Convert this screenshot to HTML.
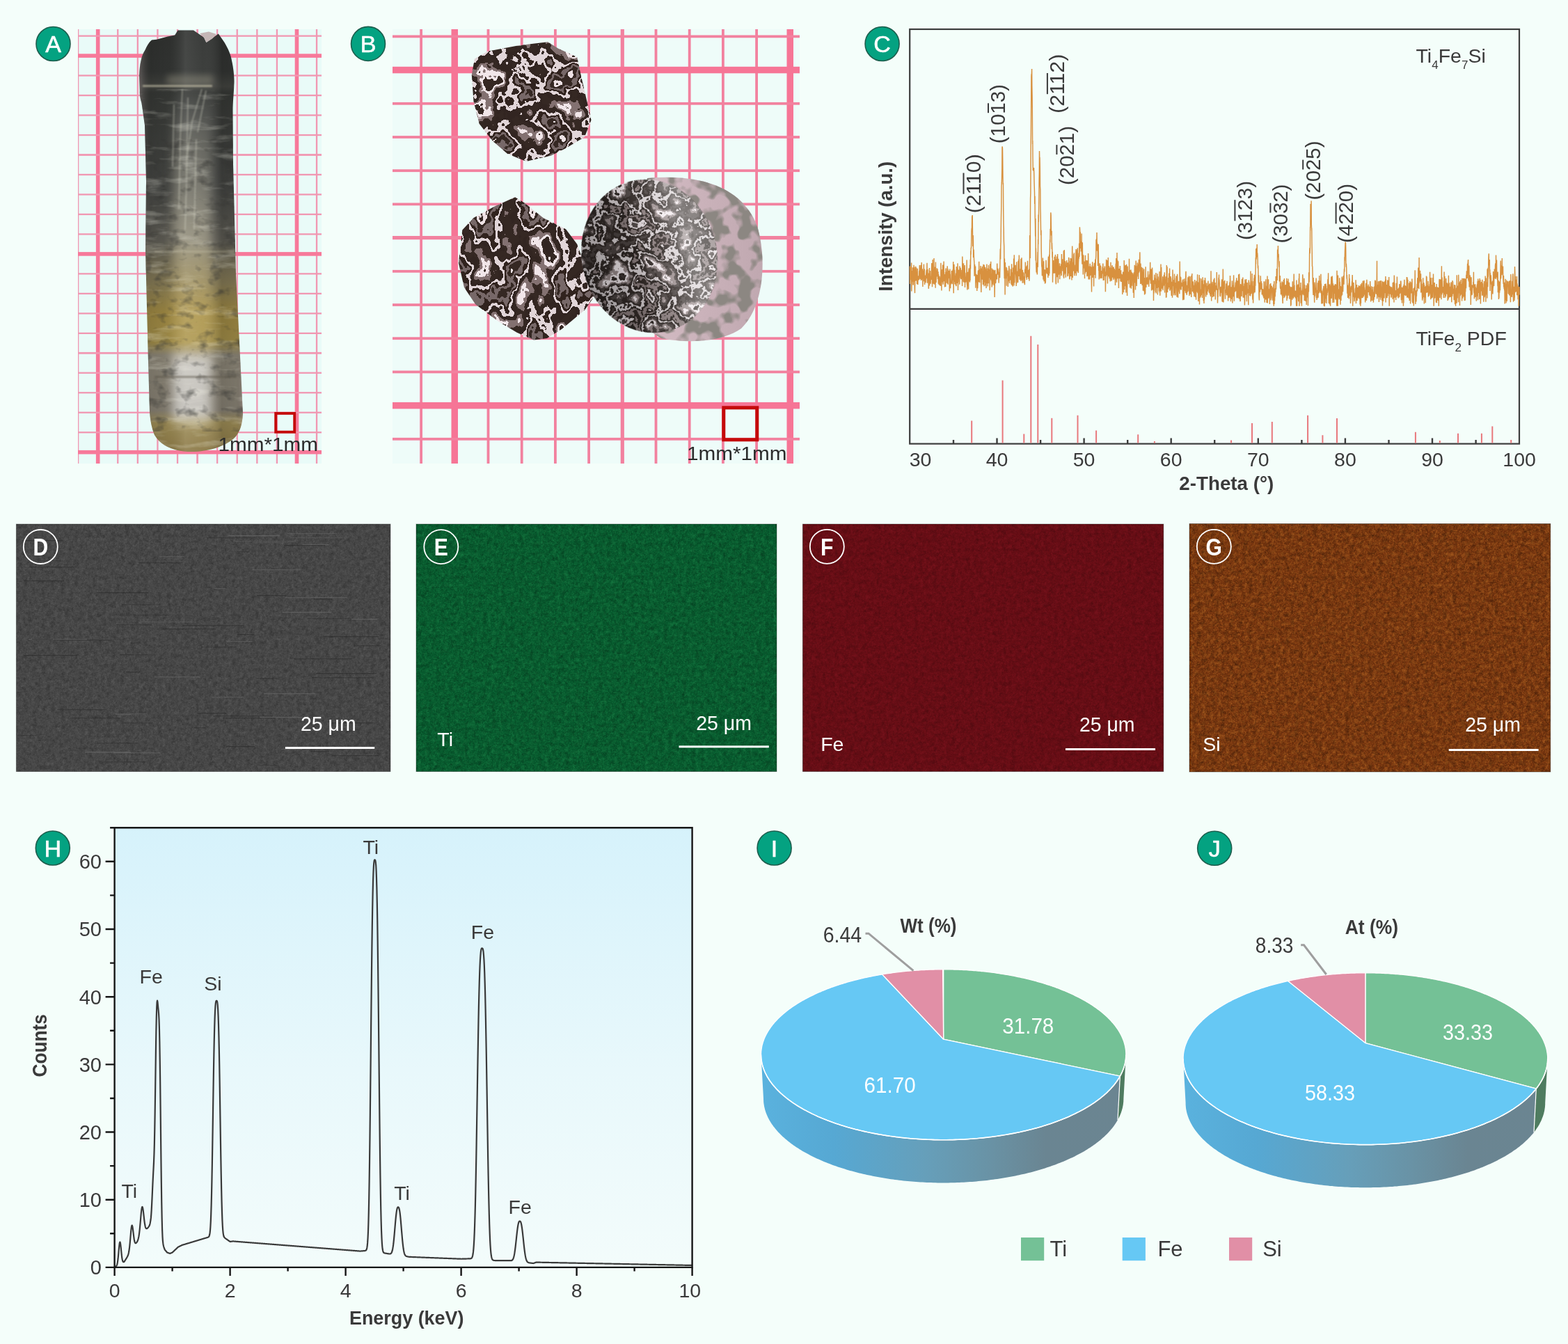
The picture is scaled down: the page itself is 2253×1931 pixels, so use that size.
<!DOCTYPE html>
<html><head><meta charset="utf-8"><title>Figure</title>
<style>html,body{margin:0;padding:0;background:#f4fefa;overflow:hidden;width:2253px;height:1931px;} svg{display:block;} text{font-family:'Liberation Sans', Arial, sans-serif;}</style>
</head><body>
<svg width="2253" height="1931" viewBox="0 0 2253 1931">
<defs><clipPath id="clipA"><rect x="112" y="42" width="350" height="624"/></clipPath><clipPath id="rodClip"><path d="M 218,57.6 L 225,56.7 L 240.8,52.4 L 251.2,50.6 L 255.6,43.5 L 278,43.5 L 293,53.7 L 296.4,61 L 305,55 L 313.8,48.5 L 322.5,61 C 328,70 332,80 333,87 C 336,100 337,115 336.3,122 C 336,135 334.5,145 334.5,160 L 335,236 L 337,315 L 339,394 L 343,473 L 347,552 L 349,595 C 348,610 345,620 338,628 C 325,641 300,649 275,649 C 252,649 232,642 222,625 C 218,615 216,605 215,592 L 213,520 L 211,440 L 209,360 L 210,260 L 208,180 C 206,165 204.5,155 203.4,148 C 201,140 200.5,135 200.8,130.5 L 200,108.8 C 200.5,100 201,93 202.6,87 C 204,80 206,76 208.7,71.5 C 211,66 214,61 218,57.6 Z"/></clipPath><linearGradient id="rodV" x1="0" y1="42" x2="0" y2="650" gradientUnits="userSpaceOnUse">
<stop offset="0" stop-color="#303230"/><stop offset="0.1" stop-color="#333533"/>
<stop offset="0.135" stop-color="#434440"/><stop offset="0.15" stop-color="#363835"/><stop offset="0.38" stop-color="#454643"/>
<stop offset="0.5" stop-color="#5e5c54"/><stop offset="0.6" stop-color="#857a55"/>
<stop offset="0.67" stop-color="#9e8842"/><stop offset="0.74" stop-color="#a08c48"/>
<stop offset="0.77" stop-color="#8a8475"/><stop offset="0.9" stop-color="#857f72"/>
<stop offset="0.93" stop-color="#9c8b55"/><stop offset="1" stop-color="#8a7846"/></linearGradient>
<linearGradient id="rodH" x1="199" y1="0" x2="349" y2="0" gradientUnits="userSpaceOnUse">
<stop offset="0" stop-color="#b8a8a8" stop-opacity="0.35"/><stop offset="0.12" stop-color="#000" stop-opacity="0.12"/>
<stop offset="0.3" stop-color="#000" stop-opacity="0.05"/><stop offset="0.45" stop-color="#fff" stop-opacity="0.1"/>
<stop offset="0.62" stop-color="#fff" stop-opacity="0.05"/><stop offset="0.8" stop-color="#000" stop-opacity="0.15"/>
<stop offset="0.94" stop-color="#000" stop-opacity="0.1"/><stop offset="1" stop-color="#a89090" stop-opacity="0.3"/></linearGradient>
<linearGradient id="rodHi" x1="0" y1="42" x2="0" y2="650" gradientUnits="userSpaceOnUse">
<stop offset="0" stop-color="#fff" stop-opacity="0"/><stop offset="0.15" stop-color="#fff" stop-opacity="0"/>
<stop offset="0.25" stop-color="#e8e4d0" stop-opacity="0.18"/><stop offset="0.5" stop-color="#e8e0c0" stop-opacity="0.4"/>
<stop offset="0.62" stop-color="#e0c880" stop-opacity="0.3"/><stop offset="0.75" stop-color="#e0c880" stop-opacity="0.25"/>
<stop offset="0.78" stop-color="#fff" stop-opacity="0.55"/><stop offset="0.92" stop-color="#fff" stop-opacity="0.5"/>
<stop offset="0.94" stop-color="#fff" stop-opacity="0.0"/><stop offset="1" stop-color="#fff" stop-opacity="0"/></linearGradient>
<filter id="blur6" color-interpolation-filters="sRGB" x="-60%" y="-5%" width="220%" height="110%"><feGaussianBlur stdDeviation="7"/></filter>
<filter id="blurS" color-interpolation-filters="sRGB" x="-50%" y="-300%" width="200%" height="700%"><feGaussianBlur stdDeviation="5"/></filter>
<filter id="blurT" color-interpolation-filters="sRGB" x="-20%" y="-5%" width="140%" height="110%"><feGaussianBlur stdDeviation="0.8"/></filter>
<filter id="blur1" color-interpolation-filters="sRGB" x="-5%" y="-100%" width="110%" height="300%"><feGaussianBlur stdDeviation="1"/></filter>
<filter id="streak" x="0" y="0" width="1" height="1" color-interpolation-filters="sRGB">
<feTurbulence type="fractalNoise" baseFrequency="0.02 0.09" numOctaves="4" seed="8"/>
<feColorMatrix type="matrix" values="0 0 0 0 1  0 0 0 0 1  0 0 0 0 0.95  2.6 0 0 0 -1.35"/>
<feComposite in2="SourceGraphic" operator="in"/></filter>
<filter id="spotD" x="0" y="0" width="1" height="1" color-interpolation-filters="sRGB">
<feTurbulence type="fractalNoise" baseFrequency="0.05 0.07" numOctaves="3" seed="3"/>
<feColorMatrix type="matrix" values="0 0 0 0 0.2  0 0 0 0 0.2  0 0 0 0 0.19  -3.2 0 0 0 1.5"/>
<feComposite in2="SourceGraphic" operator="in"/></filter>
<clipPath id="clipB"><rect x="564" y="42" width="585" height="624"/></clipPath><linearGradient id="chunk" x1="0" y1="0" x2="1" y2="1">
<stop offset="0" stop-color="#7a6a6a"/><stop offset="0.5" stop-color="#5a4e4c"/><stop offset="1" stop-color="#6a5c5a"/></linearGradient>
<linearGradient id="cylside" x1="0" y1="0" x2="1" y2="0">
<stop offset="0" stop-color="#d4bcc4"/><stop offset="1" stop-color="#c0a8b0"/></linearGradient>
<filter id="shiny" color-interpolation-filters="sRGB" x="0" y="0" width="1" height="1">
<feTurbulence type="fractalNoise" baseFrequency="0.05" numOctaves="4" seed="11"/>
<feColorMatrix type="matrix" values="0 0 0 0 1  0 0 0 0 0.97  0 0 0 0 0.97  3.2 0 0 0 -1.35"/>
<feComposite in2="SourceGraphic" operator="in"/></filter>
<filter id="shinyD" color-interpolation-filters="sRGB" x="0" y="0" width="1" height="1">
<feTurbulence type="fractalNoise" baseFrequency="0.045" numOctaves="4" seed="5"/>
<feColorMatrix type="matrix" values="0 0 0 0 0.12  0 0 0 0 0.1  0 0 0 0 0.1  -3 0 0 0 1.55"/>
<feComposite in2="SourceGraphic" operator="in"/></filter>
<filter id="spots" color-interpolation-filters="sRGB" x="0" y="0" width="1" height="1">
<feTurbulence type="fractalNoise" baseFrequency="0.05" numOctaves="2" seed="21"/>
<feColorMatrix type="matrix" values="0 0 0 0 0.55  0 0 0 0 0.53  0 0 0 0 0.51  -7 0 0 0 3.75"/>
<feComposite in2="SourceGraphic" operator="in"/></filter>
<filter id="foil" color-interpolation-filters="sRGB" x="0" y="0" width="1" height="1">
<feTurbulence type="fractalNoise" baseFrequency="0.022" numOctaves="4" seed="11" result="n"/>
<feColorMatrix in="n" type="matrix" values="1 0 0 0 0  1 0 0 0 0  1 0 0 0 0  0 0 0 0 1" result="g"/>
<feComponentTransfer in="g">
<feFuncR type="discrete" tableValues="0.17 0.17 0.16 0.95 0.17 0.45 0.15 0.9 0.16 0.17 0.5 0.97 0.17 0.16 0.17 0.16"/>
<feFuncG type="discrete" tableValues="0.13 0.13 0.12 0.92 0.13 0.4 0.11 0.87 0.12 0.13 0.44 0.94 0.13 0.12 0.13 0.12"/>
<feFuncB type="discrete" tableValues="0.11 0.11 0.1 0.93 0.11 0.4 0.09 0.88 0.1 0.11 0.44 0.95 0.11 0.1 0.11 0.1"/>
</feComponentTransfer>
<feGaussianBlur stdDeviation="0.7" result="c"/>
<feComposite in="c" in2="SourceGraphic" operator="in"/></filter>
<filter id="foil2" color-interpolation-filters="sRGB" x="0" y="0" width="1" height="1">
<feTurbulence type="fractalNoise" baseFrequency="0.025 0.018" numOctaves="4" seed="29" result="n"/>
<feColorMatrix in="n" type="matrix" values="1 0 0 0 0  1 0 0 0 0  1 0 0 0 0  0 0 0 0 1" result="g"/>
<feComponentTransfer in="g">
<feFuncR type="discrete" tableValues="0.17 0.17 0.16 0.95 0.17 0.45 0.15 0.9 0.16 0.17 0.5 0.97 0.17 0.16 0.17 0.16"/>
<feFuncG type="discrete" tableValues="0.13 0.13 0.12 0.92 0.13 0.4 0.11 0.87 0.12 0.13 0.44 0.94 0.13 0.12 0.13 0.12"/>
<feFuncB type="discrete" tableValues="0.11 0.11 0.1 0.93 0.11 0.4 0.09 0.88 0.1 0.11 0.44 0.95 0.11 0.1 0.11 0.1"/>
</feComponentTransfer>
<feGaussianBlur stdDeviation="0.7" result="c"/>
<feComposite in="c" in2="SourceGraphic" operator="in"/></filter>
<filter id="foil3" color-interpolation-filters="sRGB" x="0" y="0" width="1" height="1">
<feTurbulence type="fractalNoise" baseFrequency="0.03" numOctaves="5" seed="41" result="n"/>
<feColorMatrix in="n" type="matrix" values="1 0 0 0 0  1 0 0 0 0  1 0 0 0 0  0 0 0 0 1" result="g"/>
<feComponentTransfer in="g">
<feFuncR type="discrete" tableValues="0.2 0.18 0.3 0.9 0.2 0.55 0.18 0.85 0.2 0.3 0.6 0.95 0.2 0.25 0.2 0.18"/>
<feFuncG type="discrete" tableValues="0.17 0.15 0.27 0.87 0.17 0.5 0.15 0.82 0.17 0.27 0.55 0.92 0.17 0.22 0.17 0.15"/>
<feFuncB type="discrete" tableValues="0.16 0.14 0.26 0.88 0.16 0.5 0.14 0.83 0.16 0.26 0.55 0.93 0.16 0.21 0.16 0.14"/>
</feComponentTransfer>
<feGaussianBlur stdDeviation="0.6" result="c"/>
<feComposite in="c" in2="SourceGraphic" operator="in"/></filter>
<linearGradient id="faceHi" x1="835" y1="0" x2="1030" y2="0" gradientUnits="userSpaceOnUse">
<stop offset="0" stop-color="#000" stop-opacity="0.3"/><stop offset="0.4" stop-color="#000" stop-opacity="0.15"/>
<stop offset="0.6" stop-color="#fff" stop-opacity="0.1"/><stop offset="0.8" stop-color="#fff" stop-opacity="0.4"/><stop offset="1" stop-color="#fff" stop-opacity="0.3"/></linearGradient>
<filter id="nz1" color-interpolation-filters="sRGB" x="0" y="0" width="1" height="1">
<feTurbulence type="fractalNoise" baseFrequency="0.55" numOctaves="2" seed="2" result="n"/>
<feColorMatrix in="n" type="matrix" values="0 0 0 0 0  0 0 0 0 0  0 0 0 0 0  1.6 0 0 0 -0.7" result="a"/>
<feComposite in="SourceGraphic" in2="a" operator="in"/></filter>
<filter id="nz2" color-interpolation-filters="sRGB" x="0" y="0" width="1" height="1">
<feTurbulence type="fractalNoise" baseFrequency="0.35" numOctaves="2" seed="9" result="n"/>
<feColorMatrix in="n" type="matrix" values="0 0 0 0 0  0 0 0 0 0  0 0 0 0 0  -1.6 0 0 0 0.9" result="a"/>
<feComposite in="SourceGraphic" in2="a" operator="in"/></filter>
<filter id="nz3" color-interpolation-filters="sRGB" x="0" y="0" width="1" height="1">
<feTurbulence type="fractalNoise" baseFrequency="0.18" numOctaves="3" seed="4" result="n"/>
<feColorMatrix in="n" type="matrix" values="0 0 0 0 0  0 0 0 0 0  0 0 0 0 0  2.4 0 0 0 -1.05" result="a"/>
<feComposite in="SourceGraphic" in2="a" operator="in"/></filter>
<filter id="nz4" color-interpolation-filters="sRGB" x="0" y="0" width="1" height="1">
<feTurbulence type="fractalNoise" baseFrequency="0.15" numOctaves="3" seed="13" result="n"/>
<feColorMatrix in="n" type="matrix" values="0 0 0 0 0  0 0 0 0 0  0 0 0 0 0  -2.4 0 0 0 1.35" result="a"/>
<feComposite in="SourceGraphic" in2="a" operator="in"/></filter>
<linearGradient id="hbg" x1="0" y1="0" x2="0" y2="1"><stop offset="0" stop-color="#d6f2fb"/><stop offset="0.55" stop-color="#e8f8fb"/><stop offset="1" stop-color="#f3fcfb"/></linearGradient><linearGradient id="sideg" gradientUnits="userSpaceOnUse" x1="0" y1="0" x2="1" y2="0">
</linearGradient><linearGradient id="sideI" gradientUnits="userSpaceOnUse" x1="1093.5" y1="0" x2="1617.9" y2="0">
<stop offset="0" stop-color="#5ab2de"/><stop offset="0.2" stop-color="#56a8d3"/><stop offset="0.45" stop-color="#669fba"/>
<stop offset="0.62" stop-color="#6993a6"/><stop offset="0.78" stop-color="#6a8592"/><stop offset="1" stop-color="#6b8591"/></linearGradient><linearGradient id="sideJ" gradientUnits="userSpaceOnUse" x1="1700.1" y1="0" x2="2223.7" y2="0">
<stop offset="0" stop-color="#5ab2de"/><stop offset="0.2" stop-color="#56a8d3"/><stop offset="0.45" stop-color="#669fba"/>
<stop offset="0.62" stop-color="#6993a6"/><stop offset="0.78" stop-color="#6a8592"/><stop offset="1" stop-color="#6b8591"/></linearGradient></defs>
<rect width="2253" height="1931" fill="#f4fefa"/>
<rect x="112" y="42" width="350" height="624" fill="#e9fbf8"/>
<g clip-path="url(#clipA)"><rect x="53.8" y="42" width="2.3" height="624" fill="#f197b2"/><rect x="82.4" y="42" width="2.3" height="624" fill="#f197b2"/><rect x="111.0" y="42" width="2.3" height="624" fill="#f197b2"/><rect x="137.9" y="42" width="5.6" height="624" fill="#f7799a"/><rect x="168.1" y="42" width="2.3" height="624" fill="#f197b2"/><rect x="196.7" y="42" width="2.3" height="624" fill="#f197b2"/><rect x="225.3" y="42" width="2.3" height="624" fill="#f197b2"/><rect x="253.9" y="42" width="2.3" height="624" fill="#f197b2"/><rect x="282.2" y="42" width="2.8" height="624" fill="#f197b2"/><rect x="311.0" y="42" width="2.3" height="624" fill="#f197b2"/><rect x="339.6" y="42" width="2.3" height="624" fill="#f197b2"/><rect x="368.2" y="42" width="2.3" height="624" fill="#f197b2"/><rect x="396.8" y="42" width="2.3" height="624" fill="#f197b2"/><rect x="423.7" y="42" width="5.6" height="624" fill="#f7799a"/><rect x="453.9" y="42" width="2.3" height="624" fill="#f197b2"/><rect x="482.5" y="42" width="2.3" height="624" fill="#f197b2"/><rect x="511.1" y="42" width="2.3" height="624" fill="#f197b2"/><rect x="112" y="-6.5" width="350" height="2.3" fill="#f197b2"/><rect x="112" y="22.0" width="350" height="2.3" fill="#f197b2"/><rect x="112" y="50.5" width="350" height="2.3" fill="#f197b2"/><rect x="112" y="77.3" width="350" height="5.6" fill="#f7799a"/><rect x="112" y="107.4" width="350" height="2.3" fill="#f197b2"/><rect x="112" y="135.9" width="350" height="2.3" fill="#f197b2"/><rect x="112" y="164.4" width="350" height="2.3" fill="#f197b2"/><rect x="112" y="192.9" width="350" height="2.3" fill="#f197b2"/><rect x="112" y="221.1" width="350" height="2.8" fill="#f197b2"/><rect x="112" y="249.8" width="350" height="2.3" fill="#f197b2"/><rect x="112" y="278.3" width="350" height="2.3" fill="#f197b2"/><rect x="112" y="306.8" width="350" height="2.3" fill="#f197b2"/><rect x="112" y="335.3" width="350" height="2.3" fill="#f197b2"/><rect x="112" y="362.1" width="350" height="5.6" fill="#f7799a"/><rect x="112" y="392.2" width="350" height="2.3" fill="#f197b2"/><rect x="112" y="420.7" width="350" height="2.3" fill="#f197b2"/><rect x="112" y="449.2" width="350" height="2.3" fill="#f197b2"/><rect x="112" y="477.7" width="350" height="2.3" fill="#f197b2"/><rect x="112" y="505.9" width="350" height="2.8" fill="#f197b2"/><rect x="112" y="534.6" width="350" height="2.3" fill="#f197b2"/><rect x="112" y="563.1" width="350" height="2.3" fill="#f197b2"/><rect x="112" y="591.6" width="350" height="2.3" fill="#f197b2"/><rect x="112" y="620.1" width="350" height="2.3" fill="#f197b2"/><rect x="112" y="646.9" width="350" height="5.6" fill="#f7799a"/><rect x="112" y="677.0" width="350" height="2.3" fill="#f197b2"/><rect x="112" y="705.5" width="350" height="2.3" fill="#f197b2"/></g>
<g clip-path="url(#rodClip)">
<rect x="195" y="40" width="160" height="612" fill="url(#rodV)"/>
<rect x="195" y="40" width="160" height="612" fill="url(#rodH)"/>
<rect x="248" y="40" width="55" height="612" fill="url(#rodHi)" filter="url(#blur6)"/>
<rect x="195" y="128" width="160" height="524" fill="#fff" filter="url(#streak)" opacity="0.3"/>
<rect x="195" y="200" width="160" height="420" fill="#000" filter="url(#spotD)" opacity="0.5"/>
<rect x="240" y="108" width="66" height="14" fill="#a8a490" filter="url(#blurS)" opacity="0.35"/>
<rect x="205" y="122" width="100" height="3" fill="#d8d2b8" filter="url(#blur1)" opacity="0.55"/>
<rect x="222" y="360" width="115" height="3" fill="#d8d2b8" filter="url(#blur1)" opacity="0.25"/>
<rect x="222" y="540" width="118" height="3" fill="#5a5448" filter="url(#blur1)" opacity="0.5"/>
</g>
<path d="M 287,48 L 300,45.5 L 311,49 L 305,55.5 L 296.4,61 L 293,53.7 Z" fill="#c4b6b6"/>
<g clip-path="url(#rodClip)" stroke="#d8d8c8" stroke-width="1.6" fill="none" opacity="0.45" filter="url(#blurT)"><path d="M 262,128 L 259,200 L 257,300"/><path d="M 290,128 L 276,175 L 268,230"/><path d="M 296,130 L 284,190"/><path d="M 270,140 L 268,260 L 266,330"/><path d="M 282,200 L 279,330"/><path d="M 250,150 L 248,240"/></g>
<rect x="396.2" y="593.9" width="27" height="26.8" fill="none" stroke="#c40a0a" stroke-width="3.9"/>
<text x="313.5" y="647.7" font-size="27.5" fill="#2b2b2b" textLength="143.5" lengthAdjust="spacingAndGlyphs">1mm*1mm</text>
<rect x="564" y="42" width="585" height="624" fill="#eefcf9"/>
<g clip-path="url(#clipB)"><rect x="506.8" y="42" width="3.8" height="624" fill="#f2819f"/><rect x="555.0" y="42" width="3.8" height="624" fill="#f2819f"/><rect x="603.2" y="42" width="3.8" height="624" fill="#f2819f"/><rect x="648.5" y="42" width="9.5" height="624" fill="#f67596"/><rect x="699.6" y="42" width="3.8" height="624" fill="#f2819f"/><rect x="747.8" y="42" width="3.8" height="624" fill="#f2819f"/><rect x="796.0" y="42" width="3.8" height="624" fill="#f2819f"/><rect x="844.2" y="42" width="3.8" height="624" fill="#f2819f"/><rect x="891.7" y="42" width="5.2" height="624" fill="#f2819f"/><rect x="940.6" y="42" width="3.8" height="624" fill="#f2819f"/><rect x="988.8" y="42" width="3.8" height="624" fill="#f2819f"/><rect x="1037.0" y="42" width="3.8" height="624" fill="#f2819f"/><rect x="1085.2" y="42" width="3.8" height="624" fill="#f2819f"/><rect x="1130.5" y="42" width="9.5" height="624" fill="#f67596"/><rect x="1181.6" y="42" width="3.8" height="624" fill="#f2819f"/><rect x="1229.8" y="42" width="3.8" height="624" fill="#f2819f"/><rect x="564" y="-45.9" width="585" height="3.8" fill="#f2819f"/><rect x="564" y="2.3" width="585" height="3.8" fill="#f2819f"/><rect x="564" y="50.5" width="585" height="3.8" fill="#f2819f"/><rect x="564" y="95.8" width="585" height="9.5" fill="#f67596"/><rect x="564" y="146.9" width="585" height="3.8" fill="#f2819f"/><rect x="564" y="195.1" width="585" height="3.8" fill="#f2819f"/><rect x="564" y="243.3" width="585" height="3.8" fill="#f2819f"/><rect x="564" y="291.5" width="585" height="3.8" fill="#f2819f"/><rect x="564" y="339.0" width="585" height="5.2" fill="#f2819f"/><rect x="564" y="387.9" width="585" height="3.8" fill="#f2819f"/><rect x="564" y="436.1" width="585" height="3.8" fill="#f2819f"/><rect x="564" y="484.3" width="585" height="3.8" fill="#f2819f"/><rect x="564" y="532.5" width="585" height="3.8" fill="#f2819f"/><rect x="564" y="577.9" width="585" height="9.5" fill="#f67596"/><rect x="564" y="628.9" width="585" height="3.8" fill="#f2819f"/><rect x="564" y="677.1" width="585" height="3.8" fill="#f2819f"/><rect x="564" y="725.3" width="585" height="3.8" fill="#f2819f"/></g>
<path d="M 681.9,84.6 L 700.8,73.8 L 742.7,65.7 L 787.3,60.3 L 802.2,69.7 L 829.2,81.9 L 834.6,107.6 L 842.7,142.7 L 849.5,172.4 L 840.0,196.8 L 813.0,213.0 L 791.4,223.8 L 756.2,231.9 L 729.2,221.1 L 707.6,202.2 L 688.6,177.8 L 680.5,145.4 L 677.8,107.6 Z" fill="#000" filter="url(#foil)"/>
<path d="M 664.3,330.5 L 680.5,313.0 L 710.3,296.8 L 740.0,283.2 L 753.5,291.4 L 780.5,313.0 L 813.0,329.2 L 829.2,350.8 L 840.0,380.5 L 853.5,426.5 L 840.0,445.4 L 807.6,472.4 L 786.0,485.9 L 767.0,488.6 L 742.7,477.8 L 715.7,461.6 L 683.2,437.3 L 667.0,413.0 L 658.9,377.8 Z" fill="#000" filter="url(#foil2)"/>
<path d="M 681.9,84.6 L 700.8,73.8 L 742.7,65.7 L 787.3,60.3 L 802.2,69.7 L 829.2,81.9 L 834.6,107.6 L 842.7,142.7 L 849.5,172.4 L 840.0,196.8 L 813.0,213.0 L 791.4,223.8 L 756.2,231.9 L 729.2,221.1 L 707.6,202.2 L 688.6,177.8 L 680.5,145.4 L 677.8,107.6 Z" fill="#b08080" opacity="0.08"/>
<path d="M 664.3,330.5 L 680.5,313.0 L 710.3,296.8 L 740.0,283.2 L 753.5,291.4 L 780.5,313.0 L 813.0,329.2 L 829.2,350.8 L 840.0,380.5 L 853.5,426.5 L 840.0,445.4 L 807.6,472.4 L 786.0,485.9 L 767.0,488.6 L 742.7,477.8 L 715.7,461.6 L 683.2,437.3 L 667.0,413.0 L 658.9,377.8 Z" fill="#b08080" opacity="0.08"/>
<path d="M 930,256 C 1000,250 1065,265 1088,325 C 1102,372 1098,440 1065,472 C 1035,493 985,493 950,486 L 925,470 Z" fill="url(#cylside)"/>
<path d="M 930,256 C 1000,250 1065,265 1088,325 C 1102,372 1098,440 1065,472 C 1035,493 985,493 950,486 L 925,470 Z" fill="#000" filter="url(#spots)"/>
<ellipse cx="933" cy="368" rx="97" ry="111" transform="rotate(-14 933 368)" fill="#000" filter="url(#foil3)"/>
<ellipse cx="933" cy="368" rx="97" ry="111" transform="rotate(-14 933 368)" fill="url(#faceHi)"/>
<rect x="1039.8" y="585.8" width="48" height="46" fill="none" stroke="#c40a0a" stroke-width="5"/>
<text x="987.0" y="660.8" font-size="28" fill="#2b2b2b" textLength="143.5" lengthAdjust="spacingAndGlyphs">1mm*1mm</text>
<rect x="1307.2" y="42.0" width="875.8" height="595.6" fill="none" stroke="#3d3d3d" stroke-width="2.2"/>
<line x1="1307.2" y1="443.8" x2="2183.0" y2="443.8" stroke="#3d3d3d" stroke-width="2.2"/>
<path d="M1370.0,637.6 v-5.5 M1432.5,637.6 v-8 M1495.1,637.6 v-5.5 M1557.6,637.6 v-8 M1620.2,637.6 v-5.5 M1682.7,637.6 v-8 M1745.2,637.6 v-5.5 M1807.8,637.6 v-8 M1870.4,637.6 v-5.5 M1932.9,637.6 v-8 M1995.5,637.6 v-5.5 M2058.0,637.6 v-8 M2120.6,637.6 v-5.5" stroke="#3d3d3d" stroke-width="2.4" fill="none"/>
<path d="M1396.2,636.6 V604.4 M1440.6,636.6 V546.4 M1471.3,636.6 V623.5 M1481.3,636.6 V482.8 M1491.3,636.6 V495.0 M1511.3,636.6 V600.7 M1548.5,636.6 V596.8 M1575.1,636.6 V618.5 M1635.2,636.6 V624.2 M1658.9,636.6 V634.0 M1769.0,636.6 V632.6 M1799.0,636.6 V607.9 M1827.8,636.6 V605.9 M1879.1,636.6 V596.7 M1900.4,636.6 V625.2 M1921.0,636.6 V601.0 M2033.9,636.6 V620.7 M2068.8,636.6 V633.0 M2095.0,636.6 V622.7 M2128.9,636.6 V622.7 M2144.3,636.6 V612.6 M2171.2,636.6 V631.9" stroke="#e8787c" stroke-width="2" fill="none"/>
<polyline points="1307.4,382.5 1307.6,408.0 1307.9,387.7 1308.1,393.6 1308.4,395.3 1308.6,389.0 1308.9,383.0 1309.1,402.2 1309.3,399.5 1309.6,377.5 1309.8,418.4 1310.1,405.3 1310.3,388.9 1310.6,404.7 1310.8,391.7 1311.0,395.5 1311.3,403.6 1311.5,384.2 1311.8,401.6 1312.0,409.4 1312.3,408.7 1312.5,393.3 1312.8,404.7 1313.0,380.7 1313.2,394.7 1313.5,400.4 1313.7,383.4 1314.0,395.4 1314.2,412.6 1314.5,421.1 1314.7,403.6 1314.9,404.1 1315.2,387.1 1315.4,384.7 1315.7,382.8 1315.9,401.4 1316.2,403.4 1316.4,390.0 1316.6,384.6 1316.9,398.7 1317.1,399.2 1317.4,395.0 1317.6,408.3 1317.9,395.4 1318.1,395.7 1318.3,385.8 1318.6,397.6 1318.8,409.1 1319.1,396.9 1319.3,397.0 1319.6,400.4 1319.8,399.0 1320.1,401.4 1320.3,401.4 1320.5,402.2 1320.8,388.8 1321.0,399.2 1321.3,381.1 1321.5,398.9 1321.8,384.4 1322.0,395.7 1322.2,400.9 1322.5,398.8 1322.7,397.3 1323.0,380.8 1323.2,388.3 1323.5,403.0 1323.7,385.5 1323.9,402.6 1324.2,377.1 1324.4,387.8 1324.7,386.1 1324.9,396.5 1325.2,401.5 1325.4,386.4 1325.6,394.8 1325.9,411.9 1326.1,393.5 1326.4,388.8 1326.6,400.2 1326.9,394.4 1327.1,389.9 1327.4,379.5 1327.6,404.3 1327.8,391.1 1328.1,396.6 1328.3,386.5 1328.6,408.9 1328.8,403.7 1329.1,405.9 1329.3,395.5 1329.5,401.0 1329.8,405.1 1330.0,406.3 1330.3,399.6 1330.5,396.0 1330.8,393.2 1331.0,389.5 1331.2,387.5 1331.5,400.1 1331.7,394.3 1332.0,377.7 1332.2,395.2 1332.5,406.8 1332.7,394.1 1332.9,387.1 1333.2,395.5 1333.4,404.2 1333.7,398.6 1333.9,392.6 1334.2,414.3 1334.4,414.8 1334.7,395.8 1334.9,404.5 1335.1,400.5 1335.4,385.0 1335.6,410.6 1335.9,396.1 1336.1,397.6 1336.4,390.6 1336.6,389.1 1336.8,396.5 1337.1,407.8 1337.3,399.7 1337.6,397.3 1337.8,399.3 1338.1,397.2 1338.3,402.0 1338.5,386.2 1338.8,378.1 1339.0,392.8 1339.3,385.9 1339.5,412.2 1339.8,395.4 1340.0,394.5 1340.2,373.1 1340.5,399.6 1340.7,391.0 1341.0,407.6 1341.2,404.9 1341.5,389.5 1341.7,400.8 1342.0,371.1 1342.2,390.5 1342.4,408.8 1342.7,404.4 1342.9,398.6 1343.2,396.7 1343.4,383.5 1343.7,384.0 1343.9,399.1 1344.1,413.7 1344.4,376.4 1344.6,403.0 1344.9,402.7 1345.1,406.0 1345.4,388.8 1345.6,392.0 1345.8,397.5 1346.1,387.3 1346.3,385.4 1346.6,387.1 1346.8,396.4 1347.1,386.8 1347.3,396.8 1347.5,400.9 1347.8,390.6 1348.0,390.2 1348.3,407.7 1348.5,394.2 1348.8,396.3 1349.0,406.0 1349.3,408.9 1349.5,409.2 1349.7,401.0 1350.0,396.7 1350.2,399.9 1350.5,398.9 1350.7,410.4 1351.0,399.9 1351.2,403.2 1351.4,410.4 1351.7,410.2 1351.9,377.7 1352.2,400.8 1352.4,404.4 1352.7,399.7 1352.9,417.6 1353.1,395.8 1353.4,395.7 1353.6,387.0 1353.9,405.6 1354.1,399.4 1354.4,391.6 1354.6,380.4 1354.8,403.8 1355.1,408.8 1355.3,399.3 1355.6,388.1 1355.8,392.8 1356.1,375.5 1356.3,390.3 1356.6,404.3 1356.8,401.7 1357.0,396.3 1357.3,394.1 1357.5,412.4 1357.8,402.5 1358.0,406.0 1358.3,401.1 1358.5,391.0 1358.7,412.1 1359.0,385.6 1359.2,386.0 1359.5,393.3 1359.7,390.5 1360.0,392.1 1360.2,391.7 1360.4,406.8 1360.7,397.9 1360.9,400.8 1361.2,382.3 1361.4,389.4 1361.7,407.7 1361.9,386.0 1362.1,408.7 1362.4,387.7 1362.6,400.3 1362.9,389.4 1363.1,399.4 1363.4,388.9 1363.6,395.1 1363.8,391.0 1364.1,393.9 1364.3,418.5 1364.6,402.5 1364.8,386.4 1365.1,398.2 1365.3,393.7 1365.6,414.2 1365.8,405.7 1366.0,408.8 1366.3,403.6 1366.5,407.2 1366.8,405.1 1367.0,402.6 1367.3,389.7 1367.5,389.0 1367.7,399.4 1368.0,407.1 1368.2,408.2 1368.5,388.7 1368.7,402.7 1369.0,399.5 1369.2,387.0 1369.4,402.5 1369.7,376.1 1369.9,400.2 1370.2,421.2 1370.4,388.0 1370.7,397.9 1370.9,379.7 1371.1,390.5 1371.4,404.9 1371.6,387.8 1371.9,397.4 1372.1,408.3 1372.4,395.8 1372.6,399.5 1372.9,402.3 1373.1,409.4 1373.3,405.7 1373.6,392.4 1373.8,411.2 1374.1,409.6 1374.3,383.0 1374.6,404.1 1374.8,405.6 1375.0,407.0 1375.3,403.0 1375.5,385.5 1375.8,395.3 1376.0,378.2 1376.3,396.3 1376.5,417.1 1376.7,404.3 1377.0,405.8 1377.2,393.0 1377.5,388.2 1377.7,387.7 1378.0,399.1 1378.2,390.3 1378.4,391.8 1378.7,408.8 1378.9,382.3 1379.2,385.4 1379.4,393.1 1379.7,397.0 1379.9,396.7 1380.2,384.7 1380.4,399.8 1380.6,396.7 1380.9,401.3 1381.1,387.7 1381.4,400.3 1381.6,400.1 1381.9,391.7 1382.1,395.9 1382.3,392.7 1382.6,410.9 1382.8,368.4 1383.1,384.2 1383.3,381.8 1383.6,394.4 1383.8,391.5 1384.0,394.0 1384.3,404.8 1384.5,378.2 1384.8,389.9 1385.0,405.8 1385.3,397.4 1385.5,401.4 1385.7,401.0 1386.0,391.1 1386.2,381.1 1386.5,413.1 1386.7,402.3 1387.0,403.4 1387.2,398.5 1387.5,397.8 1387.7,405.7 1387.9,397.7 1388.2,391.8 1388.4,404.5 1388.7,398.4 1388.9,390.5 1389.2,373.4 1389.4,408.8 1389.6,404.6 1389.9,416.5 1390.1,392.7 1390.4,390.7 1390.6,401.6 1390.9,410.8 1391.1,403.3 1391.3,401.7 1391.6,415.5 1391.8,390.4 1392.1,385.4 1392.3,388.1 1392.6,393.4 1392.8,399.2 1393.0,404.3 1393.3,397.0 1393.5,405.5 1393.8,380.5 1394.0,403.0 1394.3,372.8 1394.5,386.5 1394.8,360.4 1395.0,365.8 1395.2,355.8 1395.5,357.3 1395.7,348.0 1396.0,332.4 1396.2,328.4 1396.5,327.3 1396.7,310.5 1396.9,315.7 1397.2,309.0 1397.4,328.0 1397.7,354.1 1397.9,346.3 1398.2,338.1 1398.4,346.9 1398.6,370.1 1398.9,363.2 1399.1,358.6 1399.4,369.6 1399.6,373.8 1399.9,377.7 1400.1,396.7 1400.3,393.2 1400.6,379.9 1400.8,390.1 1401.1,385.2 1401.3,385.0 1401.6,382.5 1401.8,413.7 1402.1,394.3 1402.3,402.7 1402.5,405.6 1402.8,393.7 1403.0,402.4 1403.3,402.5 1403.5,399.4 1403.8,417.9 1404.0,400.0 1404.2,395.1 1404.5,403.4 1404.7,414.2 1405.0,406.7 1405.2,396.2 1405.5,389.1 1405.7,388.4 1405.9,391.0 1406.2,400.9 1406.4,405.3 1406.7,375.7 1406.9,397.0 1407.2,386.7 1407.4,403.7 1407.6,405.9 1407.9,389.8 1408.1,392.9 1408.4,388.1 1408.6,393.6 1408.9,381.9 1409.1,386.5 1409.4,390.6 1409.6,408.8 1409.8,419.9 1410.1,397.3 1410.3,385.4 1410.6,397.8 1410.8,388.8 1411.1,401.5 1411.3,382.8 1411.5,393.6 1411.8,396.9 1412.0,402.0 1412.3,396.3 1412.5,409.1 1412.8,398.2 1413.0,379.8 1413.2,405.8 1413.5,394.2 1413.7,390.6 1414.0,411.3 1414.2,380.5 1414.5,397.7 1414.7,390.2 1414.9,405.8 1415.2,393.5 1415.4,399.2 1415.7,383.7 1415.9,410.6 1416.2,386.8 1416.4,405.6 1416.6,407.5 1416.9,408.6 1417.1,414.1 1417.4,385.8 1417.6,400.7 1417.9,379.6 1418.1,400.8 1418.4,407.3 1418.6,398.1 1418.8,389.1 1419.1,395.9 1419.3,411.4 1419.6,385.6 1419.8,397.6 1420.1,387.5 1420.3,407.3 1420.5,381.1 1420.8,393.5 1421.0,395.6 1421.3,397.9 1421.5,399.5 1421.8,389.6 1422.0,387.0 1422.2,417.2 1422.5,385.4 1422.7,378.9 1423.0,382.5 1423.2,398.6 1423.5,401.8 1423.7,375.7 1423.9,400.8 1424.2,394.1 1424.4,403.4 1424.7,393.0 1424.9,405.2 1425.2,412.6 1425.4,385.5 1425.7,410.4 1425.9,398.6 1426.1,403.5 1426.4,408.6 1426.6,387.3 1426.9,395.8 1427.1,388.8 1427.4,387.6 1427.6,399.1 1427.8,399.8 1428.1,409.2 1428.3,409.7 1428.6,396.3 1428.8,388.6 1429.1,426.9 1429.3,416.9 1429.5,395.5 1429.8,387.7 1430.0,392.5 1430.3,399.1 1430.5,407.2 1430.8,405.7 1431.0,400.6 1431.2,394.1 1431.5,398.0 1431.7,393.5 1432.0,397.1 1432.2,395.4 1432.5,401.4 1432.7,378.5 1433.0,393.1 1433.2,393.6 1433.4,385.6 1433.7,394.7 1433.9,386.3 1434.2,390.0 1434.4,393.6 1434.7,393.9 1434.9,390.8 1435.1,406.6 1435.4,397.9 1435.6,398.8 1435.9,397.4 1436.1,388.1 1436.4,384.8 1436.6,399.2 1436.8,384.9 1437.1,367.3 1437.3,357.4 1437.6,372.6 1437.8,353.4 1438.1,347.4 1438.3,328.1 1438.5,312.7 1438.8,296.9 1439.0,268.3 1439.3,262.4 1439.5,256.4 1439.8,241.4 1440.0,210.4 1440.3,211.4 1440.5,214.0 1440.7,226.8 1441.0,254.5 1441.2,264.9 1441.5,262.7 1441.7,298.3 1442.0,323.5 1442.2,328.3 1442.4,346.3 1442.7,353.6 1442.9,381.1 1443.2,400.2 1443.4,371.6 1443.7,384.9 1443.9,396.3 1444.1,423.4 1444.4,377.1 1444.6,400.3 1444.9,398.1 1445.1,391.6 1445.4,387.9 1445.6,390.8 1445.8,393.0 1446.1,383.8 1446.3,410.8 1446.6,385.3 1446.8,391.7 1447.1,389.5 1447.3,391.8 1447.6,396.6 1447.8,388.5 1448.0,393.4 1448.3,412.0 1448.5,405.6 1448.8,392.8 1449.0,404.1 1449.3,400.9 1449.5,397.6 1449.7,381.9 1450.0,384.5 1450.2,387.1 1450.5,407.1 1450.7,397.5 1451.0,400.5 1451.2,396.7 1451.4,398.7 1451.7,399.2 1451.9,402.4 1452.2,396.7 1452.4,386.4 1452.7,387.6 1452.9,406.6 1453.1,408.4 1453.4,400.3 1453.6,379.3 1453.9,409.9 1454.1,398.0 1454.4,394.2 1454.6,395.0 1454.9,391.3 1455.1,411.5 1455.3,410.7 1455.6,384.6 1455.8,392.9 1456.1,397.6 1456.3,406.8 1456.6,371.5 1456.8,403.4 1457.0,410.4 1457.3,366.2 1457.5,384.6 1457.8,406.3 1458.0,397.9 1458.3,381.6 1458.5,383.2 1458.7,384.4 1459.0,380.7 1459.2,394.1 1459.5,389.2 1459.7,394.5 1460.0,400.8 1460.2,411.0 1460.4,396.1 1460.7,376.3 1460.9,407.2 1461.2,392.8 1461.4,405.0 1461.7,389.6 1461.9,396.7 1462.1,392.5 1462.4,393.5 1462.6,405.9 1462.9,387.5 1463.1,374.8 1463.4,395.7 1463.6,389.9 1463.9,372.6 1464.1,396.9 1464.3,366.5 1464.6,379.2 1464.8,389.1 1465.1,397.5 1465.3,401.6 1465.6,401.3 1465.8,399.0 1466.0,389.9 1466.3,386.2 1466.5,390.7 1466.8,403.9 1467.0,371.9 1467.3,384.1 1467.5,387.7 1467.7,373.7 1468.0,370.3 1468.2,400.8 1468.5,402.5 1468.7,400.5 1469.0,388.1 1469.2,406.8 1469.4,387.7 1469.7,401.5 1469.9,392.3 1470.2,392.7 1470.4,391.3 1470.7,392.6 1470.9,403.3 1471.2,406.4 1471.4,406.3 1471.6,401.3 1471.9,399.0 1472.1,396.9 1472.4,409.3 1472.6,388.3 1472.9,386.5 1473.1,392.9 1473.3,376.6 1473.6,390.2 1473.8,391.8 1474.1,382.6 1474.3,386.9 1474.6,398.9 1474.8,390.1 1475.0,393.0 1475.3,402.1 1475.5,386.4 1475.8,381.3 1476.0,391.7 1476.3,396.1 1476.5,374.8 1476.7,398.3 1477.0,389.0 1477.2,388.0 1477.5,396.5 1477.7,390.1 1478.0,400.9 1478.2,396.5 1478.5,398.7 1478.7,386.6 1478.9,403.6 1479.2,397.7 1479.4,380.5 1479.7,338.0 1479.9,361.9 1480.2,371.0 1480.4,322.0 1480.6,284.8 1480.9,277.4 1481.1,218.6 1481.4,191.6 1481.6,159.5 1481.9,109.9 1482.1,106.3 1482.3,109.1 1482.6,99.0 1482.8,123.0 1483.1,138.6 1483.3,155.7 1483.6,207.6 1483.8,202.0 1484.0,227.0 1484.3,245.0 1484.5,241.3 1484.8,241.4 1485.0,245.4 1485.3,244.9 1485.5,240.9 1485.8,251.9 1486.0,260.8 1486.2,267.3 1486.5,276.4 1486.7,293.0 1487.0,281.8 1487.2,307.3 1487.5,323.8 1487.7,339.8 1487.9,314.1 1488.2,374.4 1488.4,356.5 1488.7,374.3 1488.9,384.2 1489.2,391.5 1489.4,377.5 1489.6,380.7 1489.9,390.3 1490.1,392.3 1490.4,394.5 1490.6,383.2 1490.9,373.5 1491.1,362.1 1491.3,383.7 1491.6,344.0 1491.8,351.0 1492.1,308.5 1492.3,318.9 1492.6,302.3 1492.8,287.7 1493.1,257.6 1493.3,248.3 1493.5,217.0 1493.8,232.6 1494.0,226.1 1494.3,241.4 1494.5,267.5 1494.8,273.1 1495.0,300.6 1495.2,306.8 1495.5,330.0 1495.7,337.9 1496.0,330.7 1496.2,358.5 1496.5,370.7 1496.7,380.5 1496.9,383.0 1497.2,384.4 1497.4,396.3 1497.7,394.2 1497.9,385.0 1498.2,382.1 1498.4,370.4 1498.6,386.6 1498.9,397.5 1499.1,401.7 1499.4,384.2 1499.6,375.2 1499.9,390.9 1500.1,404.3 1500.4,387.1 1500.6,388.1 1500.8,387.1 1501.1,389.5 1501.3,401.3 1501.6,407.6 1501.8,393.3 1502.1,387.8 1502.3,406.4 1502.5,389.7 1502.8,389.3 1503.0,373.8 1503.3,385.6 1503.5,390.8 1503.8,385.8 1504.0,392.4 1504.2,389.3 1504.5,393.7 1504.7,384.7 1505.0,386.4 1505.2,390.5 1505.5,388.8 1505.7,389.0 1505.9,398.9 1506.2,377.3 1506.4,368.5 1506.7,393.1 1506.9,382.7 1507.2,395.9 1507.4,379.7 1507.7,365.8 1507.9,393.0 1508.1,370.1 1508.4,355.0 1508.6,344.3 1508.9,348.6 1509.1,328.7 1509.4,331.5 1509.6,333.2 1509.8,305.3 1510.1,308.7 1510.3,323.4 1510.6,338.6 1510.8,337.6 1511.1,331.8 1511.3,358.1 1511.5,348.9 1511.8,358.4 1512.0,370.2 1512.3,361.8 1512.5,405.8 1512.8,391.3 1513.0,384.4 1513.2,378.6 1513.5,374.0 1513.7,389.2 1514.0,392.6 1514.2,382.5 1514.5,384.5 1514.7,391.6 1514.9,385.8 1515.2,368.7 1515.4,392.6 1515.7,388.5 1515.9,392.0 1516.2,379.0 1516.4,365.9 1516.7,374.2 1516.9,388.8 1517.1,405.7 1517.4,408.3 1517.6,388.7 1517.9,372.0 1518.1,382.6 1518.4,390.0 1518.6,368.4 1518.8,386.5 1519.1,398.3 1519.3,377.0 1519.6,364.9 1519.8,377.1 1520.1,374.3 1520.3,406.6 1520.5,383.5 1520.8,371.7 1521.0,391.1 1521.3,394.7 1521.5,385.6 1521.8,386.9 1522.0,394.7 1522.2,389.9 1522.5,378.3 1522.7,401.3 1523.0,393.7 1523.2,388.0 1523.5,393.0 1523.7,390.2 1524.0,382.4 1524.2,383.2 1524.4,390.4 1524.7,379.2 1524.9,395.4 1525.2,396.0 1525.4,365.1 1525.7,383.7 1525.9,377.1 1526.1,378.2 1526.4,385.6 1526.6,372.2 1526.9,389.5 1527.1,387.1 1527.4,387.5 1527.6,376.5 1527.8,380.6 1528.1,397.7 1528.3,360.3 1528.6,400.1 1528.8,378.4 1529.1,394.9 1529.3,359.0 1529.5,374.0 1529.8,391.6 1530.0,384.9 1530.3,393.1 1530.5,375.1 1530.8,378.0 1531.0,377.1 1531.3,398.8 1531.5,387.6 1531.7,382.0 1532.0,380.6 1532.2,380.3 1532.5,383.9 1532.7,374.0 1533.0,382.5 1533.2,381.7 1533.4,378.0 1533.7,377.7 1533.9,397.2 1534.2,377.3 1534.4,387.1 1534.7,396.2 1534.9,390.3 1535.1,383.5 1535.4,392.9 1535.6,369.8 1535.9,371.6 1536.1,379.6 1536.4,381.3 1536.6,382.5 1536.8,401.3 1537.1,399.5 1537.3,383.1 1537.6,385.9 1537.8,374.9 1538.1,390.3 1538.3,370.8 1538.6,396.9 1538.8,378.7 1539.0,388.9 1539.3,371.3 1539.5,396.9 1539.8,389.5 1540.0,402.4 1540.3,384.4 1540.5,368.4 1540.7,353.6 1541.0,371.9 1541.2,398.9 1541.5,378.0 1541.7,376.8 1542.0,389.6 1542.2,386.5 1542.4,388.7 1542.7,379.2 1542.9,365.1 1543.2,371.2 1543.4,363.2 1543.7,396.3 1543.9,392.8 1544.1,380.6 1544.4,390.1 1544.6,390.6 1544.9,390.3 1545.1,389.3 1545.4,392.7 1545.6,385.1 1545.9,363.2 1546.1,358.0 1546.3,396.2 1546.6,389.8 1546.8,360.2 1547.1,385.6 1547.3,375.4 1547.6,378.2 1547.8,358.3 1548.0,389.8 1548.3,356.2 1548.5,388.6 1548.8,372.9 1549.0,390.4 1549.3,392.1 1549.5,377.2 1549.7,374.2 1550.0,363.5 1550.2,371.7 1550.5,361.4 1550.7,349.4 1551.0,368.9 1551.2,361.3 1551.4,326.2 1551.7,331.6 1551.9,345.3 1552.2,333.2 1552.4,356.9 1552.7,346.8 1552.9,351.1 1553.2,355.8 1553.4,361.4 1553.6,348.3 1553.9,359.6 1554.1,335.4 1554.4,367.3 1554.6,358.1 1554.9,379.6 1555.1,374.1 1555.3,348.2 1555.6,375.3 1555.8,365.5 1556.1,381.4 1556.3,394.4 1556.6,375.5 1556.8,366.5 1557.0,382.4 1557.3,379.0 1557.5,384.4 1557.8,379.1 1558.0,385.8 1558.3,375.6 1558.5,400.3 1558.7,383.4 1559.0,390.6 1559.2,393.0 1559.5,366.7 1559.7,390.2 1560.0,383.5 1560.2,381.7 1560.5,383.8 1560.7,390.7 1560.9,373.9 1561.2,377.4 1561.4,378.4 1561.7,380.7 1561.9,397.2 1562.2,385.8 1562.4,374.3 1562.6,387.6 1562.9,396.4 1563.1,379.1 1563.4,396.1 1563.6,364.1 1563.9,377.9 1564.1,400.5 1564.3,401.3 1564.6,383.3 1564.8,382.4 1565.1,394.4 1565.3,382.7 1565.6,401.4 1565.8,384.6 1566.0,394.0 1566.3,378.7 1566.5,396.1 1566.8,384.4 1567.0,384.6 1567.3,382.9 1567.5,385.8 1567.7,391.7 1568.0,395.1 1568.2,395.1 1568.5,419.5 1568.7,383.9 1569.0,398.2 1569.2,380.9 1569.5,385.4 1569.7,376.2 1569.9,398.9 1570.2,389.8 1570.4,388.7 1570.7,386.3 1570.9,396.3 1571.2,382.8 1571.4,391.4 1571.6,411.6 1571.9,386.2 1572.1,381.6 1572.4,377.8 1572.6,395.0 1572.9,387.5 1573.1,379.1 1573.3,377.5 1573.6,384.4 1573.8,372.6 1574.1,399.7 1574.3,374.5 1574.6,370.7 1574.8,366.9 1575.0,345.4 1575.3,343.7 1575.5,349.3 1575.8,348.4 1576.0,333.9 1576.3,360.5 1576.5,348.8 1576.8,358.6 1577.0,360.7 1577.2,351.6 1577.5,382.0 1577.7,365.1 1578.0,351.0 1578.2,351.3 1578.5,377.5 1578.7,389.0 1578.9,383.8 1579.2,401.5 1579.4,383.4 1579.7,392.6 1579.9,394.8 1580.2,378.3 1580.4,391.3 1580.6,392.0 1580.9,399.0 1581.1,400.2 1581.4,398.0 1581.6,381.4 1581.9,395.7 1582.1,398.9 1582.3,389.1 1582.6,395.9 1582.8,396.1 1583.1,400.1 1583.3,389.7 1583.6,393.5 1583.8,390.9 1584.1,384.2 1584.3,383.3 1584.5,386.0 1584.8,378.6 1585.0,387.4 1585.3,402.9 1585.5,395.3 1585.8,396.6 1586.0,388.4 1586.2,402.8 1586.5,385.3 1586.7,396.9 1587.0,393.7 1587.2,382.7 1587.5,383.1 1587.7,397.0 1587.9,390.3 1588.2,392.6 1588.4,419.3 1588.7,395.5 1588.9,391.3 1589.2,397.2 1589.4,384.6 1589.6,372.8 1589.9,394.7 1590.1,395.3 1590.4,390.3 1590.6,388.9 1590.9,391.7 1591.1,374.0 1591.4,407.6 1591.6,390.0 1591.8,396.1 1592.1,381.2 1592.3,370.1 1592.6,391.4 1592.8,388.1 1593.1,397.4 1593.3,382.5 1593.5,382.0 1593.8,394.6 1594.0,398.1 1594.3,400.3 1594.5,391.3 1594.8,394.1 1595.0,384.2 1595.2,404.3 1595.5,402.6 1595.7,401.6 1596.0,376.7 1596.2,400.3 1596.5,385.1 1596.7,396.8 1596.9,396.2 1597.2,403.8 1597.4,390.4 1597.7,389.0 1597.9,382.8 1598.2,381.2 1598.4,398.0 1598.7,383.9 1598.9,398.9 1599.1,389.0 1599.4,387.3 1599.6,401.8 1599.9,400.9 1600.1,383.4 1600.4,391.2 1600.6,392.8 1600.8,399.3 1601.1,386.0 1601.3,389.1 1601.6,392.0 1601.8,399.7 1602.1,401.7 1602.3,388.1 1602.5,410.0 1602.8,397.4 1603.0,385.9 1603.3,378.8 1603.5,388.8 1603.8,371.0 1604.0,395.4 1604.2,399.0 1604.5,405.8 1604.7,398.5 1605.0,362.9 1605.2,391.2 1605.5,400.6 1605.7,373.4 1606.0,386.3 1606.2,400.0 1606.4,394.7 1606.7,375.2 1606.9,389.5 1607.2,394.6 1607.4,414.1 1607.7,390.3 1607.9,385.9 1608.1,396.9 1608.4,397.8 1608.6,400.1 1608.9,386.2 1609.1,394.2 1609.4,381.9 1609.6,395.4 1609.8,395.2 1610.1,404.3 1610.3,403.1 1610.6,388.2 1610.8,402.6 1611.1,404.8 1611.3,393.6 1611.5,404.4 1611.8,397.1 1612.0,397.3 1612.3,394.2 1612.5,403.3 1612.8,423.0 1613.0,398.0 1613.3,395.9 1613.5,393.7 1613.7,390.5 1614.0,399.1 1614.2,394.8 1614.5,420.2 1614.7,403.3 1615.0,413.9 1615.2,374.0 1615.4,394.4 1615.7,416.0 1615.9,380.6 1616.2,397.9 1616.4,381.9 1616.7,411.3 1616.9,383.3 1617.1,393.9 1617.4,395.2 1617.6,380.9 1617.9,420.4 1618.1,395.4 1618.4,412.7 1618.6,379.8 1618.8,383.3 1619.1,399.3 1619.3,399.1 1619.6,425.1 1619.8,387.4 1620.1,382.6 1620.3,390.8 1620.5,400.4 1620.8,403.0 1621.0,390.6 1621.3,394.4 1621.5,402.9 1621.8,408.2 1622.0,392.2 1622.3,399.1 1622.5,371.7 1622.7,388.8 1623.0,402.1 1623.2,398.0 1623.5,396.4 1623.7,413.5 1624.0,395.5 1624.2,387.9 1624.4,400.4 1624.7,400.4 1624.9,387.6 1625.2,408.1 1625.4,414.8 1625.7,393.1 1625.9,390.5 1626.1,398.0 1626.4,410.7 1626.6,393.6 1626.9,392.0 1627.1,393.4 1627.4,401.4 1627.6,401.2 1627.8,397.6 1628.1,410.7 1628.3,420.7 1628.6,393.9 1628.8,409.3 1629.1,391.8 1629.3,428.1 1629.6,391.3 1629.8,396.4 1630.0,400.7 1630.3,380.8 1630.5,397.7 1630.8,406.5 1631.0,385.9 1631.3,382.2 1631.5,416.4 1631.7,393.5 1632.0,390.3 1632.2,374.4 1632.5,396.9 1632.7,381.8 1633.0,401.7 1633.2,411.0 1633.4,399.5 1633.7,385.4 1633.9,397.6 1634.2,385.4 1634.4,377.4 1634.7,381.7 1634.9,387.1 1635.1,379.8 1635.4,386.9 1635.6,401.1 1635.9,385.6 1636.1,386.4 1636.4,372.7 1636.6,391.8 1636.9,383.0 1637.1,390.1 1637.3,374.3 1637.6,373.4 1637.8,362.3 1638.1,383.0 1638.3,380.1 1638.6,380.3 1638.8,408.1 1639.0,378.6 1639.3,393.2 1639.5,394.6 1639.8,402.2 1640.0,407.7 1640.3,383.7 1640.5,394.5 1640.7,393.5 1641.0,407.2 1641.2,409.9 1641.5,397.3 1641.7,396.3 1642.0,384.7 1642.2,405.2 1642.4,417.7 1642.7,405.5 1642.9,395.3 1643.2,394.1 1643.4,395.3 1643.7,386.5 1643.9,418.6 1644.2,402.9 1644.4,399.1 1644.6,423.5 1644.9,404.4 1645.1,416.5 1645.4,405.0 1645.6,422.2 1645.9,403.2 1646.1,383.2 1646.3,406.5 1646.6,409.4 1646.8,413.0 1647.1,404.6 1647.3,400.4 1647.6,399.3 1647.8,405.8 1648.0,398.2 1648.3,399.8 1648.5,408.1 1648.8,408.6 1649.0,407.8 1649.3,396.0 1649.5,389.4 1649.7,405.8 1650.0,404.3 1650.2,399.7 1650.5,405.3 1650.7,411.9 1651.0,401.5 1651.2,399.6 1651.5,394.2 1651.7,401.4 1651.9,395.7 1652.2,389.8 1652.4,397.3 1652.7,376.7 1652.9,403.1 1653.2,402.5 1653.4,407.6 1653.6,389.1 1653.9,406.2 1654.1,386.5 1654.4,395.5 1654.6,417.6 1654.9,405.6 1655.1,415.3 1655.3,393.7 1655.6,384.4 1655.8,397.1 1656.1,416.4 1656.3,413.1 1656.6,414.5 1656.8,403.0 1657.0,403.6 1657.3,402.6 1657.5,432.1 1657.8,405.4 1658.0,421.4 1658.3,403.0 1658.5,417.8 1658.8,394.5 1659.0,400.0 1659.2,408.3 1659.5,399.5 1659.7,401.1 1660.0,403.5 1660.2,399.9 1660.5,419.9 1660.7,415.9 1660.9,391.9 1661.2,421.6 1661.4,405.0 1661.7,405.1 1661.9,403.9 1662.2,413.8 1662.4,412.3 1662.6,400.6 1662.9,406.1 1663.1,393.2 1663.4,423.4 1663.6,397.7 1663.9,397.4 1664.1,399.1 1664.3,407.3 1664.6,413.1 1664.8,402.7 1665.1,406.3 1665.3,402.9 1665.6,418.4 1665.8,408.4 1666.1,390.1 1666.3,420.4 1666.5,409.6 1666.8,424.8 1667.0,400.6 1667.3,401.8 1667.5,404.9 1667.8,393.2 1668.0,379.6 1668.2,418.7 1668.5,413.4 1668.7,383.9 1669.0,413.9 1669.2,410.3 1669.5,414.8 1669.7,407.4 1669.9,408.9 1670.2,407.6 1670.4,407.6 1670.7,397.3 1670.9,417.1 1671.2,409.3 1671.4,411.0 1671.6,410.6 1671.9,404.5 1672.1,406.9 1672.4,394.8 1672.6,397.5 1672.9,410.2 1673.1,405.3 1673.3,391.3 1673.6,420.4 1673.8,406.1 1674.1,407.6 1674.3,404.9 1674.6,402.2 1674.8,404.1 1675.1,397.4 1675.3,400.3 1675.5,427.7 1675.8,419.3 1676.0,427.2 1676.3,381.1 1676.5,390.3 1676.8,395.3 1677.0,383.3 1677.2,418.7 1677.5,420.1 1677.7,409.5 1678.0,412.1 1678.2,412.1 1678.5,406.1 1678.7,415.6 1678.9,399.0 1679.2,404.5 1679.4,407.4 1679.7,392.6 1679.9,399.3 1680.2,413.0 1680.4,412.2 1680.6,385.5 1680.9,417.7 1681.1,412.4 1681.4,416.4 1681.6,408.5 1681.9,414.8 1682.1,396.9 1682.4,407.2 1682.6,399.2 1682.8,404.4 1683.1,420.6 1683.3,424.9 1683.6,409.8 1683.8,404.7 1684.1,417.0 1684.3,413.9 1684.5,427.8 1684.8,415.6 1685.0,387.4 1685.3,410.3 1685.5,406.7 1685.8,402.1 1686.0,411.1 1686.2,410.4 1686.5,406.5 1686.7,424.2 1687.0,413.5 1687.2,413.8 1687.5,393.5 1687.7,421.6 1687.9,399.5 1688.2,421.6 1688.4,407.9 1688.7,424.3 1688.9,423.7 1689.2,415.0 1689.4,406.0 1689.7,413.0 1689.9,413.7 1690.1,396.5 1690.4,407.3 1690.6,403.8 1690.9,423.5 1691.1,426.7 1691.4,403.7 1691.6,393.7 1691.8,398.1 1692.1,413.1 1692.3,418.4 1692.6,427.7 1692.8,408.7 1693.1,419.6 1693.3,409.4 1693.5,404.0 1693.8,407.6 1694.0,403.7 1694.3,415.2 1694.5,411.0 1694.8,422.2 1695.0,406.0 1695.2,375.6 1695.5,401.7 1695.7,414.4 1696.0,397.2 1696.2,404.1 1696.5,416.3 1696.7,398.2 1697.0,416.6 1697.2,414.5 1697.4,405.8 1697.7,410.9 1697.9,406.7 1698.2,407.7 1698.4,408.4 1698.7,411.7 1698.9,410.7 1699.1,404.5 1699.4,402.3 1699.6,431.2 1699.9,401.2 1700.1,410.2 1700.4,423.1 1700.6,421.1 1700.8,404.9 1701.1,430.8 1701.3,428.5 1701.6,408.9 1701.8,400.2 1702.1,417.9 1702.3,410.2 1702.5,409.2 1702.8,404.4 1703.0,406.4 1703.3,413.7 1703.5,420.7 1703.8,392.6 1704.0,389.7 1704.3,421.4 1704.5,404.3 1704.7,418.8 1705.0,413.4 1705.2,423.8 1705.5,421.0 1705.7,409.8 1706.0,411.0 1706.2,415.5 1706.4,419.6 1706.7,406.6 1706.9,398.2 1707.2,413.6 1707.4,412.3 1707.7,411.2 1707.9,403.3 1708.1,418.5 1708.4,396.5 1708.6,408.3 1708.9,425.1 1709.1,402.4 1709.4,416.9 1709.6,417.3 1709.8,417.1 1710.1,397.2 1710.3,422.7 1710.6,414.5 1710.8,417.9 1711.1,416.1 1711.3,413.8 1711.6,424.9 1711.8,427.0 1712.0,395.8 1712.3,406.0 1712.5,411.9 1712.8,392.9 1713.0,407.0 1713.3,406.2 1713.5,418.9 1713.7,415.7 1714.0,411.6 1714.2,404.2 1714.5,410.3 1714.7,414.6 1715.0,421.3 1715.2,411.9 1715.4,410.2 1715.7,411.6 1715.9,426.3 1716.2,416.8 1716.4,407.7 1716.7,402.1 1716.9,410.2 1717.1,405.5 1717.4,410.2 1717.6,427.1 1717.9,420.8 1718.1,416.4 1718.4,418.2 1718.6,430.7 1718.9,403.6 1719.1,418.6 1719.3,412.5 1719.6,415.8 1719.8,415.2 1720.1,411.6 1720.3,419.7 1720.6,394.2 1720.8,417.4 1721.0,421.1 1721.3,405.7 1721.5,405.5 1721.8,432.9 1722.0,406.3 1722.3,411.3 1722.5,407.6 1722.7,409.1 1723.0,408.6 1723.2,395.0 1723.5,437.6 1723.7,408.2 1724.0,399.4 1724.2,414.4 1724.4,427.9 1724.7,421.7 1724.9,425.9 1725.2,426.3 1725.4,423.2 1725.7,415.6 1725.9,423.9 1726.1,400.3 1726.4,423.8 1726.6,422.1 1726.9,418.3 1727.1,402.9 1727.4,428.1 1727.6,409.2 1727.9,421.5 1728.1,398.2 1728.3,414.0 1728.6,409.6 1728.8,408.4 1729.1,409.5 1729.3,432.6 1729.6,415.5 1729.8,419.1 1730.0,436.1 1730.3,402.4 1730.5,430.4 1730.8,405.3 1731.0,410.1 1731.3,412.2 1731.5,399.0 1731.7,401.6 1732.0,405.4 1732.2,410.9 1732.5,423.0 1732.7,426.5 1733.0,412.8 1733.2,419.8 1733.4,420.4 1733.7,406.4 1733.9,418.4 1734.2,410.7 1734.4,423.8 1734.7,414.2 1734.9,416.7 1735.2,418.7 1735.4,417.7 1735.6,409.5 1735.9,403.6 1736.1,415.7 1736.4,410.9 1736.6,411.3 1736.9,415.3 1737.1,409.6 1737.3,420.6 1737.6,420.1 1737.8,407.8 1738.1,419.8 1738.3,407.3 1738.6,423.2 1738.8,422.2 1739.0,416.2 1739.3,424.8 1739.5,426.0 1739.8,420.5 1740.0,389.2 1740.3,417.6 1740.5,418.3 1740.7,432.5 1741.0,407.1 1741.2,423.0 1741.5,419.7 1741.7,420.2 1742.0,404.7 1742.2,408.2 1742.5,427.1 1742.7,424.2 1742.9,415.6 1743.2,425.0 1743.4,418.9 1743.7,412.5 1743.9,401.5 1744.2,426.0 1744.4,415.1 1744.6,418.6 1744.9,399.4 1745.1,411.3 1745.4,419.2 1745.6,414.1 1745.9,409.5 1746.1,405.9 1746.3,430.5 1746.6,412.9 1746.8,413.2 1747.1,413.7 1747.3,410.3 1747.6,413.3 1747.8,410.6 1748.0,416.7 1748.3,391.0 1748.5,406.1 1748.8,416.7 1749.0,414.8 1749.3,417.9 1749.5,435.4 1749.8,426.0 1750.0,427.1 1750.2,420.4 1750.5,415.3 1750.7,408.9 1751.0,398.9 1751.2,403.1 1751.5,394.5 1751.7,405.9 1751.9,401.5 1752.2,407.4 1752.4,416.3 1752.7,412.6 1752.9,424.8 1753.2,425.0 1753.4,426.1 1753.6,424.6 1753.9,419.0 1754.1,411.7 1754.4,420.8 1754.6,414.2 1754.9,414.7 1755.1,420.4 1755.3,406.3 1755.6,401.3 1755.8,419.6 1756.1,433.3 1756.3,427.1 1756.6,433.6 1756.8,403.4 1757.1,410.5 1757.3,386.5 1757.5,408.5 1757.8,434.5 1758.0,431.8 1758.3,407.1 1758.5,413.6 1758.8,408.9 1759.0,404.0 1759.2,414.4 1759.5,413.6 1759.7,402.7 1760.0,419.2 1760.2,423.3 1760.5,429.7 1760.7,416.0 1760.9,420.9 1761.2,416.8 1761.4,420.9 1761.7,415.5 1761.9,407.5 1762.2,411.9 1762.4,423.7 1762.6,407.1 1762.9,424.4 1763.1,403.7 1763.4,422.5 1763.6,422.4 1763.9,414.8 1764.1,416.6 1764.4,414.7 1764.6,432.6 1764.8,412.7 1765.1,410.0 1765.3,427.6 1765.6,427.3 1765.8,420.0 1766.1,415.5 1766.3,426.5 1766.5,409.8 1766.8,409.6 1767.0,405.3 1767.3,428.3 1767.5,396.1 1767.8,404.8 1768.0,419.3 1768.2,420.8 1768.5,433.3 1768.7,420.9 1769.0,412.3 1769.2,430.0 1769.5,427.0 1769.7,427.9 1769.9,427.0 1770.2,421.8 1770.4,403.4 1770.7,407.1 1770.9,435.5 1771.2,417.4 1771.4,409.5 1771.6,417.5 1771.9,426.1 1772.1,420.7 1772.4,417.2 1772.6,395.3 1772.9,417.6 1773.1,415.8 1773.4,432.8 1773.6,417.1 1773.8,416.6 1774.1,412.9 1774.3,415.9 1774.6,419.6 1774.8,412.3 1775.1,408.8 1775.3,405.5 1775.5,418.2 1775.8,413.8 1776.0,414.1 1776.3,402.8 1776.5,409.5 1776.8,399.3 1777.0,426.0 1777.2,428.2 1777.5,413.1 1777.7,416.0 1778.0,421.5 1778.2,403.2 1778.5,404.7 1778.7,428.2 1778.9,407.4 1779.2,416.6 1779.4,410.8 1779.7,394.2 1779.9,410.8 1780.2,424.9 1780.4,429.5 1780.7,393.4 1780.9,402.4 1781.1,411.7 1781.4,426.5 1781.6,418.6 1781.9,432.1 1782.1,433.0 1782.4,426.6 1782.6,407.9 1782.8,425.9 1783.1,414.8 1783.3,417.5 1783.6,413.9 1783.8,409.3 1784.1,425.8 1784.3,407.7 1784.5,400.8 1784.8,410.7 1785.0,418.2 1785.3,416.7 1785.5,415.9 1785.8,398.5 1786.0,409.0 1786.2,427.4 1786.5,415.6 1786.7,410.8 1787.0,427.8 1787.2,411.9 1787.5,424.3 1787.7,419.2 1788.0,407.2 1788.2,426.9 1788.4,438.4 1788.7,429.2 1788.9,401.6 1789.2,406.7 1789.4,414.1 1789.7,415.5 1789.9,423.7 1790.1,417.4 1790.4,419.0 1790.6,401.1 1790.9,416.7 1791.1,422.2 1791.4,433.2 1791.6,424.6 1791.8,418.1 1792.1,406.0 1792.3,417.1 1792.6,417.2 1792.8,415.8 1793.1,418.6 1793.3,422.0 1793.5,415.2 1793.8,438.3 1794.0,407.9 1794.3,402.4 1794.5,420.9 1794.8,405.6 1795.0,415.2 1795.3,416.4 1795.5,409.5 1795.7,424.7 1796.0,423.3 1796.2,418.5 1796.5,422.9 1796.7,425.4 1797.0,389.4 1797.2,422.8 1797.4,418.5 1797.7,417.2 1797.9,412.8 1798.2,409.1 1798.4,420.3 1798.7,403.8 1798.9,421.9 1799.1,393.1 1799.4,419.7 1799.6,424.4 1799.9,430.6 1800.1,419.1 1800.4,410.5 1800.6,435.5 1800.8,426.9 1801.1,404.1 1801.3,414.4 1801.6,421.6 1801.8,399.5 1802.1,420.0 1802.3,394.7 1802.6,403.7 1802.8,397.8 1803.0,420.3 1803.3,415.4 1803.5,397.6 1803.8,410.7 1804.0,394.9 1804.3,370.1 1804.5,379.6 1804.7,357.3 1805.0,372.8 1805.2,370.7 1805.5,356.4 1805.7,368.4 1806.0,369.4 1806.2,351.1 1806.4,366.7 1806.7,363.4 1806.9,365.9 1807.2,373.9 1807.4,385.4 1807.7,381.4 1807.9,389.7 1808.1,404.5 1808.4,407.5 1808.6,395.3 1808.9,420.5 1809.1,427.6 1809.4,431.4 1809.6,415.5 1809.9,410.3 1810.1,405.7 1810.3,419.7 1810.6,416.1 1810.8,416.5 1811.1,411.3 1811.3,396.3 1811.6,414.6 1811.8,415.8 1812.0,413.9 1812.3,404.0 1812.5,414.8 1812.8,416.0 1813.0,406.8 1813.3,423.6 1813.5,417.1 1813.7,418.8 1814.0,421.2 1814.2,415.1 1814.5,416.8 1814.7,422.6 1815.0,424.7 1815.2,426.0 1815.4,415.8 1815.7,424.8 1815.9,428.4 1816.2,404.2 1816.4,413.7 1816.7,417.3 1816.9,417.6 1817.2,434.6 1817.4,428.8 1817.6,416.3 1817.9,416.5 1818.1,404.3 1818.4,408.3 1818.6,430.4 1818.9,401.3 1819.1,423.6 1819.3,410.9 1819.6,414.7 1819.8,416.7 1820.1,435.0 1820.3,420.9 1820.6,422.5 1820.8,427.3 1821.0,396.6 1821.3,435.5 1821.5,401.8 1821.8,410.9 1822.0,424.3 1822.3,406.1 1822.5,401.2 1822.7,428.8 1823.0,414.8 1823.2,426.7 1823.5,422.4 1823.7,416.0 1824.0,417.4 1824.2,415.4 1824.4,437.0 1824.7,409.4 1824.9,408.4 1825.2,411.4 1825.4,420.1 1825.7,407.1 1825.9,411.3 1826.2,431.6 1826.4,419.7 1826.6,428.9 1826.9,421.5 1827.1,412.4 1827.4,410.7 1827.6,419.8 1827.9,418.7 1828.1,413.1 1828.3,412.7 1828.6,431.8 1828.8,427.9 1829.1,420.9 1829.3,414.8 1829.6,418.0 1829.8,437.1 1830.0,408.4 1830.3,439.8 1830.5,411.8 1830.8,403.9 1831.0,437.1 1831.3,416.9 1831.5,432.3 1831.7,421.9 1832.0,415.3 1832.2,426.2 1832.5,414.0 1832.7,420.2 1833.0,413.8 1833.2,397.1 1833.5,415.8 1833.7,404.7 1833.9,405.5 1834.2,407.3 1834.4,385.9 1834.7,399.8 1834.9,395.3 1835.2,402.9 1835.4,387.5 1835.6,358.6 1835.9,365.0 1836.1,368.0 1836.4,353.1 1836.6,369.8 1836.9,365.0 1837.1,365.6 1837.3,372.5 1837.6,380.8 1837.8,383.8 1838.1,375.2 1838.3,404.0 1838.6,396.5 1838.8,403.8 1839.0,404.5 1839.3,396.0 1839.5,412.9 1839.8,414.8 1840.0,406.1 1840.3,416.4 1840.5,423.2 1840.8,422.5 1841.0,418.9 1841.2,411.6 1841.5,414.4 1841.7,416.4 1842.0,404.3 1842.2,425.3 1842.5,418.6 1842.7,405.7 1842.9,431.8 1843.2,435.9 1843.4,405.6 1843.7,416.1 1843.9,409.9 1844.2,425.0 1844.4,402.0 1844.6,422.4 1844.9,421.4 1845.1,428.2 1845.4,399.9 1845.6,410.5 1845.9,415.8 1846.1,426.7 1846.3,418.6 1846.6,424.8 1846.8,422.0 1847.1,409.3 1847.3,416.6 1847.6,414.0 1847.8,414.7 1848.1,409.1 1848.3,424.8 1848.5,420.5 1848.8,399.8 1849.0,432.0 1849.3,412.4 1849.5,403.7 1849.8,429.0 1850.0,417.4 1850.2,421.0 1850.5,416.4 1850.7,417.3 1851.0,400.6 1851.2,424.7 1851.5,410.7 1851.7,417.8 1851.9,416.8 1852.2,408.5 1852.4,405.8 1852.7,416.2 1852.9,429.6 1853.2,411.4 1853.4,412.0 1853.6,418.5 1853.9,412.2 1854.1,430.0 1854.4,422.0 1854.6,439.8 1854.9,419.7 1855.1,438.6 1855.4,412.2 1855.6,419.9 1855.8,412.6 1856.1,414.1 1856.3,414.8 1856.6,423.6 1856.8,430.7 1857.1,415.4 1857.3,404.2 1857.5,417.9 1857.8,416.3 1858.0,413.3 1858.3,426.1 1858.5,428.7 1858.8,411.4 1859.0,411.3 1859.2,393.6 1859.5,412.1 1859.7,426.0 1860.0,409.4 1860.2,426.7 1860.5,424.5 1860.7,424.0 1860.9,424.2 1861.2,417.5 1861.4,427.9 1861.7,428.3 1861.9,419.4 1862.2,418.0 1862.4,430.6 1862.7,439.8 1862.9,402.5 1863.1,427.0 1863.4,418.9 1863.6,439.8 1863.9,415.4 1864.1,412.5 1864.4,409.8 1864.6,427.1 1864.8,408.5 1865.1,424.5 1865.3,413.6 1865.6,431.2 1865.8,433.3 1866.1,429.3 1866.3,400.0 1866.5,404.7 1866.8,392.9 1867.0,439.8 1867.3,412.8 1867.5,414.5 1867.8,418.9 1868.0,424.2 1868.2,415.3 1868.5,419.1 1868.7,418.3 1869.0,406.1 1869.2,435.6 1869.5,434.9 1869.7,418.7 1870.0,417.2 1870.2,436.3 1870.4,439.8 1870.7,419.0 1870.9,424.2 1871.2,414.6 1871.4,421.7 1871.7,394.3 1871.9,397.2 1872.1,422.8 1872.4,416.8 1872.6,422.3 1872.9,419.3 1873.1,424.3 1873.4,421.0 1873.6,417.0 1873.8,399.8 1874.1,412.4 1874.3,432.1 1874.6,409.4 1874.8,414.9 1875.1,427.3 1875.3,415.2 1875.5,427.9 1875.8,432.6 1876.0,426.2 1876.3,414.6 1876.5,430.2 1876.8,423.2 1877.0,409.7 1877.2,438.0 1877.5,420.6 1877.7,424.8 1878.0,427.4 1878.2,414.0 1878.5,427.4 1878.7,407.1 1879.0,409.5 1879.2,414.9 1879.4,439.2 1879.7,423.8 1879.9,419.9 1880.2,412.0 1880.4,419.3 1880.7,391.3 1880.9,404.7 1881.1,405.4 1881.4,388.1 1881.6,364.8 1881.9,356.2 1882.1,364.3 1882.4,356.6 1882.6,325.8 1882.8,331.3 1883.1,292.9 1883.3,294.0 1883.6,297.9 1883.8,306.7 1884.1,288.5 1884.3,322.2 1884.5,326.4 1884.8,329.2 1885.0,349.7 1885.3,365.8 1885.5,382.9 1885.8,382.5 1886.0,390.8 1886.3,406.2 1886.5,409.7 1886.7,418.0 1887.0,424.0 1887.2,399.0 1887.5,416.6 1887.7,420.2 1888.0,418.6 1888.2,408.1 1888.4,425.1 1888.7,434.7 1888.9,405.6 1889.2,410.8 1889.4,425.7 1889.7,418.5 1889.9,419.4 1890.1,420.4 1890.4,413.9 1890.6,418.1 1890.9,411.3 1891.1,399.5 1891.4,428.1 1891.6,420.9 1891.8,417.5 1892.1,431.0 1892.3,416.7 1892.6,428.9 1892.8,426.0 1893.1,415.4 1893.3,406.2 1893.6,422.7 1893.8,420.3 1894.0,427.8 1894.3,403.3 1894.5,416.9 1894.8,420.4 1895.0,421.4 1895.3,419.3 1895.5,421.1 1895.7,395.9 1896.0,415.1 1896.2,411.7 1896.5,403.3 1896.7,419.2 1897.0,414.4 1897.2,407.0 1897.4,404.7 1897.7,421.2 1897.9,393.8 1898.2,417.2 1898.4,407.4 1898.7,420.0 1898.9,436.4 1899.1,427.9 1899.4,417.5 1899.6,432.5 1899.9,436.1 1900.1,433.5 1900.4,435.9 1900.6,420.2 1900.9,424.3 1901.1,417.4 1901.3,414.5 1901.6,418.4 1901.8,410.7 1902.1,417.3 1902.3,439.4 1902.6,425.1 1902.8,416.4 1903.0,439.8 1903.3,439.8 1903.5,408.0 1903.8,411.5 1904.0,434.9 1904.3,419.2 1904.5,420.0 1904.7,413.2 1905.0,407.6 1905.2,429.3 1905.5,410.5 1905.7,423.5 1906.0,436.1 1906.2,423.4 1906.4,416.2 1906.7,424.3 1906.9,423.6 1907.2,413.9 1907.4,420.8 1907.7,406.6 1907.9,401.4 1908.2,412.9 1908.4,401.3 1908.6,392.2 1908.9,417.0 1909.1,419.9 1909.4,436.1 1909.6,409.2 1909.9,413.7 1910.1,413.7 1910.3,408.4 1910.6,437.6 1910.8,410.6 1911.1,415.8 1911.3,416.3 1911.6,439.8 1911.8,415.0 1912.0,410.6 1912.3,407.6 1912.5,411.6 1912.8,397.6 1913.0,428.9 1913.3,427.0 1913.5,404.1 1913.7,406.0 1914.0,417.6 1914.2,396.6 1914.5,403.2 1914.7,406.3 1915.0,435.1 1915.2,428.2 1915.5,407.4 1915.7,416.3 1915.9,418.8 1916.2,414.4 1916.4,417.3 1916.7,434.7 1916.9,411.5 1917.2,410.1 1917.4,417.2 1917.6,411.0 1917.9,413.3 1918.1,422.1 1918.4,407.9 1918.6,429.3 1918.9,411.1 1919.1,430.4 1919.3,409.2 1919.6,408.6 1919.8,419.9 1920.1,414.9 1920.3,425.7 1920.6,435.3 1920.8,439.8 1921.0,388.7 1921.3,407.3 1921.5,417.0 1921.8,415.4 1922.0,416.9 1922.3,439.8 1922.5,395.4 1922.8,424.1 1923.0,415.2 1923.2,417.5 1923.5,428.0 1923.7,415.7 1924.0,425.2 1924.2,430.1 1924.5,429.1 1924.7,399.2 1924.9,411.0 1925.2,404.7 1925.4,409.7 1925.7,415.5 1925.9,437.7 1926.2,411.1 1926.4,414.4 1926.6,415.7 1926.9,432.0 1927.1,411.8 1927.4,421.7 1927.6,425.4 1927.9,422.9 1928.1,397.4 1928.3,404.4 1928.6,423.7 1928.8,399.5 1929.1,414.3 1929.3,401.2 1929.6,419.1 1929.8,413.5 1930.0,397.0 1930.3,407.3 1930.5,395.9 1930.8,396.4 1931.0,408.7 1931.3,392.7 1931.5,386.2 1931.8,390.5 1932.0,369.3 1932.2,374.8 1932.5,361.1 1932.7,357.1 1933.0,350.4 1933.2,347.6 1933.5,349.7 1933.7,356.4 1933.9,377.4 1934.2,383.7 1934.4,378.8 1934.7,384.7 1934.9,393.5 1935.2,400.7 1935.4,395.0 1935.6,403.1 1935.9,421.7 1936.1,418.9 1936.4,409.4 1936.6,428.1 1936.9,415.8 1937.1,417.4 1937.3,427.0 1937.6,421.3 1937.8,413.7 1938.1,406.7 1938.3,429.4 1938.6,394.1 1938.8,410.9 1939.1,400.0 1939.3,411.2 1939.5,425.1 1939.8,413.7 1940.0,412.8 1940.3,416.4 1940.5,435.9 1940.8,430.2 1941.0,419.1 1941.2,410.7 1941.5,413.1 1941.7,420.2 1942.0,414.6 1942.2,415.8 1942.5,406.9 1942.7,403.8 1942.9,406.4 1943.2,395.0 1943.4,408.1 1943.7,439.8 1943.9,420.7 1944.2,423.4 1944.4,426.8 1944.6,407.1 1944.9,405.9 1945.1,415.1 1945.4,423.0 1945.6,422.7 1945.9,433.3 1946.1,431.0 1946.4,427.7 1946.6,428.6 1946.8,420.4 1947.1,426.1 1947.3,415.3 1947.6,414.0 1947.8,427.1 1948.1,402.2 1948.3,431.7 1948.5,436.1 1948.8,413.7 1949.0,425.6 1949.3,420.1 1949.5,409.1 1949.8,422.1 1950.0,432.1 1950.2,428.4 1950.5,415.5 1950.7,420.1 1951.0,412.9 1951.2,428.4 1951.5,417.8 1951.7,427.0 1951.9,412.3 1952.2,419.9 1952.4,410.1 1952.7,411.6 1952.9,429.4 1953.2,417.0 1953.4,417.9 1953.7,425.8 1953.9,411.0 1954.1,437.4 1954.4,411.3 1954.6,415.0 1954.9,439.7 1955.1,408.5 1955.4,435.7 1955.6,422.5 1955.8,423.7 1956.1,408.7 1956.3,420.4 1956.6,406.6 1956.8,428.3 1957.1,416.3 1957.3,412.4 1957.5,414.0 1957.8,417.1 1958.0,427.9 1958.3,403.5 1958.5,411.2 1958.8,410.2 1959.0,408.6 1959.2,426.1 1959.5,423.1 1959.7,407.8 1960.0,402.9 1960.2,417.8 1960.5,412.9 1960.7,423.4 1961.0,417.2 1961.2,421.9 1961.4,426.0 1961.7,434.4 1961.9,416.2 1962.2,425.1 1962.4,412.8 1962.7,406.7 1962.9,420.4 1963.1,429.7 1963.4,431.8 1963.6,417.6 1963.9,401.7 1964.1,421.5 1964.4,416.1 1964.6,424.1 1964.8,428.3 1965.1,413.9 1965.3,411.3 1965.6,414.3 1965.8,411.5 1966.1,408.5 1966.3,420.1 1966.5,411.0 1966.8,415.3 1967.0,414.8 1967.3,412.1 1967.5,423.7 1967.8,413.5 1968.0,417.1 1968.3,425.5 1968.5,416.5 1968.7,404.0 1969.0,413.3 1969.2,413.3 1969.5,423.8 1969.7,433.6 1970.0,419.7 1970.2,416.5 1970.4,431.7 1970.7,411.2 1970.9,420.6 1971.2,422.3 1971.4,417.3 1971.7,416.0 1971.9,419.4 1972.1,432.1 1972.4,423.2 1972.6,412.1 1972.9,420.5 1973.1,426.9 1973.4,434.6 1973.6,425.4 1973.8,419.6 1974.1,430.8 1974.3,426.1 1974.6,419.1 1974.8,411.5 1975.1,418.5 1975.3,426.7 1975.6,407.6 1975.8,402.6 1976.0,422.6 1976.3,403.2 1976.5,405.4 1976.8,415.7 1977.0,415.4 1977.3,418.2 1977.5,419.2 1977.7,422.6 1978.0,419.5 1978.2,409.8 1978.5,374.8 1978.7,429.3 1979.0,424.9 1979.2,423.4 1979.4,417.3 1979.7,409.1 1979.9,422.0 1980.2,416.7 1980.4,404.6 1980.7,427.1 1980.9,403.9 1981.1,413.3 1981.4,434.0 1981.6,409.7 1981.9,419.0 1982.1,427.3 1982.4,417.4 1982.6,404.0 1982.8,412.6 1983.1,416.8 1983.3,403.1 1983.6,430.8 1983.8,420.2 1984.1,428.1 1984.3,419.7 1984.6,420.8 1984.8,413.8 1985.0,403.2 1985.3,423.5 1985.5,417.5 1985.8,431.9 1986.0,412.5 1986.3,418.6 1986.5,439.4 1986.7,404.4 1987.0,405.8 1987.2,419.2 1987.5,433.1 1987.7,405.8 1988.0,405.8 1988.2,415.3 1988.4,411.7 1988.7,414.6 1988.9,428.5 1989.2,418.3 1989.4,404.5 1989.7,421.1 1989.9,417.8 1990.1,403.6 1990.4,410.3 1990.6,413.0 1990.9,397.0 1991.1,434.4 1991.4,401.5 1991.6,417.4 1991.9,415.2 1992.1,411.1 1992.3,428.3 1992.6,417.4 1992.8,408.9 1993.1,427.9 1993.3,422.0 1993.6,407.0 1993.8,402.3 1994.0,425.2 1994.3,415.5 1994.5,402.9 1994.8,422.0 1995.0,403.2 1995.3,410.3 1995.5,409.0 1995.7,398.0 1996.0,423.3 1996.2,439.8 1996.5,422.9 1996.7,420.7 1997.0,410.7 1997.2,416.2 1997.4,419.5 1997.7,422.8 1997.9,412.1 1998.2,417.3 1998.4,414.9 1998.7,422.3 1998.9,426.0 1999.2,427.5 1999.4,412.9 1999.6,412.6 1999.9,423.8 2000.1,414.8 2000.4,415.3 2000.6,421.7 2000.9,421.0 2001.1,430.0 2001.3,405.9 2001.6,428.2 2001.8,413.1 2002.1,423.9 2002.3,405.2 2002.6,416.3 2002.8,411.7 2003.0,434.4 2003.3,395.6 2003.5,403.2 2003.8,410.0 2004.0,407.0 2004.3,420.6 2004.5,427.8 2004.7,417.1 2005.0,423.4 2005.2,420.0 2005.5,417.2 2005.7,430.9 2006.0,417.8 2006.2,426.1 2006.5,406.8 2006.7,416.0 2006.9,426.8 2007.2,413.5 2007.4,397.5 2007.7,425.0 2007.9,423.4 2008.2,415.2 2008.4,419.0 2008.6,414.8 2008.9,421.6 2009.1,428.5 2009.4,421.0 2009.6,417.2 2009.9,413.4 2010.1,416.5 2010.3,413.2 2010.6,427.3 2010.8,408.0 2011.1,412.5 2011.3,421.4 2011.6,421.3 2011.8,420.5 2012.0,414.1 2012.3,420.0 2012.5,404.5 2012.8,403.6 2013.0,405.9 2013.3,421.7 2013.5,431.2 2013.8,414.1 2014.0,412.9 2014.2,415.4 2014.5,435.5 2014.7,420.3 2015.0,419.2 2015.2,412.9 2015.5,423.1 2015.7,430.7 2015.9,420.2 2016.2,410.7 2016.4,439.8 2016.7,418.2 2016.9,435.3 2017.2,408.4 2017.4,417.0 2017.6,420.9 2017.9,401.8 2018.1,419.3 2018.4,424.2 2018.6,417.2 2018.9,422.6 2019.1,420.1 2019.3,410.3 2019.6,425.2 2019.8,411.2 2020.1,420.6 2020.3,411.3 2020.6,424.4 2020.8,413.8 2021.1,413.8 2021.3,397.9 2021.5,415.6 2021.8,427.7 2022.0,398.4 2022.3,421.7 2022.5,417.8 2022.8,401.7 2023.0,414.2 2023.2,427.2 2023.5,418.1 2023.7,421.5 2024.0,428.7 2024.2,415.1 2024.5,426.4 2024.7,406.4 2024.9,410.0 2025.2,431.9 2025.4,415.3 2025.7,427.1 2025.9,404.0 2026.2,416.1 2026.4,409.8 2026.6,436.4 2026.9,405.5 2027.1,406.2 2027.4,412.7 2027.6,421.4 2027.9,412.8 2028.1,415.5 2028.4,421.1 2028.6,418.6 2028.8,400.6 2029.1,406.5 2029.3,433.8 2029.6,418.8 2029.8,435.6 2030.1,432.2 2030.3,428.9 2030.5,419.1 2030.8,433.0 2031.0,414.2 2031.3,439.6 2031.5,424.1 2031.8,424.2 2032.0,415.0 2032.2,413.3 2032.5,416.4 2032.7,413.9 2033.0,410.6 2033.2,388.2 2033.5,420.6 2033.7,429.9 2033.9,437.0 2034.2,425.6 2034.4,417.2 2034.7,423.6 2034.9,433.5 2035.2,418.1 2035.4,425.7 2035.6,419.0 2035.9,415.6 2036.1,407.8 2036.4,418.4 2036.6,402.4 2036.9,399.0 2037.1,409.9 2037.4,413.9 2037.6,411.6 2037.8,384.5 2038.1,396.5 2038.3,396.7 2038.6,407.3 2038.8,415.3 2039.1,370.1 2039.3,406.7 2039.5,397.6 2039.8,395.7 2040.0,390.3 2040.3,392.6 2040.5,388.8 2040.8,404.4 2041.0,394.6 2041.2,403.8 2041.5,393.3 2041.7,420.4 2042.0,417.2 2042.2,401.3 2042.5,417.9 2042.7,411.0 2042.9,407.4 2043.2,417.0 2043.4,424.9 2043.7,431.7 2043.9,420.4 2044.2,429.2 2044.4,424.8 2044.7,399.3 2044.9,426.9 2045.1,406.0 2045.4,415.1 2045.6,420.3 2045.9,406.2 2046.1,410.9 2046.4,436.6 2046.6,409.2 2046.8,420.0 2047.1,421.3 2047.3,416.0 2047.6,427.5 2047.8,426.9 2048.1,412.1 2048.3,435.2 2048.5,410.9 2048.8,414.4 2049.0,417.3 2049.3,420.5 2049.5,396.4 2049.8,420.8 2050.0,397.7 2050.2,413.7 2050.5,409.8 2050.7,411.6 2051.0,417.3 2051.2,420.3 2051.5,411.0 2051.7,418.2 2052.0,403.8 2052.2,414.3 2052.4,426.6 2052.7,411.3 2052.9,414.9 2053.2,417.6 2053.4,425.3 2053.7,421.2 2053.9,416.2 2054.1,408.3 2054.4,419.9 2054.6,390.7 2054.9,421.6 2055.1,410.6 2055.4,423.6 2055.6,417.0 2055.8,430.2 2056.1,411.6 2056.3,399.1 2056.6,417.8 2056.8,413.0 2057.1,416.7 2057.3,428.6 2057.5,409.1 2057.8,423.8 2058.0,425.8 2058.3,427.5 2058.5,398.9 2058.8,418.9 2059.0,411.0 2059.3,415.3 2059.5,393.4 2059.7,414.4 2060.0,426.3 2060.2,439.8 2060.5,424.0 2060.7,406.0 2061.0,429.1 2061.2,405.9 2061.4,414.0 2061.7,428.0 2061.9,412.0 2062.2,424.2 2062.4,415.0 2062.7,417.6 2062.9,419.4 2063.1,412.4 2063.4,433.9 2063.6,434.6 2063.9,432.1 2064.1,407.9 2064.4,435.2 2064.6,420.4 2064.8,422.2 2065.1,419.3 2065.3,412.4 2065.6,418.7 2065.8,425.7 2066.1,431.9 2066.3,422.8 2066.6,417.6 2066.8,413.0 2067.0,414.5 2067.3,439.8 2067.5,425.2 2067.8,419.6 2068.0,403.7 2068.3,400.9 2068.5,423.7 2068.7,423.3 2069.0,427.9 2069.2,419.3 2069.5,411.3 2069.7,401.4 2070.0,408.8 2070.2,409.4 2070.4,420.1 2070.7,421.8 2070.9,430.3 2071.2,400.2 2071.4,382.3 2071.7,423.1 2071.9,420.4 2072.1,398.4 2072.4,410.6 2072.6,418.1 2072.9,413.6 2073.1,420.7 2073.4,417.5 2073.6,411.9 2073.9,420.8 2074.1,416.4 2074.3,428.1 2074.6,403.5 2074.8,414.9 2075.1,390.4 2075.3,414.8 2075.6,419.0 2075.8,423.2 2076.0,396.9 2076.3,428.0 2076.5,422.2 2076.8,422.0 2077.0,417.7 2077.3,426.0 2077.5,420.9 2077.7,400.1 2078.0,410.8 2078.2,414.6 2078.5,413.6 2078.7,412.8 2079.0,422.8 2079.2,406.4 2079.4,409.9 2079.7,407.6 2079.9,416.7 2080.2,432.0 2080.4,408.4 2080.7,420.6 2080.9,411.8 2081.1,430.2 2081.4,395.7 2081.6,416.8 2081.9,427.8 2082.1,413.4 2082.4,406.4 2082.6,408.7 2082.9,422.1 2083.1,411.7 2083.3,426.9 2083.6,417.4 2083.8,411.7 2084.1,412.8 2084.3,421.4 2084.6,426.6 2084.8,409.3 2085.0,405.7 2085.3,405.9 2085.5,421.5 2085.8,434.3 2086.0,412.0 2086.3,423.4 2086.5,413.2 2086.7,425.8 2087.0,403.0 2087.2,422.7 2087.5,404.6 2087.7,409.0 2088.0,420.2 2088.2,414.8 2088.4,416.4 2088.7,422.0 2088.9,418.9 2089.2,431.2 2089.4,424.2 2089.7,408.9 2089.9,416.3 2090.2,411.8 2090.4,413.2 2090.6,437.3 2090.9,409.6 2091.1,429.1 2091.4,431.3 2091.6,439.8 2091.9,417.1 2092.1,419.5 2092.3,419.9 2092.6,413.6 2092.8,433.9 2093.1,435.7 2093.3,395.2 2093.6,414.0 2093.8,428.4 2094.0,412.5 2094.3,410.4 2094.5,417.3 2094.8,416.8 2095.0,415.2 2095.3,415.6 2095.5,434.2 2095.7,394.8 2096.0,412.0 2096.2,406.0 2096.5,419.1 2096.7,412.6 2097.0,421.4 2097.2,416.9 2097.5,438.9 2097.7,404.2 2097.9,412.2 2098.2,425.2 2098.4,413.1 2098.7,418.2 2098.9,402.1 2099.2,423.6 2099.4,415.5 2099.6,422.1 2099.9,407.9 2100.1,411.4 2100.4,408.4 2100.6,432.5 2100.9,399.8 2101.1,420.7 2101.3,419.1 2101.6,428.8 2101.8,419.2 2102.1,406.6 2102.3,421.4 2102.6,399.9 2102.8,426.6 2103.0,415.3 2103.3,409.1 2103.5,411.4 2103.8,421.6 2104.0,399.8 2104.3,432.0 2104.5,408.4 2104.8,429.3 2105.0,415.7 2105.2,431.8 2105.5,400.6 2105.7,419.6 2106.0,409.1 2106.2,402.0 2106.5,414.3 2106.7,401.8 2106.9,394.7 2107.2,397.2 2107.4,389.3 2107.7,392.1 2107.9,391.4 2108.2,400.0 2108.4,386.8 2108.6,378.7 2108.9,392.3 2109.1,380.8 2109.4,374.9 2109.6,373.1 2109.9,402.6 2110.1,386.0 2110.3,404.4 2110.6,381.5 2110.8,383.1 2111.1,412.4 2111.3,395.9 2111.6,398.9 2111.8,400.9 2112.1,395.3 2112.3,417.1 2112.5,397.2 2112.8,417.8 2113.0,401.3 2113.3,437.9 2113.5,420.5 2113.8,424.9 2114.0,398.3 2114.2,418.4 2114.5,409.2 2114.7,412.9 2115.0,409.8 2115.2,423.8 2115.5,416.3 2115.7,411.1 2115.9,410.1 2116.2,409.7 2116.4,410.7 2116.7,413.3 2116.9,404.9 2117.2,407.2 2117.4,390.7 2117.6,415.6 2117.9,421.5 2118.1,411.1 2118.4,429.3 2118.6,408.5 2118.9,416.2 2119.1,427.1 2119.4,418.3 2119.6,408.3 2119.8,419.4 2120.1,412.1 2120.3,426.7 2120.6,423.3 2120.8,413.8 2121.1,421.0 2121.3,432.6 2121.5,426.8 2121.8,424.2 2122.0,414.2 2122.3,410.3 2122.5,408.7 2122.8,425.8 2123.0,405.5 2123.2,403.9 2123.5,431.3 2123.7,400.6 2124.0,419.3 2124.2,406.4 2124.5,414.7 2124.7,420.9 2124.9,406.4 2125.2,403.2 2125.4,412.0 2125.7,429.9 2125.9,412.1 2126.2,399.9 2126.4,422.4 2126.7,405.0 2126.9,402.0 2127.1,416.8 2127.4,436.5 2127.6,411.0 2127.9,415.0 2128.1,406.0 2128.4,410.0 2128.6,404.9 2128.8,418.4 2129.1,409.3 2129.3,408.2 2129.6,424.7 2129.8,401.8 2130.1,424.7 2130.3,414.0 2130.5,407.0 2130.8,415.5 2131.0,413.1 2131.3,418.8 2131.5,413.7 2131.8,433.8 2132.0,425.9 2132.2,426.5 2132.5,404.1 2132.7,412.4 2133.0,427.1 2133.2,421.3 2133.5,415.7 2133.7,414.6 2133.9,425.2 2134.2,396.6 2134.4,406.2 2134.7,400.8 2134.9,433.8 2135.2,399.4 2135.4,409.1 2135.7,423.4 2135.9,406.1 2136.1,410.0 2136.4,405.5 2136.6,409.5 2136.9,428.5 2137.1,386.5 2137.4,394.4 2137.6,401.8 2137.8,412.2 2138.1,384.7 2138.3,397.8 2138.6,389.0 2138.8,374.2 2139.1,366.5 2139.3,364.2 2139.5,381.4 2139.8,379.8 2140.0,381.4 2140.3,372.9 2140.5,400.4 2140.8,387.3 2141.0,417.9 2141.2,392.4 2141.5,401.0 2141.7,407.4 2142.0,399.3 2142.2,395.3 2142.5,401.5 2142.7,408.9 2143.0,405.3 2143.2,430.5 2143.4,407.3 2143.7,420.5 2143.9,421.3 2144.2,415.6 2144.4,403.5 2144.7,418.6 2144.9,422.4 2145.1,414.4 2145.4,412.1 2145.6,390.0 2145.9,399.0 2146.1,406.1 2146.4,407.8 2146.6,411.1 2146.8,398.6 2147.1,400.7 2147.3,386.5 2147.6,399.8 2147.8,398.1 2148.1,387.6 2148.3,395.7 2148.5,381.7 2148.8,378.4 2149.0,379.3 2149.3,400.9 2149.5,366.4 2149.8,384.6 2150.0,374.5 2150.3,386.7 2150.5,373.6 2150.7,397.2 2151.0,399.0 2151.2,392.8 2151.5,402.3 2151.7,401.1 2152.0,411.2 2152.2,390.4 2152.4,420.3 2152.7,405.5 2152.9,417.7 2153.2,402.7 2153.4,430.1 2153.7,414.2 2153.9,428.6 2154.1,414.2 2154.4,404.5 2154.6,420.6 2154.9,415.3 2155.1,410.3 2155.4,417.2 2155.6,407.4 2155.8,397.9 2156.1,380.7 2156.3,374.6 2156.6,400.4 2156.8,397.5 2157.1,381.4 2157.3,393.6 2157.6,385.2 2157.8,386.7 2158.0,395.3 2158.3,371.1 2158.5,390.3 2158.8,393.0 2159.0,387.7 2159.3,393.0 2159.5,382.6 2159.7,397.2 2160.0,404.2 2160.2,407.9 2160.5,396.1 2160.7,412.6 2161.0,409.7 2161.2,414.9 2161.4,409.6 2161.7,417.3 2161.9,405.8 2162.2,436.5 2162.4,411.0 2162.7,425.3 2162.9,414.6 2163.1,400.8 2163.4,431.6 2163.6,412.9 2163.9,422.9 2164.1,435.6 2164.4,408.0 2164.6,418.7 2164.9,402.5 2165.1,432.9 2165.3,430.7 2165.6,405.9 2165.8,412.1 2166.1,404.0 2166.3,408.6 2166.6,411.5 2166.8,404.5 2167.0,411.3 2167.3,421.9 2167.5,416.3 2167.8,422.6 2168.0,414.1 2168.3,416.7 2168.5,403.6 2168.7,424.6 2169.0,404.8 2169.2,412.2 2169.5,403.3 2169.7,420.5 2170.0,405.6 2170.2,421.1 2170.4,434.2 2170.7,418.9 2170.9,394.0 2171.2,425.2 2171.4,417.3 2171.7,426.3 2171.9,419.6 2172.2,426.8 2172.4,425.5 2172.6,415.1 2172.9,403.8 2173.1,414.9 2173.4,423.1 2173.6,397.8 2173.9,393.4 2174.1,398.4 2174.3,426.5 2174.6,433.6 2174.8,424.2 2175.1,411.7 2175.3,423.3 2175.6,416.2 2175.8,431.9 2176.0,429.4 2176.3,426.3 2176.5,383.1 2176.8,392.8 2177.0,420.3 2177.3,416.2 2177.5,396.9 2177.7,414.1 2178.0,408.9 2178.2,417.7 2178.5,419.0 2178.7,401.8 2179.0,408.4 2179.2,417.2 2179.5,397.0 2179.7,424.3 2179.9,407.5 2180.2,408.8 2180.4,424.0 2180.7,414.3 2180.9,410.2 2181.2,430.2 2181.4,412.4 2181.6,415.2 2181.9,415.6 2182.1,439.8 2182.4,421.5 2182.6,423.7 2182.9,411.9 2183.1,423.6" fill="none" stroke="#d8913f" stroke-width="1.45" stroke-linejoin="bevel"/>
<text x="1322.5" y="670.0" font-size="28.5" fill="#3a3a3a" text-anchor="middle">30</text>
<text x="1432.5" y="670.0" font-size="28.5" fill="#3a3a3a" text-anchor="middle">40</text>
<text x="1557.6" y="670.0" font-size="28.5" fill="#3a3a3a" text-anchor="middle">50</text>
<text x="1682.7" y="670.0" font-size="28.5" fill="#3a3a3a" text-anchor="middle">60</text>
<text x="1807.8" y="670.0" font-size="28.5" fill="#3a3a3a" text-anchor="middle">70</text>
<text x="1932.9" y="670.0" font-size="28.5" fill="#3a3a3a" text-anchor="middle">80</text>
<text x="2058.0" y="670.0" font-size="28.5" fill="#3a3a3a" text-anchor="middle">90</text>
<text x="2183.1" y="670.0" font-size="28.5" fill="#3a3a3a" text-anchor="middle">100</text>
<text x="1762.3" y="703.7" font-size="28.5" fill="#3a3a3a" text-anchor="middle" font-weight="bold" textLength="136.0" lengthAdjust="spacingAndGlyphs">2-Theta (°)</text>
<text transform="translate(1282,325.3) rotate(-90)" font-size="28" font-weight="bold" fill="#3a3a3a" text-anchor="middle" textLength="187" lengthAdjust="spacingAndGlyphs">Intensity (a.u.)</text>
<text x="2034.5" y="89.8" font-size="28.5" fill="#3a3a3a">Ti<tspan font-size="17" dy="9">4</tspan><tspan dy="-9">Fe</tspan><tspan font-size="17" dy="9">7</tspan><tspan dy="-9">Si</tspan></text>
<text x="2034.5" y="495.7" font-size="28.5" fill="#3a3a3a">TiFe<tspan font-size="17" dy="9">2</tspan><tspan dy="-9"> PDF</tspan></text>
<g transform="translate(1401.1,263.8) rotate(-90)"><text x="0" y="7.8" font-size="30.0" fill="#3a3a3a" text-anchor="middle" textLength="85.0" lengthAdjust="spacingAndGlyphs">(2110)</text><rect x="-14.9" y="-17.6" width="30.2" height="2" fill="#3a3a3a"/></g>
<g transform="translate(1436.6,163.7) rotate(-90)"><text x="0" y="7.8" font-size="30.0" fill="#3a3a3a" text-anchor="middle" textLength="85.0" lengthAdjust="spacingAndGlyphs">(1013)</text><rect x="1.5" y="-17.6" width="13.9" height="2" fill="#3a3a3a"/></g>
<g transform="translate(1521.5,120.3) rotate(-90)"><text x="0" y="7.8" font-size="30.0" fill="#3a3a3a" text-anchor="middle" textLength="85.0" lengthAdjust="spacingAndGlyphs">(2112)</text><rect x="-14.9" y="-17.6" width="30.2" height="2" fill="#3a3a3a"/></g>
<g transform="translate(1535.0,223.5) rotate(-90)"><text x="0" y="7.8" font-size="30.0" fill="#3a3a3a" text-anchor="middle" textLength="85.0" lengthAdjust="spacingAndGlyphs">(2021)</text><rect x="1.5" y="-17.6" width="13.9" height="2" fill="#3a3a3a"/></g>
<g transform="translate(1791.0,302.5) rotate(-90)"><text x="0" y="7.8" font-size="30.0" fill="#3a3a3a" text-anchor="middle" textLength="85.0" lengthAdjust="spacingAndGlyphs">(3123)</text><rect x="-14.9" y="-17.6" width="30.2" height="2" fill="#3a3a3a"/></g>
<g transform="translate(1842.0,307.1) rotate(-90)"><text x="0" y="7.8" font-size="30.0" fill="#3a3a3a" text-anchor="middle" textLength="85.0" lengthAdjust="spacingAndGlyphs">(3032)</text><rect x="1.5" y="-17.6" width="13.9" height="2" fill="#3a3a3a"/></g>
<g transform="translate(1888.8,245.0) rotate(-90)"><text x="0" y="7.8" font-size="30.0" fill="#3a3a3a" text-anchor="middle" textLength="85.0" lengthAdjust="spacingAndGlyphs">(2025)</text><rect x="1.5" y="-17.6" width="13.9" height="2" fill="#3a3a3a"/></g>
<g transform="translate(1936.2,306.5) rotate(-90)"><text x="0" y="7.8" font-size="30.0" fill="#3a3a3a" text-anchor="middle" textLength="85.0" lengthAdjust="spacingAndGlyphs">(4220)</text><rect x="-14.9" y="-17.6" width="30.2" height="2" fill="#3a3a3a"/></g>
<rect x="23.4" y="753" width="537.6" height="355.5" fill="#474747"/>
<rect x="23.4" y="753" width="537.6" height="355.5" fill="#ffffff" filter="url(#nz1)" opacity="0.1"/>
<rect x="23.4" y="753" width="537.6" height="355.5" fill="#000" filter="url(#nz2)" opacity="0.21"/>
<rect x="23.4" y="753" width="537.6" height="355.5" fill="#ffffff" filter="url(#nz3)" opacity="0.06"/>
<rect x="23.4" y="753" width="537.6" height="355.5" fill="#000" filter="url(#nz4)" opacity="0.175"/>
<rect x="23.4" y="753" width="537.6" height="355.5" fill="none" stroke="#000" stroke-opacity="0.35" stroke-width="1"/>
<rect x="598" y="753" width="518.0" height="355.5" fill="#075a2e"/>
<rect x="598" y="753" width="518.0" height="355.5" fill="#2a9c58" filter="url(#nz1)" opacity="0.5"/>
<rect x="598" y="753" width="518.0" height="355.5" fill="#000" filter="url(#nz2)" opacity="0.24"/>
<rect x="598" y="753" width="518.0" height="355.5" fill="#2a9c58" filter="url(#nz3)" opacity="0.3"/>
<rect x="598" y="753" width="518.0" height="355.5" fill="#000" filter="url(#nz4)" opacity="0.2"/>
<rect x="598" y="753" width="518.0" height="355.5" fill="none" stroke="#000" stroke-opacity="0.35" stroke-width="1"/>
<rect x="1153.4" y="753" width="518.4" height="355.5" fill="#670e15"/>
<rect x="1153.4" y="753" width="518.4" height="355.5" fill="#a02030" filter="url(#nz1)" opacity="0.35"/>
<rect x="1153.4" y="753" width="518.4" height="355.5" fill="#000" filter="url(#nz2)" opacity="0.18"/>
<rect x="1153.4" y="753" width="518.4" height="355.5" fill="#a02030" filter="url(#nz3)" opacity="0.21"/>
<rect x="1153.4" y="753" width="518.4" height="355.5" fill="#000" filter="url(#nz4)" opacity="0.15"/>
<rect x="1153.4" y="753" width="518.4" height="355.5" fill="none" stroke="#000" stroke-opacity="0.35" stroke-width="1"/>
<rect x="1709" y="752.5" width="518.8" height="356.5" fill="#76340f"/>
<rect x="1709" y="752.5" width="518.8" height="356.5" fill="#d2802e" filter="url(#nz1)" opacity="0.6"/>
<rect x="1709" y="752.5" width="518.8" height="356.5" fill="#000" filter="url(#nz2)" opacity="0.3"/>
<rect x="1709" y="752.5" width="518.8" height="356.5" fill="#d2802e" filter="url(#nz3)" opacity="0.36"/>
<rect x="1709" y="752.5" width="518.8" height="356.5" fill="#000" filter="url(#nz4)" opacity="0.25"/>
<rect x="1709" y="752.5" width="518.8" height="356.5" fill="none" stroke="#000" stroke-opacity="0.35" stroke-width="1"/>
<g><rect x="373" y="1030" width="62" height="1.3" fill="#6a6a6a" opacity="0.60"/><rect x="41" y="918" width="84" height="1.3" fill="#6a6a6a" opacity="0.56"/><rect x="78" y="919" width="83" height="1.3" fill="#2c2c2c" opacity="0.52"/><rect x="34" y="834" width="58" height="1.3" fill="#2c2c2c" opacity="0.67"/><rect x="101" y="1031" width="72" height="1.3" fill="#2c2c2c" opacity="0.55"/><rect x="29" y="1056" width="25" height="1.3" fill="#2c2c2c" opacity="0.39"/><rect x="410" y="858" width="89" height="1.3" fill="#6a6a6a" opacity="0.52"/><rect x="122" y="1080" width="66" height="1.3" fill="#6a6a6a" opacity="0.69"/><rect x="161" y="883" width="82" height="1.3" fill="#2c2c2c" opacity="0.36"/><rect x="181" y="965" width="20" height="1.3" fill="#2c2c2c" opacity="0.57"/><rect x="179" y="1038" width="40" height="1.3" fill="#2c2c2c" opacity="0.43"/><rect x="363" y="779" width="51" height="1.3" fill="#6a6a6a" opacity="0.31"/><rect x="413" y="766" width="71" height="1.3" fill="#6a6a6a" opacity="0.45"/><rect x="32" y="776" width="58" height="1.3" fill="#2c2c2c" opacity="0.68"/><rect x="404" y="1076" width="30" height="1.3" fill="#6a6a6a" opacity="0.44"/><rect x="283" y="1024" width="42" height="1.3" fill="#2c2c2c" opacity="0.60"/><rect x="417" y="772" width="75" height="1.3" fill="#6a6a6a" opacity="0.34"/><rect x="325" y="1072" width="41" height="1.3" fill="#2c2c2c" opacity="0.67"/><rect x="175" y="868" width="56" height="1.3" fill="#2c2c2c" opacity="0.33"/><rect x="373" y="1099" width="26" height="1.3" fill="#2c2c2c" opacity="0.32"/><rect x="262" y="898" width="89" height="1.3" fill="#2c2c2c" opacity="0.54"/><rect x="233" y="903" width="77" height="1.3" fill="#2c2c2c" opacity="0.67"/><rect x="279" y="1045" width="17" height="1.3" fill="#2c2c2c" opacity="0.59"/><rect x="306" y="1028" width="86" height="1.3" fill="#2c2c2c" opacity="0.47"/><rect x="451" y="860" width="26" height="1.3" fill="#2c2c2c" opacity="0.70"/><rect x="465" y="914" width="79" height="1.3" fill="#2c2c2c" opacity="0.59"/><rect x="167" y="897" width="51" height="1.3" fill="#2c2c2c" opacity="0.45"/><rect x="448" y="973" width="89" height="1.3" fill="#2c2c2c" opacity="0.44"/><rect x="166" y="1026" width="22" height="1.3" fill="#6a6a6a" opacity="0.44"/><rect x="379" y="996" width="74" height="1.3" fill="#6a6a6a" opacity="0.60"/><rect x="369" y="855" width="42" height="1.3" fill="#2c2c2c" opacity="0.61"/><rect x="163" y="1081" width="67" height="1.3" fill="#6a6a6a" opacity="0.53"/><rect x="308" y="845" width="16" height="1.3" fill="#6a6a6a" opacity="0.49"/><rect x="320" y="1031" width="76" height="1.3" fill="#2c2c2c" opacity="0.56"/><rect x="406" y="879" width="70" height="1.3" fill="#6a6a6a" opacity="0.65"/><rect x="477" y="1085" width="67" height="1.3" fill="#2c2c2c" opacity="0.51"/><rect x="446" y="1079" width="27" height="1.3" fill="#2c2c2c" opacity="0.58"/><rect x="363" y="818" width="69" height="1.3" fill="#6a6a6a" opacity="0.53"/><rect x="222" y="972" width="65" height="1.3" fill="#6a6a6a" opacity="0.55"/><rect x="41" y="814" width="69" height="1.3" fill="#2c2c2c" opacity="0.56"/><rect x="368" y="974" width="31" height="1.3" fill="#2c2c2c" opacity="0.49"/><rect x="55" y="805" width="32" height="1.3" fill="#2c2c2c" opacity="0.37"/><rect x="46" y="918" width="30" height="1.3" fill="#2c2c2c" opacity="0.54"/><rect x="139" y="1067" width="59" height="1.3" fill="#2c2c2c" opacity="0.46"/><rect x="229" y="799" width="36" height="1.3" fill="#6a6a6a" opacity="0.45"/><rect x="340" y="792" width="18" height="1.3" fill="#2c2c2c" opacity="0.44"/><rect x="477" y="1038" width="59" height="1.3" fill="#2c2c2c" opacity="0.63"/><rect x="199" y="808" width="63" height="1.3" fill="#2c2c2c" opacity="0.53"/><rect x="454" y="967" width="87" height="1.3" fill="#2c2c2c" opacity="0.66"/><rect x="83" y="952" width="15" height="1.3" fill="#6a6a6a" opacity="0.36"/><rect x="442" y="888" width="62" height="1.3" fill="#2c2c2c" opacity="0.39"/><rect x="505" y="889" width="37" height="1.3" fill="#6a6a6a" opacity="0.67"/><rect x="149" y="1094" width="60" height="1.3" fill="#2c2c2c" opacity="0.47"/><rect x="508" y="927" width="39" height="1.3" fill="#2c2c2c" opacity="0.49"/><rect x="341" y="911" width="24" height="1.3" fill="#2c2c2c" opacity="0.61"/><rect x="34" y="941" width="77" height="1.3" fill="#2c2c2c" opacity="0.67"/><rect x="139" y="851" width="74" height="1.3" fill="#2c2c2c" opacity="0.70"/><rect x="326" y="921" width="37" height="1.3" fill="#6a6a6a" opacity="0.54"/><rect x="82" y="1019" width="71" height="1.3" fill="#2c2c2c" opacity="0.51"/><rect x="172" y="940" width="40" height="1.3" fill="#2c2c2c" opacity="0.44"/><rect x="297" y="772" width="71" height="1.3" fill="#2c2c2c" opacity="0.48"/><rect x="422" y="946" width="84" height="1.3" fill="#2c2c2c" opacity="0.61"/><rect x="304" y="1001" width="47" height="1.3" fill="#6a6a6a" opacity="0.49"/><rect x="199" y="893" width="83" height="1.3" fill="#6a6a6a" opacity="0.38"/><rect x="435" y="782" width="37" height="1.3" fill="#6a6a6a" opacity="0.58"/><rect x="165" y="1025" width="47" height="1.3" fill="#6a6a6a" opacity="0.36"/><rect x="289" y="929" width="51" height="1.3" fill="#2c2c2c" opacity="0.36"/><rect x="408" y="783" width="59" height="1.3" fill="#2c2c2c" opacity="0.63"/><rect x="328" y="769" width="74" height="1.3" fill="#6a6a6a" opacity="0.69"/><rect x="335" y="777" width="90" height="1.3" fill="#6a6a6a" opacity="0.39"/></g>
<rect x="409.9" y="1073.0" width="128.3" height="3" fill="#fff"/>
<text x="432.0" y="1049.8" font-size="30" fill="#fff" textLength="79.6" lengthAdjust="spacingAndGlyphs">25 μm</text>
<rect x="975.5" y="1071.3" width="129.3" height="3" fill="#fff"/>
<text x="1000.3" y="1049.0" font-size="30" fill="#fff" textLength="79.6" lengthAdjust="spacingAndGlyphs">25 μm</text>
<rect x="1531" y="1075.0" width="129.0" height="3" fill="#fff"/>
<text x="1550.9" y="1051.2" font-size="30" fill="#fff" textLength="79.6" lengthAdjust="spacingAndGlyphs">25 μm</text>
<rect x="2081.7" y="1076.0" width="128.9" height="3" fill="#fff"/>
<text x="2105.3" y="1051.2" font-size="30" fill="#fff" textLength="79.6" lengthAdjust="spacingAndGlyphs">25 μm</text>
<text x="628.3" y="1072.2" font-size="28.5" fill="#fff">Ti</text>
<text x="1179.2" y="1079.2" font-size="28.5" fill="#fff">Fe</text>
<text x="1728.2" y="1079.0" font-size="28.5" fill="#fff">Si</text>
<rect x="164.6" y="1189.3" width="830.0" height="631.6000000000001" fill="url(#hbg)"/>
<polyline points="164.60,1820.90 165.01,1820.66 165.43,1820.41 165.84,1820.16 166.26,1819.87 166.67,1819.53 167.09,1819.10 167.50,1818.49 167.92,1817.60 168.34,1816.30 168.75,1814.43 169.16,1811.86 169.58,1808.51 170.00,1804.42 170.41,1799.79 170.82,1794.99 171.24,1790.55 171.66,1787.03 172.07,1784.91 172.48,1784.50 172.90,1785.82 173.31,1788.62 173.73,1792.46 174.14,1796.75 174.56,1800.98 174.97,1804.73 175.39,1807.77 175.81,1810.02 176.22,1811.55 176.63,1812.48 177.05,1812.96 177.47,1813.15 177.88,1813.14 178.29,1813.02 178.71,1812.43 179.12,1811.81 179.54,1811.17 179.95,1810.53 180.37,1809.88 180.78,1809.23 181.20,1808.58 181.62,1807.92 182.03,1807.25 182.44,1806.55 182.86,1805.81 183.28,1805.00 183.69,1804.06 184.10,1802.94 184.52,1801.56 184.94,1799.80 185.35,1797.57 185.76,1794.77 186.18,1791.34 186.59,1787.30 187.01,1782.74 187.43,1777.87 187.84,1772.99 188.25,1768.46 188.67,1764.69 189.08,1762.00 189.50,1760.65 189.91,1760.71 190.33,1762.10 190.75,1764.57 191.16,1767.80 191.57,1771.39 191.99,1774.97 192.41,1778.23 192.82,1780.97 193.23,1783.10 193.65,1784.61 194.06,1785.54 194.48,1786.00 194.89,1786.18 195.31,1786.08 195.72,1785.79 196.14,1785.35 196.56,1784.81 196.97,1784.17 197.38,1783.41 197.80,1782.51 198.22,1781.41 198.63,1780.05 199.04,1778.35 199.46,1776.23 199.88,1773.61 200.29,1770.43 200.70,1766.70 201.12,1762.44 201.53,1757.78 201.95,1752.88 202.37,1748.01 202.78,1743.45 203.19,1739.50 203.61,1736.46 204.03,1734.53 204.44,1733.85 204.85,1734.43 205.27,1736.16 205.69,1738.83 206.10,1742.19 206.51,1745.92 206.93,1749.72 207.34,1753.34 207.76,1756.58 208.18,1759.32 208.59,1761.50 209.00,1763.12 209.42,1764.23 209.84,1764.90 210.25,1765.21 210.66,1765.27 211.08,1765.16 211.50,1764.90 211.91,1764.55 212.32,1764.13 212.74,1763.67 213.16,1763.18 213.57,1762.65 213.98,1762.07 214.40,1761.40 214.81,1760.55 215.23,1759.40 215.64,1757.76 216.06,1755.40 216.47,1753.04 216.89,1749.42 217.31,1744.36 217.72,1737.81 218.13,1729.92 218.55,1721.04 218.97,1711.67 219.38,1702.38 219.79,1693.62 220.21,1685.51 220.62,1677.66 221.04,1669.08 221.45,1658.27 221.87,1643.38 222.28,1622.89 222.70,1597.27 223.11,1568.21 223.53,1537.61 223.94,1508.06 224.36,1482.08 224.77,1461.57 225.19,1447.50 225.60,1439.81 226.02,1437.60 226.44,1439.41 226.85,1443.49 227.26,1448.03 227.68,1451.96 228.09,1456.82 228.51,1464.70 228.93,1477.44 229.34,1496.35 229.75,1521.90 230.17,1553.56 230.58,1589.75 231.00,1628.01 231.41,1665.51 231.83,1699.52 232.25,1728.04 232.66,1750.14 233.07,1765.92 233.49,1776.33 233.90,1782.73 234.32,1786.47 234.73,1789.02 235.15,1790.76 235.56,1792.12 235.98,1793.34 236.39,1794.49 236.81,1795.63 237.22,1796.12 237.64,1796.60 238.06,1797.09 238.47,1797.58 238.88,1798.06 239.30,1798.55 239.72,1799.03 240.13,1799.52 240.55,1799.67 240.96,1799.81 241.38,1799.96 241.79,1800.10 242.20,1800.25 242.62,1800.40 243.03,1800.54 243.45,1800.69 243.87,1800.83 244.28,1800.98 244.69,1800.80 245.11,1800.61 245.52,1800.43 245.94,1800.25 246.35,1800.07 246.77,1799.88 247.19,1799.70 247.60,1799.52 248.01,1799.13 248.43,1798.74 248.84,1798.35 249.26,1797.97 249.67,1797.58 250.09,1797.19 250.50,1796.80 250.92,1796.41 251.33,1796.02 251.75,1795.63 252.16,1795.24 252.58,1794.86 253.00,1794.47 253.41,1794.08 253.82,1793.69 254.24,1793.30 254.65,1792.91 255.07,1792.52 255.48,1792.13 255.90,1791.75 256.31,1791.54 256.73,1791.33 257.14,1791.12 257.56,1790.91 257.98,1790.70 258.39,1790.50 258.81,1790.29 259.22,1790.08 259.63,1789.87 260.05,1789.66 260.47,1789.46 260.88,1789.25 261.30,1789.04 261.71,1788.83 262.12,1788.71 262.54,1788.58 262.95,1788.46 263.37,1788.33 263.78,1788.21 264.20,1788.08 264.62,1787.96 265.03,1787.84 265.44,1787.71 265.86,1787.59 266.27,1787.46 266.69,1787.34 267.11,1787.21 267.52,1787.09 267.94,1786.97 268.35,1786.84 268.76,1786.72 269.18,1786.59 269.60,1786.47 270.01,1786.34 270.43,1786.22 270.84,1786.10 271.25,1785.97 271.67,1785.85 272.08,1785.72 272.50,1785.60 272.91,1785.47 273.33,1785.35 273.75,1785.23 274.16,1785.10 274.57,1784.98 274.99,1784.85 275.40,1784.73 275.82,1784.60 276.24,1784.48 276.65,1784.36 277.06,1784.23 277.48,1784.11 277.89,1783.98 278.31,1783.86 278.73,1783.73 279.14,1783.61 279.56,1783.49 279.97,1783.36 280.38,1783.24 280.80,1783.11 281.22,1782.99 281.63,1782.86 282.05,1782.74 282.46,1782.62 282.88,1782.49 283.29,1782.37 283.70,1782.24 284.12,1782.12 284.53,1781.99 284.95,1781.87 285.37,1781.75 285.78,1781.62 286.19,1781.50 286.61,1781.37 287.02,1781.25 287.44,1781.12 287.86,1781.00 288.27,1780.88 288.69,1780.75 289.10,1780.63 289.51,1780.50 289.93,1780.38 290.35,1780.25 290.76,1780.13 291.18,1780.01 291.59,1779.88 292.00,1779.76 292.42,1779.63 292.83,1779.51 293.25,1779.38 293.66,1779.26 294.08,1779.14 294.50,1779.01 294.91,1778.89 295.32,1778.76 295.74,1778.64 296.15,1778.51 296.57,1778.39 296.99,1778.26 297.40,1778.14 297.81,1778.01 298.23,1777.88 298.64,1777.74 299.06,1777.57 299.48,1777.35 299.89,1777.01 300.31,1776.47 300.72,1775.57 301.13,1774.10 301.55,1771.75 301.97,1768.11 302.38,1762.73 302.79,1755.10 303.21,1744.75 303.62,1731.28 304.04,1714.49 304.46,1694.58 304.87,1671.66 305.28,1646.33 305.70,1619.38 306.12,1591.79 306.53,1564.60 306.94,1538.79 307.36,1515.25 307.77,1494.62 308.19,1477.33 308.61,1463.54 309.02,1453.17 309.44,1445.92 309.85,1441.36 310.26,1438.91 310.68,1437.94 311.10,1437.79 311.51,1437.89 311.93,1438.54 312.34,1440.41 312.75,1444.14 313.17,1450.34 313.58,1459.51 314.00,1472.00 314.41,1487.98 314.83,1507.39 315.25,1529.93 315.66,1555.01 316.07,1581.85 316.49,1609.49 316.90,1636.91 317.32,1663.09 317.74,1687.14 318.15,1708.39 318.56,1726.44 318.98,1741.15 319.39,1752.63 319.81,1761.22 320.23,1767.36 320.64,1771.56 321.06,1774.30 321.47,1776.00 321.88,1777.02 322.30,1777.60 322.72,1778.18 323.13,1778.61 323.54,1778.97 323.96,1779.29 324.38,1779.59 324.79,1779.89 325.21,1780.18 325.62,1780.47 326.03,1780.76 326.45,1781.06 326.87,1781.35 327.28,1781.64 327.69,1781.93 328.11,1782.22 328.52,1782.51 328.94,1782.81 329.36,1783.10 329.77,1783.39 330.19,1783.68 330.60,1783.97 331.01,1783.91 331.43,1783.85 331.85,1783.80 332.26,1783.74 332.67,1783.68 333.09,1783.62 333.50,1783.56 333.92,1783.51 334.33,1783.45 334.75,1783.39 335.17,1783.42 335.58,1783.45 336.00,1783.49 336.41,1783.52 336.83,1783.55 337.24,1783.58 337.65,1783.61 338.07,1783.65 338.49,1783.68 338.90,1783.71 339.31,1783.74 339.73,1783.78 340.14,1783.81 340.56,1783.84 340.98,1783.87 341.39,1783.90 341.81,1783.94 342.22,1783.97 342.63,1784.00 343.05,1784.03 343.47,1784.07 343.88,1784.10 344.29,1784.13 344.71,1784.16 345.12,1784.19 345.54,1784.23 345.96,1784.26 346.37,1784.29 346.78,1784.32 347.20,1784.36 347.62,1784.39 348.03,1784.42 348.44,1784.45 348.86,1784.48 349.27,1784.52 349.69,1784.55 350.11,1784.58 350.52,1784.61 350.94,1784.65 351.35,1784.68 351.76,1784.71 352.18,1784.74 352.60,1784.78 353.01,1784.81 353.42,1784.84 353.84,1784.87 354.25,1784.90 354.67,1784.94 355.08,1784.97 355.50,1785.00 355.92,1785.03 356.33,1785.07 356.75,1785.10 357.16,1785.13 357.58,1785.16 357.99,1785.19 358.40,1785.23 358.82,1785.26 359.24,1785.29 359.65,1785.32 360.06,1785.36 360.48,1785.39 360.89,1785.42 361.31,1785.45 361.73,1785.48 362.14,1785.52 362.56,1785.55 362.97,1785.58 363.38,1785.61 363.80,1785.65 364.22,1785.68 364.63,1785.71 365.04,1785.74 365.46,1785.77 365.88,1785.81 366.29,1785.84 366.71,1785.87 367.12,1785.90 367.53,1785.94 367.95,1785.97 368.37,1786.00 368.78,1786.03 369.19,1786.06 369.61,1786.10 370.02,1786.13 370.44,1786.16 370.86,1786.19 371.27,1786.23 371.69,1786.26 372.10,1786.29 372.51,1786.32 372.93,1786.36 373.35,1786.39 373.76,1786.42 374.17,1786.45 374.59,1786.48 375.00,1786.52 375.42,1786.55 375.83,1786.58 376.25,1786.61 376.67,1786.65 377.08,1786.68 377.50,1786.71 377.91,1786.74 378.33,1786.77 378.74,1786.81 379.15,1786.84 379.57,1786.87 379.99,1786.90 380.40,1786.94 380.81,1786.97 381.23,1787.00 381.64,1787.03 382.06,1787.06 382.48,1787.10 382.89,1787.13 383.31,1787.16 383.72,1787.19 384.13,1787.23 384.55,1787.26 384.97,1787.29 385.38,1787.32 385.79,1787.35 386.21,1787.39 386.62,1787.42 387.04,1787.45 387.46,1787.48 387.87,1787.52 388.28,1787.55 388.70,1787.58 389.12,1787.61 389.53,1787.65 389.94,1787.68 390.36,1787.71 390.77,1787.74 391.19,1787.77 391.61,1787.81 392.02,1787.84 392.44,1787.87 392.85,1787.90 393.26,1787.94 393.68,1787.97 394.10,1788.00 394.51,1788.03 394.92,1788.06 395.34,1788.10 395.75,1788.13 396.17,1788.16 396.58,1788.19 397.00,1788.23 397.42,1788.26 397.83,1788.29 398.25,1788.32 398.66,1788.35 399.08,1788.39 399.49,1788.42 399.90,1788.45 400.32,1788.48 400.74,1788.52 401.15,1788.55 401.56,1788.58 401.98,1788.61 402.39,1788.64 402.81,1788.68 403.23,1788.71 403.64,1788.74 404.06,1788.77 404.47,1788.81 404.88,1788.84 405.30,1788.87 405.72,1788.90 406.13,1788.93 406.54,1788.97 406.96,1789.00 407.38,1789.03 407.79,1789.06 408.21,1789.10 408.62,1789.13 409.03,1789.16 409.45,1789.19 409.87,1789.23 410.28,1789.26 410.69,1789.29 411.11,1789.32 411.52,1789.35 411.94,1789.39 412.36,1789.42 412.77,1789.45 413.19,1789.48 413.60,1789.52 414.01,1789.55 414.43,1789.58 414.85,1789.61 415.26,1789.64 415.67,1789.68 416.09,1789.71 416.50,1789.74 416.92,1789.77 417.33,1789.81 417.75,1789.84 418.17,1789.87 418.58,1789.90 419.00,1789.93 419.41,1789.97 419.83,1790.00 420.24,1790.03 420.65,1790.06 421.07,1790.10 421.49,1790.13 421.90,1790.16 422.31,1790.19 422.73,1790.22 423.14,1790.26 423.56,1790.29 423.98,1790.32 424.39,1790.35 424.81,1790.39 425.22,1790.42 425.63,1790.45 426.05,1790.48 426.47,1790.51 426.88,1790.55 427.29,1790.58 427.71,1790.61 428.12,1790.64 428.54,1790.68 428.96,1790.71 429.37,1790.74 429.78,1790.77 430.20,1790.81 430.62,1790.84 431.03,1790.87 431.44,1790.90 431.86,1790.93 432.27,1790.97 432.69,1791.00 433.11,1791.03 433.52,1791.06 433.94,1791.10 434.35,1791.13 434.76,1791.16 435.18,1791.19 435.60,1791.22 436.01,1791.26 436.42,1791.29 436.84,1791.32 437.25,1791.35 437.67,1791.39 438.09,1791.42 438.50,1791.45 438.91,1791.48 439.33,1791.51 439.75,1791.55 440.16,1791.58 440.58,1791.61 440.99,1791.64 441.40,1791.68 441.82,1791.71 442.24,1791.74 442.65,1791.77 443.06,1791.80 443.48,1791.84 443.89,1791.87 444.31,1791.90 444.73,1791.93 445.14,1791.97 445.56,1792.00 445.97,1792.03 446.38,1792.06 446.80,1792.09 447.22,1792.13 447.63,1792.16 448.04,1792.19 448.46,1792.22 448.88,1792.26 449.29,1792.29 449.71,1792.32 450.12,1792.35 450.53,1792.39 450.95,1792.42 451.37,1792.45 451.78,1792.48 452.19,1792.51 452.61,1792.55 453.02,1792.58 453.44,1792.61 453.86,1792.64 454.27,1792.68 454.69,1792.71 455.10,1792.74 455.51,1792.77 455.93,1792.80 456.35,1792.84 456.76,1792.87 457.17,1792.90 457.59,1792.93 458.00,1792.97 458.42,1793.00 458.84,1793.03 459.25,1793.06 459.66,1793.09 460.08,1793.13 460.50,1793.16 460.91,1793.19 461.33,1793.22 461.74,1793.26 462.15,1793.29 462.57,1793.32 462.99,1793.35 463.40,1793.38 463.81,1793.42 464.23,1793.45 464.64,1793.48 465.06,1793.51 465.48,1793.55 465.89,1793.58 466.31,1793.61 466.72,1793.64 467.13,1793.68 467.55,1793.71 467.97,1793.74 468.38,1793.77 468.79,1793.80 469.21,1793.84 469.62,1793.87 470.04,1793.90 470.46,1793.93 470.87,1793.97 471.28,1794.00 471.70,1794.03 472.12,1794.06 472.53,1794.09 472.94,1794.13 473.36,1794.16 473.77,1794.19 474.19,1794.22 474.61,1794.26 475.02,1794.29 475.44,1794.32 475.85,1794.35 476.26,1794.38 476.68,1794.42 477.10,1794.45 477.51,1794.48 477.92,1794.51 478.34,1794.55 478.75,1794.58 479.17,1794.61 479.59,1794.64 480.00,1794.67 480.41,1794.71 480.83,1794.74 481.25,1794.77 481.66,1794.80 482.08,1794.84 482.49,1794.87 482.90,1794.90 483.32,1794.93 483.74,1794.96 484.15,1795.00 484.56,1795.03 484.98,1795.06 485.39,1795.09 485.81,1795.13 486.23,1795.16 486.64,1795.19 487.06,1795.22 487.47,1795.26 487.88,1795.29 488.30,1795.32 488.72,1795.35 489.13,1795.38 489.54,1795.42 489.96,1795.45 490.38,1795.48 490.79,1795.51 491.21,1795.55 491.62,1795.58 492.03,1795.61 492.45,1795.64 492.87,1795.67 493.28,1795.71 493.70,1795.74 494.11,1795.77 494.52,1795.80 494.94,1795.84 495.36,1795.87 495.77,1795.90 496.19,1795.93 496.60,1795.96 497.01,1796.00 497.43,1796.03 497.84,1796.06 498.26,1796.09 498.68,1796.13 499.09,1796.16 499.50,1796.19 499.92,1796.22 500.34,1796.25 500.75,1796.29 501.16,1796.32 501.58,1796.35 502.00,1796.38 502.41,1796.42 502.83,1796.45 503.24,1796.48 503.65,1796.51 504.07,1796.54 504.49,1796.58 504.90,1796.61 505.32,1796.64 505.73,1796.67 506.14,1796.71 506.56,1796.74 506.98,1796.77 507.39,1796.80 507.80,1796.84 508.22,1796.87 508.63,1796.90 509.05,1796.93 509.47,1796.96 509.88,1797.00 510.29,1797.03 510.71,1797.06 511.12,1797.09 511.54,1797.13 511.96,1797.16 512.37,1797.19 512.78,1797.22 513.20,1797.25 513.62,1797.29 514.03,1797.32 514.44,1797.35 514.86,1797.38 515.27,1797.42 515.69,1797.45 516.11,1797.48 516.52,1797.51 516.94,1797.54 517.35,1797.58 517.76,1797.54 518.18,1797.51 518.59,1797.48 519.01,1797.45 519.43,1797.41 519.84,1797.38 520.25,1797.35 520.67,1797.32 521.09,1797.29 521.50,1797.25 521.91,1797.22 522.33,1797.19 522.75,1797.15 523.16,1797.12 523.58,1797.09 523.99,1797.05 524.40,1796.99 524.82,1796.92 525.24,1796.80 525.65,1796.59 526.07,1796.22 526.48,1795.57 526.89,1794.47 527.31,1792.66 527.73,1789.80 528.14,1785.42 528.55,1779.02 528.97,1769.99 529.38,1757.72 529.80,1741.65 530.22,1721.46 530.63,1696.79 531.04,1667.68 531.46,1634.43 531.88,1597.67 532.29,1558.29 532.71,1517.41 533.12,1476.24 533.53,1436.05 533.95,1398.01 534.37,1363.12 534.78,1332.18 535.19,1305.70 535.61,1283.91 536.03,1266.78 536.44,1254.03 536.86,1245.20 537.27,1239.67 537.69,1236.71 538.10,1235.56 538.51,1235.39 538.93,1235.53 539.34,1236.33 539.76,1238.61 540.18,1243.16 540.59,1250.73 541.00,1261.98 541.42,1277.45 541.84,1297.50 542.25,1322.26 542.66,1351.60 543.08,1385.12 543.50,1422.15 543.91,1461.76 544.33,1502.82 544.74,1544.11 545.15,1584.37 545.57,1622.43 545.99,1657.32 546.40,1688.28 546.82,1714.88 547.23,1736.99 547.64,1754.74 548.06,1768.50 548.48,1778.79 548.89,1786.22 549.30,1791.37 549.72,1794.82 550.13,1797.04 550.55,1798.43 550.97,1799.27 551.38,1799.77 551.79,1800.06 552.21,1800.25 552.62,1800.38 553.04,1800.47 553.46,1800.55 553.87,1800.63 554.28,1800.70 554.70,1800.77 555.12,1800.84 555.53,1800.91 555.94,1800.98 556.36,1801.05 556.78,1801.12 557.19,1801.18 557.61,1801.25 558.02,1801.32 558.44,1801.38 558.85,1801.44 559.26,1801.48 559.68,1801.50 560.09,1801.50 560.51,1801.46 560.93,1801.36 561.34,1801.19 561.75,1800.90 562.17,1800.46 562.59,1799.82 563.00,1798.92 563.41,1797.72 563.83,1796.15 564.25,1794.15 564.66,1791.69 565.08,1788.75 565.49,1785.32 565.90,1781.43 566.32,1777.13 566.74,1772.51 567.15,1767.68 567.57,1762.77 567.98,1757.92 568.39,1753.27 568.81,1748.96 569.23,1745.10 569.64,1741.80 570.05,1739.10 570.47,1737.04 570.88,1735.61 571.30,1734.75 571.72,1734.37 572.13,1734.33 572.54,1734.48 572.96,1734.98 573.38,1735.96 573.79,1737.51 574.21,1739.69 574.62,1742.50 575.03,1745.92 575.45,1749.89 575.87,1754.32 576.28,1759.08 576.69,1764.05 577.11,1769.08 577.53,1774.03 577.94,1778.76 578.36,1783.18 578.77,1787.19 579.19,1790.73 579.60,1793.79 580.01,1796.38 580.43,1798.51 580.84,1800.21 581.26,1801.55 581.68,1802.57 582.09,1803.35 582.50,1803.92 582.92,1804.34 583.34,1804.64 583.75,1804.87 584.16,1805.04 584.58,1805.17 585.00,1805.28 585.41,1805.37 585.83,1805.46 586.24,1805.54 586.65,1805.61 587.07,1805.69 587.49,1805.76 587.90,1805.84 588.32,1805.85 588.73,1805.87 589.14,1805.89 589.56,1805.90 589.98,1805.92 590.39,1805.93 590.80,1805.95 591.22,1805.97 591.63,1805.98 592.05,1806.00 592.47,1806.02 592.88,1806.03 593.29,1806.05 593.71,1806.06 594.12,1806.08 594.54,1806.10 594.96,1806.11 595.37,1806.13 595.78,1806.14 596.20,1806.16 596.62,1806.18 597.03,1806.19 597.44,1806.21 597.86,1806.23 598.28,1806.24 598.69,1806.26 599.11,1806.27 599.52,1806.29 599.94,1806.31 600.35,1806.32 600.76,1806.34 601.18,1806.36 601.59,1806.37 602.01,1806.39 602.43,1806.40 602.84,1806.42 603.25,1806.44 603.67,1806.45 604.09,1806.47 604.50,1806.48 604.91,1806.50 605.33,1806.52 605.75,1806.53 606.16,1806.55 606.58,1806.57 606.99,1806.58 607.40,1806.60 607.82,1806.61 608.24,1806.63 608.65,1806.65 609.07,1806.66 609.48,1806.68 609.89,1806.70 610.31,1806.71 610.73,1806.73 611.14,1806.74 611.55,1806.76 611.97,1806.78 612.38,1806.79 612.80,1806.81 613.22,1806.83 613.63,1806.84 614.04,1806.86 614.46,1806.87 614.88,1806.89 615.29,1806.91 615.71,1806.92 616.12,1806.94 616.53,1806.95 616.95,1806.97 617.37,1806.99 617.78,1807.00 618.19,1807.02 618.61,1807.04 619.03,1807.05 619.44,1807.07 619.86,1807.08 620.27,1807.10 620.69,1807.12 621.10,1807.13 621.51,1807.15 621.93,1807.17 622.34,1807.18 622.76,1807.20 623.18,1807.21 623.59,1807.23 624.00,1807.25 624.42,1807.26 624.84,1807.28 625.25,1807.29 625.66,1807.31 626.08,1807.33 626.50,1807.34 626.91,1807.36 627.33,1807.38 627.74,1807.39 628.15,1807.41 628.57,1807.42 628.99,1807.44 629.40,1807.46 629.82,1807.47 630.23,1807.49 630.64,1807.51 631.06,1807.52 631.48,1807.54 631.89,1807.55 632.30,1807.57 632.72,1807.59 633.13,1807.60 633.55,1807.62 633.97,1807.63 634.38,1807.65 634.79,1807.67 635.21,1807.68 635.62,1807.70 636.04,1807.72 636.46,1807.73 636.87,1807.75 637.28,1807.76 637.70,1807.78 638.12,1807.80 638.53,1807.81 638.94,1807.83 639.36,1807.85 639.78,1807.86 640.19,1807.88 640.61,1807.89 641.02,1807.91 641.44,1807.93 641.85,1807.94 642.26,1807.96 642.68,1807.98 643.09,1807.99 643.51,1808.01 643.93,1808.02 644.34,1808.04 644.75,1808.06 645.17,1808.07 645.59,1808.09 646.00,1808.10 646.41,1808.12 646.83,1808.14 647.25,1808.15 647.66,1808.17 648.08,1808.19 648.49,1808.20 648.90,1808.22 649.32,1808.23 649.74,1808.25 650.15,1808.27 650.57,1808.28 650.98,1808.30 651.39,1808.32 651.81,1808.33 652.23,1808.35 652.64,1808.36 653.05,1808.38 653.47,1808.40 653.88,1808.41 654.30,1808.43 654.72,1808.44 655.13,1808.46 655.54,1808.48 655.96,1808.49 656.38,1808.51 656.79,1808.53 657.21,1808.54 657.62,1808.56 658.03,1808.57 658.45,1808.59 658.87,1808.61 659.28,1808.62 659.69,1808.64 660.11,1808.66 660.53,1808.67 660.94,1808.69 661.36,1808.70 661.77,1808.72 662.19,1808.74 662.60,1808.75 663.01,1808.74 663.43,1808.73 663.85,1808.72 664.26,1808.70 664.68,1808.69 665.09,1808.68 665.50,1808.67 665.92,1808.66 666.34,1808.64 666.75,1808.63 667.16,1808.62 667.58,1808.61 668.00,1808.59 668.41,1808.58 668.83,1808.57 669.24,1808.56 669.65,1808.55 670.07,1808.53 670.49,1808.52 670.90,1808.51 671.32,1808.50 671.73,1808.49 672.14,1808.47 672.56,1808.46 672.98,1808.45 673.39,1808.44 673.80,1808.42 674.22,1808.41 674.63,1808.39 675.05,1808.37 675.47,1808.34 675.88,1808.30 676.29,1808.23 676.71,1808.12 677.12,1807.94 677.54,1807.65 677.96,1807.19 678.37,1806.47 678.79,1805.38 679.20,1803.78 679.62,1801.54 680.03,1798.39 680.45,1794.10 680.86,1788.41 681.28,1781.05 681.69,1771.78 682.11,1760.37 682.52,1746.66 682.94,1730.58 683.35,1712.13 683.76,1691.43 684.18,1668.71 684.60,1644.29 685.01,1618.59 685.43,1592.10 685.84,1565.35 686.25,1538.89 686.67,1513.24 687.09,1488.89 687.50,1466.26 687.91,1445.70 688.33,1427.44 688.75,1411.63 689.16,1398.32 689.58,1387.47 689.99,1378.93 690.40,1372.53 690.82,1368.00 691.24,1365.06 691.65,1363.37 692.07,1362.61 692.48,1362.42 692.90,1362.45 693.31,1362.64 693.73,1363.33 694.14,1364.88 694.55,1367.62 694.97,1371.87 695.39,1377.96 695.80,1386.12 696.22,1396.57 696.63,1409.46 697.05,1424.84 697.46,1442.69 697.88,1462.88 698.29,1485.19 698.71,1509.30 699.12,1534.80 699.54,1561.21 699.95,1588.02 700.37,1614.68 700.78,1640.65 701.20,1665.43 701.61,1688.60 702.03,1709.80 702.44,1728.78 702.86,1745.41 703.27,1759.66 703.69,1771.60 704.10,1781.36 704.51,1789.15 704.93,1795.23 705.35,1799.85 705.76,1803.28 706.18,1805.75 706.59,1807.50 707.00,1808.70 707.42,1809.51 707.84,1810.04 708.25,1810.39 708.66,1810.61 709.08,1810.76 709.50,1810.86 709.91,1810.93 710.33,1810.98 710.74,1811.03 711.15,1811.07 711.57,1811.11 711.99,1811.14 712.40,1811.18 712.82,1811.18 713.23,1811.18 713.65,1811.18 714.06,1811.18 714.48,1811.18 714.89,1811.18 715.30,1811.18 715.72,1811.18 716.14,1811.18 716.55,1811.18 716.97,1811.18 717.38,1811.18 717.80,1811.18 718.21,1811.18 718.62,1811.18 719.04,1811.18 719.46,1811.18 719.87,1811.18 720.29,1811.18 720.70,1811.18 721.12,1811.18 721.53,1811.18 721.95,1811.18 722.36,1811.18 722.78,1811.18 723.19,1811.18 723.61,1811.18 724.02,1811.18 724.44,1811.18 724.85,1811.18 725.26,1811.18 725.68,1811.18 726.10,1811.18 726.51,1811.18 726.93,1811.18 727.34,1811.18 727.75,1811.18 728.17,1811.18 728.59,1811.18 729.00,1811.18 729.41,1811.18 729.83,1811.18 730.25,1811.18 730.66,1811.18 731.08,1811.18 731.49,1811.18 731.90,1811.18 732.32,1811.17 732.74,1811.16 733.15,1811.14 733.57,1811.16 733.98,1811.17 734.40,1811.14 734.81,1811.08 735.23,1810.97 735.64,1810.78 736.05,1810.49 736.47,1810.07 736.89,1809.48 737.30,1808.69 737.72,1807.66 738.13,1806.34 738.55,1804.71 738.96,1802.73 739.38,1800.39 739.79,1797.69 740.21,1794.66 740.62,1791.32 741.04,1787.72 741.45,1783.95 741.87,1780.09 742.28,1776.23 742.70,1772.48 743.11,1768.92 743.53,1765.65 743.94,1762.74 744.36,1760.25 744.77,1758.22 745.19,1756.65 745.60,1755.54 746.01,1754.86 746.43,1754.53 746.85,1754.48 747.26,1754.56 747.68,1754.86 748.09,1755.49 748.50,1756.53 748.92,1758.00 749.34,1759.95 749.75,1762.35 750.16,1765.20 750.58,1768.43 751.00,1771.98 751.41,1775.76 751.83,1779.69 752.24,1783.66 752.65,1787.57 753.07,1791.34 753.49,1794.89 753.90,1798.15 754.32,1801.08 754.73,1803.66 755.15,1805.88 755.56,1807.75 755.98,1809.28 756.39,1810.53 756.80,1811.51 757.22,1812.27 757.64,1812.84 758.05,1813.28 758.47,1813.60 758.88,1813.84 759.30,1814.02 759.71,1814.15 760.12,1814.26 760.54,1814.34 760.96,1814.41 761.37,1814.47 761.79,1814.53 762.20,1814.58 762.62,1814.63 763.03,1814.68 763.45,1814.73 763.86,1814.78 764.28,1814.83 764.69,1814.87 765.11,1814.92 765.52,1814.97 765.94,1815.02 766.35,1815.07 766.76,1814.92 767.18,1814.78 767.60,1814.63 768.01,1814.49 768.43,1814.34 768.84,1814.19 769.25,1814.05 769.67,1813.90 770.09,1813.76 770.50,1813.61 770.91,1813.62 771.33,1813.63 771.75,1813.64 772.16,1813.64 772.58,1813.65 772.99,1813.66 773.40,1813.67 773.82,1813.68 774.24,1813.68 774.65,1813.69 775.07,1813.70 775.48,1813.71 775.90,1813.72 776.31,1813.72 776.73,1813.73 777.14,1813.74 777.55,1813.75 777.97,1813.76 778.39,1813.77 778.80,1813.77 779.22,1813.78 779.63,1813.79 780.05,1813.80 780.46,1813.81 780.88,1813.81 781.29,1813.82 781.71,1813.83 782.12,1813.84 782.54,1813.85 782.95,1813.85 783.37,1813.86 783.78,1813.87 784.20,1813.88 784.61,1813.89 785.03,1813.89 785.44,1813.90 785.86,1813.91 786.27,1813.92 786.69,1813.93 787.10,1813.94 787.51,1813.94 787.93,1813.95 788.35,1813.96 788.76,1813.97 789.18,1813.98 789.59,1813.98 790.00,1813.99 790.42,1814.00 790.84,1814.01 791.25,1814.02 791.66,1814.02 792.08,1814.03 792.50,1814.04 792.91,1814.05 793.33,1814.06 793.74,1814.07 794.15,1814.07 794.57,1814.08 794.99,1814.09 795.40,1814.10 795.82,1814.11 796.23,1814.11 796.65,1814.12 797.06,1814.13 797.48,1814.14 797.89,1814.15 798.30,1814.15 798.72,1814.16 799.14,1814.17 799.55,1814.18 799.97,1814.19 800.38,1814.19 800.80,1814.20 801.21,1814.21 801.62,1814.22 802.04,1814.23 802.46,1814.24 802.87,1814.24 803.29,1814.25 803.70,1814.26 804.12,1814.27 804.53,1814.28 804.95,1814.28 805.36,1814.29 805.78,1814.30 806.19,1814.31 806.61,1814.32 807.02,1814.32 807.44,1814.33 807.85,1814.34 808.26,1814.35 808.68,1814.36 809.10,1814.36 809.51,1814.37 809.93,1814.38 810.34,1814.39 810.75,1814.40 811.17,1814.41 811.59,1814.41 812.00,1814.42 812.42,1814.43 812.83,1814.44 813.25,1814.45 813.66,1814.45 814.08,1814.46 814.49,1814.47 814.90,1814.48 815.32,1814.49 815.74,1814.49 816.15,1814.50 816.57,1814.51 816.98,1814.52 817.40,1814.53 817.81,1814.53 818.23,1814.54 818.64,1814.55 819.05,1814.56 819.47,1814.57 819.89,1814.58 820.30,1814.58 820.72,1814.59 821.13,1814.60 821.55,1814.61 821.96,1814.62 822.38,1814.62 822.79,1814.63 823.21,1814.64 823.62,1814.65 824.04,1814.66 824.45,1814.66 824.87,1814.67 825.28,1814.68 825.70,1814.69 826.11,1814.70 826.53,1814.70 826.94,1814.71 827.36,1814.72 827.77,1814.73 828.19,1814.74 828.60,1814.75 829.02,1814.75 829.43,1814.76 829.85,1814.77 830.26,1814.78 830.68,1814.79 831.09,1814.79 831.50,1814.80 831.92,1814.81 832.34,1814.82 832.75,1814.83 833.16,1814.83 833.58,1814.84 834.00,1814.85 834.41,1814.86 834.82,1814.87 835.24,1814.87 835.66,1814.88 836.07,1814.89 836.49,1814.90 836.90,1814.91 837.32,1814.92 837.73,1814.92 838.15,1814.93 838.56,1814.94 838.98,1814.95 839.39,1814.96 839.80,1814.96 840.22,1814.97 840.63,1814.98 841.05,1814.99 841.46,1815.00 841.88,1815.00 842.30,1815.01 842.71,1815.02 843.13,1815.03 843.54,1815.04 843.96,1815.04 844.37,1815.05 844.79,1815.06 845.20,1815.07 845.62,1815.08 846.03,1815.09 846.45,1815.09 846.86,1815.10 847.27,1815.11 847.69,1815.12 848.11,1815.13 848.52,1815.13 848.94,1815.14 849.35,1815.15 849.77,1815.16 850.18,1815.17 850.60,1815.17 851.01,1815.18 851.43,1815.19 851.84,1815.20 852.25,1815.21 852.67,1815.21 853.09,1815.22 853.50,1815.23 853.91,1815.24 854.33,1815.25 854.75,1815.26 855.16,1815.26 855.57,1815.27 855.99,1815.28 856.41,1815.29 856.82,1815.30 857.24,1815.30 857.65,1815.31 858.07,1815.32 858.48,1815.33 858.90,1815.34 859.31,1815.34 859.73,1815.35 860.14,1815.36 860.55,1815.37 860.97,1815.38 861.38,1815.39 861.80,1815.39 862.21,1815.40 862.63,1815.41 863.05,1815.42 863.46,1815.43 863.88,1815.43 864.29,1815.44 864.71,1815.45 865.12,1815.46 865.54,1815.47 865.95,1815.47 866.37,1815.48 866.78,1815.49 867.20,1815.50 867.61,1815.51 868.02,1815.51 868.44,1815.52 868.86,1815.53 869.27,1815.54 869.69,1815.55 870.10,1815.56 870.52,1815.56 870.93,1815.57 871.35,1815.58 871.76,1815.59 872.18,1815.60 872.59,1815.60 873.00,1815.61 873.42,1815.62 873.84,1815.63 874.25,1815.64 874.66,1815.64 875.08,1815.65 875.50,1815.66 875.91,1815.67 876.33,1815.68 876.74,1815.68 877.16,1815.69 877.57,1815.70 877.99,1815.71 878.40,1815.72 878.82,1815.73 879.23,1815.73 879.65,1815.74 880.06,1815.75 880.48,1815.76 880.89,1815.77 881.30,1815.77 881.72,1815.78 882.13,1815.79 882.55,1815.80 882.96,1815.81 883.38,1815.81 883.80,1815.82 884.21,1815.83 884.63,1815.84 885.04,1815.85 885.46,1815.85 885.87,1815.86 886.29,1815.87 886.70,1815.88 887.12,1815.89 887.53,1815.90 887.95,1815.90 888.36,1815.91 888.77,1815.92 889.19,1815.93 889.61,1815.94 890.02,1815.94 890.44,1815.95 890.85,1815.96 891.27,1815.97 891.68,1815.98 892.10,1815.98 892.51,1815.99 892.93,1816.00 893.34,1816.01 893.75,1816.02 894.17,1816.02 894.59,1816.03 895.00,1816.04 895.41,1816.05 895.83,1816.06 896.25,1816.07 896.66,1816.07 897.08,1816.08 897.49,1816.09 897.91,1816.10 898.32,1816.11 898.74,1816.11 899.15,1816.12 899.57,1816.13 899.98,1816.14 900.40,1816.15 900.81,1816.15 901.23,1816.16 901.64,1816.17 902.05,1816.18 902.47,1816.19 902.88,1816.19 903.30,1816.20 903.71,1816.21 904.13,1816.22 904.55,1816.23 904.96,1816.24 905.38,1816.24 905.79,1816.25 906.21,1816.26 906.62,1816.27 907.04,1816.28 907.45,1816.28 907.87,1816.29 908.28,1816.30 908.70,1816.31 909.11,1816.32 909.52,1816.32 909.94,1816.33 910.36,1816.34 910.77,1816.35 911.19,1816.36 911.60,1816.36 912.02,1816.37 912.43,1816.38 912.85,1816.39 913.26,1816.40 913.68,1816.41 914.09,1816.41 914.50,1816.42 914.92,1816.43 915.34,1816.44 915.75,1816.45 916.16,1816.45 916.58,1816.46 917.00,1816.47 917.41,1816.48 917.83,1816.49 918.24,1816.49 918.66,1816.50 919.07,1816.51 919.49,1816.52 919.90,1816.53 920.32,1816.53 920.73,1816.54 921.15,1816.55 921.56,1816.56 921.98,1816.57 922.39,1816.58 922.80,1816.58 923.22,1816.59 923.63,1816.60 924.05,1816.61 924.46,1816.62 924.88,1816.62 925.30,1816.63 925.71,1816.64 926.13,1816.65 926.54,1816.66 926.96,1816.66 927.37,1816.67 927.79,1816.68 928.20,1816.69 928.62,1816.70 929.03,1816.71 929.45,1816.71 929.86,1816.72 930.27,1816.73 930.69,1816.74 931.11,1816.75 931.52,1816.75 931.94,1816.76 932.35,1816.77 932.77,1816.78 933.18,1816.79 933.60,1816.79 934.01,1816.80 934.43,1816.81 934.84,1816.82 935.25,1816.83 935.67,1816.83 936.09,1816.84 936.50,1816.85 936.91,1816.86 937.33,1816.87 937.75,1816.88 938.16,1816.88 938.58,1816.89 938.99,1816.90 939.41,1816.91 939.82,1816.92 940.24,1816.92 940.65,1816.93 941.07,1816.94 941.48,1816.95 941.90,1816.96 942.31,1816.96 942.73,1816.97 943.14,1816.98 943.55,1816.99 943.97,1817.00 944.38,1817.00 944.80,1817.01 945.21,1817.02 945.63,1817.03 946.05,1817.04 946.46,1817.05 946.88,1817.05 947.29,1817.06 947.71,1817.07 948.12,1817.08 948.54,1817.09 948.95,1817.09 949.37,1817.10 949.78,1817.11 950.20,1817.12 950.61,1817.13 951.02,1817.13 951.44,1817.14 951.86,1817.15 952.27,1817.16 952.69,1817.17 953.10,1817.17 953.52,1817.18 953.93,1817.19 954.35,1817.20 954.76,1817.21 955.18,1817.22 955.59,1817.22 956.00,1817.23 956.42,1817.24 956.84,1817.25 957.25,1817.26 957.66,1817.26 958.08,1817.27 958.50,1817.28 958.91,1817.29 959.33,1817.30 959.74,1817.30 960.16,1817.31 960.57,1817.32 960.99,1817.33 961.40,1817.34 961.82,1817.34 962.23,1817.35 962.65,1817.36 963.06,1817.37 963.48,1817.38 963.89,1817.39 964.30,1817.39 964.72,1817.40 965.13,1817.41 965.55,1817.42 965.96,1817.43 966.38,1817.43 966.80,1817.44 967.21,1817.45 967.63,1817.46 968.04,1817.47 968.46,1817.47 968.87,1817.48 969.29,1817.49 969.70,1817.50 970.12,1817.51 970.53,1817.51 970.95,1817.52 971.36,1817.53 971.77,1817.54 972.19,1817.55 972.61,1817.56 973.02,1817.56 973.44,1817.57 973.85,1817.58 974.27,1817.59 974.68,1817.60 975.10,1817.60 975.51,1817.61 975.93,1817.62 976.34,1817.63 976.75,1817.64 977.17,1817.64 977.59,1817.65 978.00,1817.66 978.41,1817.67 978.83,1817.68 979.25,1817.68 979.66,1817.69 980.08,1817.70 980.49,1817.71 980.91,1817.72 981.32,1817.73 981.74,1817.73 982.15,1817.74 982.57,1817.75 982.98,1817.76 983.40,1817.77 983.81,1817.77 984.23,1817.78 984.64,1817.79 985.05,1817.80 985.47,1817.81 985.88,1817.81 986.30,1817.82 986.71,1817.83 987.13,1817.84 987.55,1817.85 987.96,1817.86 988.38,1817.86 988.79,1817.87 989.21,1817.88 989.62,1817.89 990.04,1817.90 990.45,1817.90 990.87,1817.91 991.28,1817.92 991.70,1817.93 992.11,1817.94 992.52,1817.94 992.94,1817.95 993.36,1817.96 993.77,1817.97 994.19,1817.98 994.60,1817.98" fill="none" stroke="#3a3a3a" stroke-width="2.2" stroke-linejoin="round"/>
<path d="M164.6,1189.3 H994.6 V1820.9 H164.6 Z" fill="none" stroke="#161616" stroke-width="2.4"/>
<path d="M164.6,1820.9 h-13 M164.6,1772.3 h-6.5 M164.6,1723.7 h-13 M164.6,1675.1 h-6.5 M164.6,1626.5 h-13 M164.6,1578.0 h-6.5 M164.6,1529.4 h-13 M164.6,1480.8 h-6.5 M164.6,1432.2 h-13 M164.6,1383.6 h-6.5 M164.6,1335.0 h-13 M164.6,1286.4 h-6.5 M164.6,1237.8 h-13 M164.6,1189.2 h-6.5 M164.6,1820.9 v12 M247.6,1820.9 v5.5 M330.6,1820.9 v12 M413.6,1820.9 v5.5 M496.6,1820.9 v12 M579.6,1820.9 v5.5 M662.6,1820.9 v12 M745.6,1820.9 v5.5 M828.6,1820.9 v12 M911.6,1820.9 v5.5 M994.6,1820.9 v12" stroke="#161616" stroke-width="2.4" fill="none"/>
<text x="146.0" y="1831.2" font-size="29" fill="#3a3a3a" text-anchor="end">0</text>
<text x="146.0" y="1734.0" font-size="29" fill="#3a3a3a" text-anchor="end">10</text>
<text x="146.0" y="1636.8" font-size="29" fill="#3a3a3a" text-anchor="end">20</text>
<text x="146.0" y="1539.7" font-size="29" fill="#3a3a3a" text-anchor="end">30</text>
<text x="146.0" y="1442.5" font-size="29" fill="#3a3a3a" text-anchor="end">40</text>
<text x="146.0" y="1345.3" font-size="29" fill="#3a3a3a" text-anchor="end">50</text>
<text x="146.0" y="1248.1" font-size="29" fill="#3a3a3a" text-anchor="end">60</text>
<text x="164.6" y="1864.0" font-size="28.5" fill="#3a3a3a" text-anchor="middle">0</text>
<text x="330.6" y="1864.0" font-size="28.5" fill="#3a3a3a" text-anchor="middle">2</text>
<text x="496.6" y="1864.0" font-size="28.5" fill="#3a3a3a" text-anchor="middle">4</text>
<text x="662.6" y="1864.0" font-size="28.5" fill="#3a3a3a" text-anchor="middle">6</text>
<text x="828.6" y="1864.0" font-size="28.5" fill="#3a3a3a" text-anchor="middle">8</text>
<text x="991.3" y="1864.0" font-size="28.5" fill="#3a3a3a" text-anchor="middle">10</text>
<text x="584.2" y="1902.9" font-size="28.5" fill="#3a3a3a" text-anchor="middle" font-weight="bold" textLength="164.5" lengthAdjust="spacingAndGlyphs">Energy (keV)</text>
<text transform="translate(66.6,1502.3) rotate(-90)" font-size="30" font-weight="bold" fill="#3a3a3a" text-anchor="middle" textLength="90.4" lengthAdjust="spacingAndGlyphs">Counts</text>
<text x="174.4" y="1721.0" font-size="28.5" fill="#3a3a3a">Ti</text>
<text x="200.6" y="1413.4" font-size="28.5" fill="#3a3a3a">Fe</text>
<text x="293.2" y="1422.9" font-size="28.5" fill="#3a3a3a">Si</text>
<text x="521.4" y="1226.8" font-size="28.5" fill="#3a3a3a">Ti</text>
<text x="676.8" y="1348.5" font-size="28.5" fill="#3a3a3a">Fe</text>
<text x="566.2" y="1723.7" font-size="28.5" fill="#3a3a3a">Ti</text>
<text x="730.5" y="1743.5" font-size="28.5" fill="#3a3a3a">Fe</text>
<path d="M 1617.9,1515.2 L 1617.9,1516.5 L 1617.8,1517.8 L 1617.8,1519.1 L 1617.7,1520.3 L 1617.5,1521.6 L 1617.4,1522.9 L 1617.2,1524.2 L 1617.0,1525.5 L 1616.7,1526.8 L 1616.4,1528.1 L 1616.1,1529.3 L 1615.8,1530.6 L 1615.4,1531.9 L 1615.0,1533.2 L 1614.6,1534.5 L 1614.2,1535.8 L 1613.7,1537.1 L 1613.2,1538.4 L 1612.6,1539.7 L 1612.0,1541.0 L 1611.4,1542.2 L 1610.8,1543.5 L 1610.1,1544.8 L 1609.4,1546.1 L 1606.0,1609.0 L 1606.7,1607.8 L 1607.4,1606.5 L 1608.0,1605.2 L 1608.6,1604.0 L 1609.2,1602.7 L 1609.7,1601.4 L 1610.3,1600.1 L 1610.7,1598.9 L 1611.2,1597.6 L 1611.6,1596.3 L 1612.0,1595.0 L 1612.3,1593.8 L 1612.7,1592.5 L 1613.0,1591.2 L 1613.2,1590.0 L 1613.5,1588.7 L 1613.7,1587.4 L 1613.9,1586.2 L 1614.0,1584.9 L 1614.2,1583.6 L 1614.3,1582.4 L 1614.3,1581.1 L 1614.4,1579.8 L 1614.4,1578.6 Z" fill="#4f7c60"/>
<path d="M 1609.4,1546.1 L 1608.7,1547.4 L 1608.0,1548.6 L 1607.2,1549.9 L 1606.4,1551.1 L 1605.5,1552.4 L 1604.7,1553.6 L 1603.8,1554.9 L 1602.8,1556.1 L 1601.9,1557.4 L 1600.9,1558.6 L 1599.9,1559.9 L 1598.8,1561.1 L 1597.7,1562.3 L 1596.6,1563.6 L 1595.5,1564.8 L 1594.3,1566.0 L 1593.1,1567.2 L 1591.9,1568.4 L 1590.6,1569.7 L 1589.3,1570.9 L 1588.0,1572.1 L 1586.6,1573.3 L 1585.2,1574.4 L 1583.8,1575.6 L 1582.3,1576.8 L 1580.9,1578.0 L 1579.4,1579.1 L 1577.8,1580.3 L 1576.3,1581.5 L 1574.7,1582.6 L 1573.0,1583.8 L 1571.4,1584.9 L 1569.7,1586.0 L 1568.0,1587.1 L 1566.2,1588.2 L 1564.4,1589.4 L 1562.6,1590.4 L 1560.8,1591.5 L 1558.9,1592.6 L 1557.0,1593.7 L 1555.1,1594.8 L 1553.2,1595.8 L 1551.2,1596.9 L 1549.2,1597.9 L 1547.1,1598.9 L 1545.1,1599.9 L 1543.0,1600.9 L 1540.9,1601.9 L 1538.7,1602.9 L 1536.6,1603.9 L 1534.4,1604.9 L 1532.1,1605.8 L 1529.9,1606.8 L 1527.6,1607.7 L 1525.3,1608.6 L 1523.0,1609.5 L 1520.6,1610.4 L 1518.2,1611.3 L 1515.8,1612.2 L 1513.4,1613.1 L 1511.0,1613.9 L 1508.5,1614.8 L 1506.0,1615.6 L 1503.5,1616.4 L 1500.9,1617.2 L 1498.3,1618.0 L 1495.8,1618.8 L 1493.1,1619.5 L 1490.5,1620.3 L 1487.9,1621.0 L 1485.2,1621.7 L 1482.5,1622.4 L 1479.8,1623.1 L 1477.0,1623.8 L 1474.3,1624.5 L 1471.5,1625.1 L 1468.7,1625.7 L 1465.9,1626.4 L 1463.1,1627.0 L 1460.2,1627.6 L 1457.4,1628.1 L 1454.5,1628.7 L 1451.6,1629.2 L 1448.7,1629.7 L 1445.8,1630.3 L 1442.8,1630.8 L 1439.9,1631.2 L 1436.9,1631.7 L 1433.9,1632.1 L 1430.9,1632.6 L 1427.9,1633.0 L 1424.9,1633.4 L 1421.9,1633.7 L 1418.8,1634.1 L 1415.8,1634.5 L 1412.7,1634.8 L 1409.7,1635.1 L 1406.6,1635.4 L 1403.5,1635.7 L 1400.4,1635.9 L 1397.3,1636.2 L 1394.2,1636.4 L 1391.1,1636.6 L 1388.0,1636.8 L 1384.8,1637.0 L 1381.7,1637.1 L 1378.6,1637.2 L 1375.4,1637.4 L 1372.3,1637.5 L 1369.2,1637.6 L 1366.0,1637.6 L 1362.9,1637.7 L 1359.7,1637.7 L 1356.6,1637.7 L 1353.4,1637.7 L 1350.3,1637.7 L 1347.1,1637.6 L 1344.0,1637.6 L 1340.8,1637.5 L 1337.7,1637.4 L 1334.5,1637.3 L 1331.4,1637.2 L 1328.3,1637.0 L 1325.1,1636.9 L 1322.0,1636.7 L 1318.9,1636.5 L 1315.8,1636.3 L 1312.7,1636.1 L 1309.6,1635.8 L 1306.5,1635.5 L 1303.4,1635.3 L 1300.3,1634.9 L 1297.3,1634.6 L 1294.2,1634.3 L 1291.2,1633.9 L 1288.1,1633.6 L 1285.1,1633.2 L 1282.1,1632.8 L 1279.1,1632.4 L 1276.1,1631.9 L 1273.1,1631.5 L 1270.2,1631.0 L 1267.2,1630.5 L 1264.3,1630.0 L 1261.4,1629.5 L 1258.5,1629.0 L 1255.6,1628.4 L 1252.7,1627.9 L 1249.9,1627.3 L 1247.0,1626.7 L 1244.2,1626.1 L 1241.4,1625.5 L 1238.6,1624.8 L 1235.9,1624.2 L 1233.1,1623.5 L 1230.4,1622.8 L 1227.7,1622.1 L 1225.0,1621.4 L 1222.3,1620.7 L 1219.7,1619.9 L 1217.1,1619.2 L 1214.5,1618.4 L 1211.9,1617.6 L 1209.3,1616.8 L 1206.8,1616.0 L 1204.3,1615.2 L 1201.8,1614.4 L 1199.3,1613.5 L 1196.9,1612.7 L 1194.5,1611.8 L 1192.1,1610.9 L 1189.7,1610.0 L 1187.4,1609.1 L 1185.0,1608.2 L 1182.8,1607.3 L 1180.5,1606.3 L 1178.2,1605.4 L 1176.0,1604.4 L 1173.8,1603.5 L 1171.7,1602.5 L 1169.6,1601.5 L 1167.5,1600.5 L 1165.4,1599.5 L 1163.3,1598.5 L 1161.3,1597.4 L 1159.3,1596.4 L 1157.3,1595.3 L 1155.4,1594.3 L 1153.5,1593.2 L 1151.6,1592.1 L 1149.8,1591.0 L 1147.9,1589.9 L 1146.2,1588.8 L 1144.4,1587.7 L 1142.7,1586.6 L 1140.9,1585.5 L 1139.3,1584.4 L 1137.6,1583.2 L 1136.0,1582.1 L 1134.4,1580.9 L 1132.9,1579.8 L 1131.3,1578.6 L 1129.8,1577.4 L 1128.4,1576.3 L 1126.9,1575.1 L 1125.5,1573.9 L 1124.2,1572.7 L 1122.8,1571.5 L 1121.5,1570.3 L 1120.2,1569.1 L 1119.0,1567.9 L 1117.8,1566.7 L 1116.6,1565.5 L 1115.4,1564.2 L 1114.3,1563.0 L 1113.2,1561.8 L 1112.1,1560.5 L 1111.1,1559.3 L 1110.1,1558.1 L 1109.1,1556.8 L 1108.1,1555.6 L 1107.2,1554.3 L 1106.3,1553.1 L 1105.5,1551.8 L 1104.7,1550.6 L 1103.9,1549.3 L 1103.1,1548.0 L 1102.4,1546.8 L 1101.7,1545.5 L 1101.0,1544.3 L 1100.3,1543.0 L 1099.7,1541.7 L 1099.1,1540.5 L 1098.6,1539.2 L 1098.1,1537.9 L 1097.6,1536.7 L 1097.1,1535.4 L 1096.7,1534.1 L 1096.2,1532.9 L 1095.9,1531.6 L 1095.5,1530.3 L 1095.2,1529.1 L 1094.9,1527.8 L 1094.6,1526.5 L 1094.4,1525.3 L 1094.2,1524.0 L 1094.0,1522.8 L 1093.9,1521.5 L 1093.7,1520.3 L 1093.6,1519.0 L 1093.6,1517.7 L 1093.5,1516.5 L 1093.5,1515.2 L 1097.0,1578.6 L 1097.0,1579.8 L 1097.1,1581.1 L 1097.1,1582.3 L 1097.2,1583.5 L 1097.3,1584.8 L 1097.5,1586.0 L 1097.7,1587.3 L 1097.9,1588.5 L 1098.1,1589.7 L 1098.4,1591.0 L 1098.7,1592.2 L 1099.0,1593.5 L 1099.3,1594.7 L 1099.7,1596.0 L 1100.1,1597.2 L 1100.5,1598.5 L 1101.0,1599.7 L 1101.5,1601.0 L 1102.0,1602.2 L 1102.6,1603.5 L 1103.1,1604.7 L 1103.7,1606.0 L 1104.4,1607.2 L 1105.0,1608.5 L 1105.7,1609.7 L 1106.5,1611.0 L 1107.2,1612.2 L 1108.0,1613.4 L 1108.8,1614.7 L 1109.7,1615.9 L 1110.5,1617.1 L 1111.4,1618.4 L 1112.4,1619.6 L 1113.3,1620.8 L 1114.3,1622.1 L 1115.4,1623.3 L 1116.4,1624.5 L 1117.5,1625.7 L 1118.6,1626.9 L 1119.7,1628.1 L 1120.9,1629.3 L 1122.1,1630.5 L 1123.4,1631.7 L 1124.6,1632.9 L 1125.9,1634.1 L 1127.3,1635.3 L 1128.6,1636.5 L 1130.0,1637.6 L 1131.4,1638.8 L 1132.9,1640.0 L 1134.3,1641.1 L 1135.8,1642.3 L 1137.4,1643.4 L 1138.9,1644.5 L 1140.5,1645.7 L 1142.2,1646.8 L 1143.8,1647.9 L 1145.5,1649.0 L 1147.2,1650.1 L 1148.9,1651.2 L 1150.7,1652.3 L 1152.5,1653.4 L 1154.3,1654.4 L 1156.2,1655.5 L 1158.1,1656.6 L 1160.0,1657.6 L 1161.9,1658.6 L 1163.9,1659.7 L 1165.9,1660.7 L 1167.9,1661.7 L 1170.0,1662.7 L 1172.0,1663.7 L 1174.1,1664.7 L 1176.3,1665.6 L 1178.4,1666.6 L 1180.6,1667.5 L 1182.8,1668.5 L 1185.1,1669.4 L 1187.3,1670.3 L 1189.6,1671.2 L 1191.9,1672.1 L 1194.2,1673.0 L 1196.6,1673.9 L 1199.0,1674.7 L 1201.4,1675.6 L 1203.8,1676.4 L 1206.3,1677.2 L 1208.8,1678.0 L 1211.3,1678.8 L 1213.8,1679.6 L 1216.3,1680.4 L 1218.9,1681.2 L 1221.5,1681.9 L 1224.1,1682.6 L 1226.7,1683.3 L 1229.4,1684.0 L 1232.1,1684.7 L 1234.7,1685.4 L 1237.5,1686.1 L 1240.2,1686.7 L 1242.9,1687.3 L 1245.7,1688.0 L 1248.5,1688.6 L 1251.3,1689.1 L 1254.1,1689.7 L 1256.9,1690.3 L 1259.8,1690.8 L 1262.6,1691.3 L 1265.5,1691.8 L 1268.4,1692.3 L 1271.3,1692.8 L 1274.2,1693.3 L 1277.2,1693.7 L 1280.1,1694.2 L 1283.1,1694.6 L 1286.0,1695.0 L 1289.0,1695.3 L 1292.0,1695.7 L 1295.0,1696.1 L 1298.0,1696.4 L 1301.1,1696.7 L 1304.1,1697.0 L 1307.1,1697.3 L 1310.2,1697.5 L 1313.2,1697.8 L 1316.3,1698.0 L 1319.4,1698.2 L 1322.5,1698.4 L 1325.5,1698.6 L 1328.6,1698.8 L 1331.7,1698.9 L 1334.8,1699.0 L 1337.9,1699.1 L 1341.0,1699.2 L 1344.1,1699.3 L 1347.2,1699.4 L 1350.3,1699.4 L 1353.4,1699.4 L 1356.5,1699.4 L 1359.7,1699.4 L 1362.8,1699.4 L 1365.9,1699.3 L 1369.0,1699.3 L 1372.1,1699.2 L 1375.2,1699.1 L 1378.3,1699.0 L 1381.4,1698.8 L 1384.5,1698.7 L 1387.5,1698.5 L 1390.6,1698.3 L 1393.7,1698.1 L 1396.8,1697.9 L 1399.8,1697.7 L 1402.9,1697.4 L 1405.9,1697.1 L 1409.0,1696.8 L 1412.0,1696.5 L 1415.0,1696.2 L 1418.0,1695.9 L 1421.0,1695.5 L 1424.0,1695.1 L 1427.0,1694.8 L 1429.9,1694.3 L 1432.9,1693.9 L 1435.8,1693.5 L 1438.8,1693.0 L 1441.7,1692.6 L 1444.6,1692.1 L 1447.5,1691.6 L 1450.3,1691.1 L 1453.2,1690.5 L 1456.0,1690.0 L 1458.8,1689.4 L 1461.7,1688.8 L 1464.4,1688.2 L 1467.2,1687.6 L 1470.0,1687.0 L 1472.7,1686.4 L 1475.4,1685.7 L 1478.1,1685.0 L 1480.8,1684.4 L 1483.5,1683.7 L 1486.1,1683.0 L 1488.7,1682.2 L 1491.3,1681.5 L 1493.9,1680.7 L 1496.4,1680.0 L 1499.0,1679.2 L 1501.5,1678.4 L 1504.0,1677.6 L 1506.4,1676.8 L 1508.9,1676.0 L 1511.3,1675.1 L 1513.7,1674.3 L 1516.1,1673.4 L 1518.4,1672.5 L 1520.7,1671.6 L 1523.0,1670.7 L 1525.3,1669.8 L 1527.6,1668.9 L 1529.8,1668.0 L 1532.0,1667.0 L 1534.1,1666.1 L 1536.3,1665.1 L 1538.4,1664.1 L 1540.5,1663.2 L 1542.6,1662.2 L 1544.6,1661.2 L 1546.6,1660.1 L 1548.6,1659.1 L 1550.5,1658.1 L 1552.5,1657.0 L 1554.4,1656.0 L 1556.2,1654.9 L 1558.1,1653.9 L 1559.9,1652.8 L 1561.7,1651.7 L 1563.4,1650.6 L 1565.1,1649.5 L 1566.8,1648.4 L 1568.5,1647.3 L 1570.1,1646.2 L 1571.7,1645.1 L 1573.3,1643.9 L 1574.9,1642.8 L 1576.4,1641.6 L 1577.9,1640.5 L 1579.3,1639.3 L 1580.8,1638.2 L 1582.2,1637.0 L 1583.5,1635.8 L 1584.9,1634.6 L 1586.2,1633.5 L 1587.5,1632.3 L 1588.7,1631.1 L 1589.9,1629.9 L 1591.1,1628.7 L 1592.3,1627.5 L 1593.4,1626.3 L 1594.5,1625.1 L 1595.6,1623.8 L 1596.6,1622.6 L 1597.6,1621.4 L 1598.6,1620.2 L 1599.5,1618.9 L 1600.5,1617.7 L 1601.3,1616.5 L 1602.2,1615.2 L 1603.0,1614.0 L 1603.8,1612.8 L 1604.6,1611.5 L 1605.3,1610.3 L 1606.0,1609.0 Z" fill="url(#sideI)"/>
<path d="M 1355.7,1493.2 L 1355.7,1392.8 L 1357.9,1392.8 L 1360.1,1392.8 L 1362.3,1392.8 L 1364.5,1392.8 L 1366.7,1392.9 L 1368.9,1392.9 L 1371.0,1393.0 L 1373.2,1393.1 L 1375.4,1393.1 L 1377.6,1393.2 L 1379.8,1393.3 L 1382.0,1393.4 L 1384.2,1393.5 L 1386.3,1393.6 L 1388.5,1393.7 L 1390.7,1393.9 L 1392.9,1394.0 L 1395.1,1394.2 L 1397.2,1394.3 L 1399.4,1394.5 L 1401.6,1394.7 L 1403.7,1394.8 L 1405.9,1395.0 L 1408.1,1395.2 L 1410.2,1395.5 L 1412.4,1395.7 L 1414.5,1395.9 L 1416.7,1396.1 L 1418.8,1396.4 L 1421.0,1396.6 L 1423.1,1396.9 L 1425.2,1397.2 L 1427.3,1397.4 L 1429.5,1397.7 L 1431.6,1398.0 L 1433.7,1398.3 L 1435.8,1398.6 L 1437.9,1399.0 L 1440.0,1399.3 L 1442.1,1399.6 L 1444.2,1400.0 L 1446.3,1400.3 L 1448.4,1400.7 L 1450.5,1401.1 L 1452.5,1401.4 L 1454.6,1401.8 L 1456.7,1402.2 L 1458.7,1402.6 L 1460.8,1403.0 L 1462.8,1403.5 L 1464.9,1403.9 L 1466.9,1404.3 L 1468.9,1404.8 L 1470.9,1405.2 L 1472.9,1405.7 L 1474.9,1406.2 L 1476.9,1406.7 L 1478.9,1407.1 L 1480.9,1407.6 L 1482.9,1408.2 L 1484.9,1408.7 L 1486.8,1409.2 L 1488.8,1409.7 L 1490.7,1410.3 L 1492.6,1410.8 L 1494.6,1411.4 L 1496.5,1411.9 L 1498.4,1412.5 L 1500.3,1413.1 L 1502.2,1413.7 L 1504.1,1414.3 L 1505.9,1414.9 L 1507.8,1415.5 L 1509.7,1416.1 L 1511.5,1416.7 L 1513.3,1417.4 L 1515.2,1418.0 L 1517.0,1418.7 L 1518.8,1419.4 L 1520.6,1420.0 L 1522.4,1420.7 L 1524.1,1421.4 L 1525.9,1422.1 L 1527.6,1422.8 L 1529.4,1423.5 L 1531.1,1424.2 L 1532.8,1425.0 L 1534.5,1425.7 L 1536.2,1426.4 L 1537.9,1427.2 L 1539.6,1427.9 L 1541.2,1428.7 L 1542.9,1429.5 L 1544.5,1430.3 L 1546.1,1431.1 L 1547.7,1431.9 L 1549.3,1432.7 L 1550.9,1433.5 L 1552.5,1434.3 L 1554.0,1435.1 L 1555.5,1436.0 L 1557.1,1436.8 L 1558.6,1437.7 L 1560.1,1438.5 L 1561.5,1439.4 L 1563.0,1440.3 L 1564.5,1441.2 L 1565.9,1442.0 L 1567.3,1442.9 L 1568.7,1443.8 L 1570.1,1444.8 L 1571.5,1445.7 L 1572.8,1446.6 L 1574.2,1447.5 L 1575.5,1448.5 L 1576.8,1449.4 L 1578.1,1450.4 L 1579.4,1451.3 L 1580.6,1452.3 L 1581.9,1453.3 L 1583.1,1454.3 L 1584.3,1455.3 L 1585.5,1456.3 L 1586.6,1457.3 L 1587.8,1458.3 L 1588.9,1459.3 L 1590.0,1460.3 L 1591.1,1461.3 L 1592.2,1462.4 L 1593.3,1463.4 L 1594.3,1464.5 L 1595.3,1465.5 L 1596.3,1466.6 L 1597.3,1467.7 L 1598.2,1468.7 L 1599.2,1469.8 L 1600.1,1470.9 L 1601.0,1472.0 L 1601.9,1473.1 L 1602.7,1474.2 L 1603.5,1475.3 L 1604.3,1476.4 L 1605.1,1477.5 L 1605.9,1478.7 L 1606.7,1479.8 L 1607.4,1480.9 L 1608.1,1482.1 L 1608.8,1483.2 L 1609.4,1484.4 L 1610.0,1485.5 L 1610.6,1486.7 L 1611.2,1487.8 L 1611.8,1489.0 L 1612.3,1490.2 L 1612.9,1491.4 L 1613.3,1492.6 L 1613.8,1493.7 L 1614.3,1494.9 L 1614.7,1496.1 L 1615.1,1497.3 L 1615.4,1498.5 L 1615.8,1499.7 L 1616.1,1501.0 L 1616.4,1502.2 L 1616.7,1503.4 L 1616.9,1504.6 L 1617.1,1505.8 L 1617.3,1507.1 L 1617.5,1508.3 L 1617.6,1509.5 L 1617.7,1510.8 L 1617.8,1512.0 L 1617.8,1513.3 L 1617.9,1514.5 L 1617.9,1515.8 L 1617.9,1517.0 L 1617.8,1518.3 L 1617.7,1519.5 L 1617.6,1520.8 L 1617.5,1522.0 L 1617.3,1523.3 L 1617.1,1524.6 L 1616.9,1525.8 L 1616.7,1527.1 L 1616.4,1528.4 L 1616.1,1529.6 L 1615.7,1530.9 L 1615.4,1532.2 L 1615.0,1533.4 L 1614.6,1534.7 L 1614.1,1536.0 L 1613.6,1537.2 L 1613.1,1538.5 L 1612.6,1539.8 L 1612.0,1541.0 L 1611.4,1542.3 L 1610.8,1543.6 L 1610.1,1544.8 L 1609.4,1546.1 Z" fill="#74c196" stroke="#fff" stroke-width="1.3" stroke-linejoin="round"/>
<path d="M 1355.7,1493.2 L 1609.4,1546.1 L 1608.7,1547.4 L 1608.0,1548.6 L 1607.2,1549.9 L 1606.4,1551.1 L 1605.5,1552.4 L 1604.7,1553.6 L 1603.8,1554.9 L 1602.8,1556.1 L 1601.9,1557.4 L 1600.9,1558.6 L 1599.9,1559.9 L 1598.8,1561.1 L 1597.7,1562.3 L 1596.6,1563.6 L 1595.5,1564.8 L 1594.3,1566.0 L 1593.1,1567.2 L 1591.9,1568.4 L 1590.6,1569.7 L 1589.3,1570.9 L 1588.0,1572.1 L 1586.6,1573.3 L 1585.2,1574.4 L 1583.8,1575.6 L 1582.4,1576.8 L 1580.9,1578.0 L 1579.4,1579.1 L 1577.8,1580.3 L 1576.3,1581.5 L 1574.7,1582.6 L 1573.0,1583.7 L 1571.4,1584.9 L 1569.7,1586.0 L 1568.0,1587.1 L 1566.2,1588.2 L 1564.4,1589.3 L 1562.6,1590.4 L 1560.8,1591.5 L 1558.9,1592.6 L 1557.0,1593.7 L 1555.1,1594.8 L 1553.2,1595.8 L 1551.2,1596.9 L 1549.2,1597.9 L 1547.1,1598.9 L 1545.1,1599.9 L 1543.0,1600.9 L 1540.9,1601.9 L 1538.7,1602.9 L 1536.6,1603.9 L 1534.4,1604.9 L 1532.1,1605.8 L 1529.9,1606.8 L 1527.6,1607.7 L 1525.3,1608.6 L 1523.0,1609.5 L 1520.6,1610.4 L 1518.3,1611.3 L 1515.8,1612.2 L 1513.4,1613.1 L 1511.0,1613.9 L 1508.5,1614.8 L 1506.0,1615.6 L 1503.5,1616.4 L 1500.9,1617.2 L 1498.4,1618.0 L 1495.8,1618.8 L 1493.2,1619.5 L 1490.5,1620.3 L 1487.9,1621.0 L 1485.2,1621.7 L 1482.5,1622.4 L 1479.8,1623.1 L 1477.1,1623.8 L 1474.3,1624.5 L 1471.5,1625.1 L 1468.7,1625.7 L 1465.9,1626.4 L 1463.1,1627.0 L 1460.3,1627.6 L 1457.4,1628.1 L 1454.5,1628.7 L 1451.6,1629.2 L 1448.7,1629.7 L 1445.8,1630.3 L 1442.9,1630.7 L 1439.9,1631.2 L 1436.9,1631.7 L 1434.0,1632.1 L 1431.0,1632.6 L 1428.0,1633.0 L 1424.9,1633.4 L 1421.9,1633.7 L 1418.9,1634.1 L 1415.8,1634.4 L 1412.8,1634.8 L 1409.7,1635.1 L 1406.6,1635.4 L 1403.5,1635.7 L 1400.4,1635.9 L 1397.3,1636.2 L 1394.2,1636.4 L 1391.1,1636.6 L 1388.0,1636.8 L 1384.9,1637.0 L 1381.7,1637.1 L 1378.6,1637.2 L 1375.5,1637.4 L 1372.3,1637.5 L 1369.2,1637.6 L 1366.0,1637.6 L 1362.9,1637.7 L 1359.7,1637.7 L 1356.6,1637.7 L 1353.4,1637.7 L 1350.3,1637.7 L 1347.1,1637.6 L 1344.0,1637.6 L 1340.8,1637.5 L 1337.7,1637.4 L 1334.6,1637.3 L 1331.4,1637.2 L 1328.3,1637.0 L 1325.2,1636.9 L 1322.0,1636.7 L 1318.9,1636.5 L 1315.8,1636.3 L 1312.7,1636.1 L 1309.6,1635.8 L 1306.5,1635.5 L 1303.4,1635.3 L 1300.4,1635.0 L 1297.3,1634.6 L 1294.2,1634.3 L 1291.2,1633.9 L 1288.2,1633.6 L 1285.1,1633.2 L 1282.1,1632.8 L 1279.1,1632.4 L 1276.1,1631.9 L 1273.2,1631.5 L 1270.2,1631.0 L 1267.3,1630.5 L 1264.3,1630.0 L 1261.4,1629.5 L 1258.5,1629.0 L 1255.6,1628.4 L 1252.8,1627.9 L 1249.9,1627.3 L 1247.1,1626.7 L 1244.2,1626.1 L 1241.4,1625.5 L 1238.7,1624.8 L 1235.9,1624.2 L 1233.1,1623.5 L 1230.4,1622.8 L 1227.7,1622.1 L 1225.0,1621.4 L 1222.4,1620.7 L 1219.7,1620.0 L 1217.1,1619.2 L 1214.5,1618.4 L 1211.9,1617.7 L 1209.4,1616.9 L 1206.8,1616.1 L 1204.3,1615.2 L 1201.8,1614.4 L 1199.4,1613.6 L 1196.9,1612.7 L 1194.5,1611.8 L 1192.1,1610.9 L 1189.7,1610.1 L 1187.4,1609.1 L 1185.1,1608.2 L 1182.8,1607.3 L 1180.5,1606.4 L 1178.3,1605.4 L 1176.1,1604.5 L 1173.9,1603.5 L 1171.7,1602.5 L 1169.6,1601.5 L 1167.5,1600.5 L 1165.4,1599.5 L 1163.4,1598.5 L 1161.3,1597.4 L 1159.3,1596.4 L 1157.4,1595.3 L 1155.4,1594.3 L 1153.5,1593.2 L 1151.6,1592.1 L 1149.8,1591.1 L 1148.0,1590.0 L 1146.2,1588.9 L 1144.4,1587.8 L 1142.7,1586.6 L 1141.0,1585.5 L 1139.3,1584.4 L 1137.7,1583.2 L 1136.0,1582.1 L 1134.5,1581.0 L 1132.9,1579.8 L 1131.4,1578.6 L 1129.9,1577.5 L 1128.4,1576.3 L 1127.0,1575.1 L 1125.6,1573.9 L 1124.2,1572.7 L 1122.9,1571.5 L 1121.5,1570.3 L 1120.3,1569.1 L 1119.0,1567.9 L 1117.8,1566.7 L 1116.6,1565.5 L 1115.4,1564.3 L 1114.3,1563.0 L 1113.2,1561.8 L 1112.1,1560.6 L 1111.1,1559.3 L 1110.1,1558.1 L 1109.1,1556.8 L 1108.2,1555.6 L 1107.2,1554.3 L 1106.4,1553.1 L 1105.5,1551.8 L 1104.7,1550.6 L 1103.9,1549.3 L 1103.1,1548.1 L 1102.4,1546.8 L 1101.7,1545.6 L 1101.0,1544.3 L 1100.4,1543.0 L 1099.7,1541.8 L 1099.2,1540.5 L 1098.6,1539.2 L 1098.1,1538.0 L 1097.6,1536.7 L 1097.1,1535.4 L 1096.7,1534.2 L 1096.3,1532.9 L 1095.9,1531.6 L 1095.5,1530.4 L 1095.2,1529.1 L 1094.9,1527.8 L 1094.6,1526.6 L 1094.4,1525.3 L 1094.2,1524.0 L 1094.0,1522.8 L 1093.9,1521.5 L 1093.7,1520.3 L 1093.6,1519.0 L 1093.6,1517.8 L 1093.5,1516.5 L 1093.5,1515.3 L 1093.5,1514.0 L 1093.6,1512.8 L 1093.6,1511.5 L 1093.7,1510.3 L 1093.9,1509.1 L 1094.0,1507.8 L 1094.2,1506.6 L 1094.4,1505.4 L 1094.6,1504.2 L 1094.8,1502.9 L 1095.1,1501.7 L 1095.4,1500.5 L 1095.8,1499.3 L 1096.1,1498.1 L 1096.5,1496.9 L 1096.9,1495.7 L 1097.3,1494.5 L 1097.8,1493.3 L 1098.2,1492.1 L 1098.7,1490.9 L 1099.3,1489.8 L 1099.8,1488.6 L 1100.4,1487.4 L 1101.0,1486.3 L 1101.6,1485.1 L 1102.2,1483.9 L 1102.9,1482.8 L 1103.6,1481.7 L 1104.3,1480.5 L 1105.0,1479.4 L 1105.8,1478.3 L 1106.5,1477.1 L 1107.3,1476.0 L 1108.1,1474.9 L 1109.0,1473.8 L 1109.8,1472.7 L 1110.7,1471.6 L 1111.6,1470.5 L 1112.5,1469.4 L 1113.5,1468.4 L 1114.4,1467.3 L 1115.4,1466.2 L 1116.4,1465.2 L 1117.4,1464.1 L 1118.5,1463.1 L 1119.5,1462.0 L 1120.6,1461.0 L 1121.7,1460.0 L 1122.8,1459.0 L 1124.0,1458.0 L 1125.1,1456.9 L 1126.3,1455.9 L 1127.5,1455.0 L 1128.7,1454.0 L 1129.9,1453.0 L 1131.2,1452.0 L 1132.4,1451.1 L 1133.7,1450.1 L 1135.0,1449.1 L 1136.3,1448.2 L 1137.6,1447.3 L 1139.0,1446.3 L 1140.3,1445.4 L 1141.7,1444.5 L 1143.1,1443.6 L 1144.5,1442.7 L 1145.9,1441.8 L 1147.3,1440.9 L 1148.8,1440.0 L 1150.3,1439.2 L 1151.7,1438.3 L 1153.2,1437.4 L 1154.8,1436.6 L 1156.3,1435.7 L 1157.8,1434.9 L 1159.4,1434.1 L 1160.9,1433.3 L 1162.5,1432.5 L 1164.1,1431.6 L 1165.7,1430.9 L 1167.3,1430.1 L 1169.0,1429.3 L 1170.6,1428.5 L 1172.3,1427.7 L 1173.9,1427.0 L 1175.6,1426.2 L 1177.3,1425.5 L 1179.0,1424.8 L 1180.7,1424.0 L 1182.4,1423.3 L 1184.2,1422.6 L 1185.9,1421.9 L 1187.7,1421.2 L 1189.5,1420.5 L 1191.2,1419.9 L 1193.0,1419.2 L 1194.8,1418.5 L 1196.7,1417.9 L 1198.5,1417.2 L 1200.3,1416.6 L 1202.2,1416.0 L 1204.0,1415.4 L 1205.9,1414.7 L 1207.7,1414.1 L 1209.6,1413.5 L 1211.5,1413.0 L 1213.4,1412.4 L 1215.3,1411.8 L 1217.2,1411.2 L 1219.2,1410.7 L 1221.1,1410.1 L 1223.0,1409.6 L 1225.0,1409.1 L 1227.0,1408.6 L 1228.9,1408.0 L 1230.9,1407.5 L 1232.9,1407.0 L 1234.9,1406.6 L 1236.8,1406.1 L 1238.9,1405.6 L 1240.9,1405.1 L 1242.9,1404.7 L 1244.9,1404.3 L 1246.9,1403.8 L 1249.0,1403.4 L 1251.0,1403.0 L 1253.0,1402.6 L 1255.1,1402.2 L 1257.2,1401.8 L 1259.2,1401.4 L 1261.3,1401.0 L 1263.4,1400.6 L 1265.4,1400.3 L 1267.5,1399.9 Z" fill="#66c8f4" stroke="#fff" stroke-width="1.3" stroke-linejoin="round"/>
<path d="M 1355.7,1493.2 L 1267.5,1399.9 L 1269.6,1399.6 L 1271.8,1399.2 L 1273.9,1398.9 L 1276.0,1398.6 L 1278.1,1398.3 L 1280.3,1398.0 L 1282.4,1397.7 L 1284.6,1397.4 L 1286.7,1397.1 L 1288.9,1396.8 L 1291.0,1396.6 L 1293.2,1396.3 L 1295.3,1396.1 L 1297.5,1395.8 L 1299.7,1395.6 L 1301.8,1395.4 L 1304.0,1395.2 L 1306.2,1395.0 L 1308.4,1394.8 L 1310.6,1394.6 L 1312.7,1394.4 L 1314.9,1394.3 L 1317.1,1394.1 L 1319.3,1394.0 L 1321.5,1393.8 L 1323.7,1393.7 L 1325.9,1393.6 L 1328.1,1393.5 L 1330.3,1393.4 L 1332.5,1393.3 L 1334.7,1393.2 L 1336.9,1393.1 L 1339.1,1393.0 L 1341.3,1393.0 L 1343.6,1392.9 L 1345.8,1392.9 L 1348.0,1392.8 L 1350.2,1392.8 L 1352.4,1392.8 L 1354.6,1392.8 Z" fill="#e18fa6" stroke="#fff" stroke-width="1.3" stroke-linejoin="round"/>
<polyline points="1617.9,1515.2 1617.9,1517.0 1617.8,1518.7 1617.6,1520.5 1617.5,1522.2 1617.2,1523.9 1616.9,1525.7 1616.6,1527.4 1616.2,1529.2 1615.7,1531.0 1615.2,1532.7 1614.6,1534.5 1614.0,1536.2 1613.3,1538.0 1612.6,1539.7 1611.8,1541.5 1610.9,1543.2 1610.0,1545.0 1609.1,1546.8 1608.0,1548.5 1606.9,1550.2 1605.8,1552.0 1604.6,1553.7 1603.3,1555.5 1602.0,1557.2 1600.7,1558.9 1599.2,1560.6 1597.7,1562.3 1596.2,1564.0 1594.6,1565.7 1592.9,1567.4 1591.2,1569.1 1589.4,1570.8 1587.5,1572.4 1585.6,1574.1 1583.7,1575.7 1581.6,1577.4 1579.6,1579.0 1577.4,1580.6 1575.2,1582.2 1573.0,1583.8 1570.7,1585.4 1568.3,1586.9 1565.9,1588.5 1563.4,1590.0 1560.8,1591.5 1558.3,1593.0 1555.6,1594.5 1552.9,1595.9 1550.1,1597.4 1547.3,1598.8 1544.5,1600.2 1541.5,1601.6 1538.6,1603.0 1535.6,1604.4 1532.5,1605.7 1529.4,1607.0 1526.2,1608.3 1523.0,1609.6 1519.7,1610.8 1516.4,1612.0 1513.0,1613.2 1509.6,1614.4 1506.1,1615.5 1502.6,1616.7 1499.1,1617.8 1495.5,1618.9 1491.9,1619.9 1488.2,1620.9 1484.5,1621.9 1480.7,1622.9 1476.9,1623.8 1473.1,1624.7 1469.2,1625.6 1465.3,1626.5 1461.4,1627.3 1457.4,1628.1 1453.4,1628.9 1449.4,1629.6 1445.4,1630.3 1441.3,1631.0 1437.2,1631.6 1433.0,1632.3 1428.9,1632.8 1424.7,1633.4 1420.5,1633.9 1416.3,1634.4 1412.0,1634.9 1407.8,1635.3 1403.5,1635.7 1399.2,1636.0 1394.9,1636.3 1390.5,1636.6 1386.2,1636.9 1381.9,1637.1 1377.5,1637.3 1373.2,1637.4 1368.8,1637.6 1364.4,1637.6 1360.1,1637.7 1355.7,1637.7 1351.3,1637.7 1347.0,1637.6 1342.6,1637.6 1338.2,1637.4 1333.9,1637.3 1329.5,1637.1 1325.2,1636.9 1320.9,1636.6 1316.5,1636.3 1312.2,1636.0 1307.9,1635.7 1303.6,1635.3 1299.4,1634.9 1295.1,1634.4 1290.9,1633.9 1286.7,1633.4 1282.5,1632.8 1278.4,1632.3 1274.2,1631.6 1270.1,1631.0 1266.0,1630.3 1262.0,1629.6 1258.0,1628.9 1254.0,1628.1 1250.0,1627.3 1246.1,1626.5 1242.2,1625.6 1238.3,1624.7 1234.5,1623.8 1230.7,1622.9 1226.9,1621.9 1223.2,1620.9 1219.5,1619.9 1215.9,1618.9 1212.3,1617.8 1208.8,1616.7 1205.3,1615.5 1201.8,1614.4 1198.4,1613.2 1195.0,1612.0 1191.7,1610.8 1188.4,1609.6 1185.2,1608.3 1182.0,1607.0 1178.9,1605.7 1175.8,1604.4 1172.8,1603.0 1169.9,1601.6 1166.9,1600.2 1164.1,1598.8 1161.3,1597.4 1158.5,1595.9 1155.8,1594.5 1153.1,1593.0 1150.6,1591.5 1148.0,1590.0 1145.5,1588.5 1143.1,1586.9 1140.7,1585.4 1138.4,1583.8 1136.2,1582.2 1134.0,1580.6 1131.8,1579.0 1129.8,1577.4 1127.7,1575.7 1125.8,1574.1 1123.9,1572.4 1122.0,1570.8 1120.2,1569.1 1118.5,1567.4 1116.8,1565.7 1115.2,1564.0 1113.7,1562.3 1112.2,1560.6 1110.7,1558.9 1109.4,1557.2 1108.1,1555.5 1106.8,1553.7 1105.6,1552.0 1104.5,1550.2 1103.4,1548.5 1102.3,1546.8 1101.4,1545.0 1100.5,1543.2 1099.6,1541.5 1098.8,1539.7 1098.1,1538.0 1097.4,1536.2 1096.8,1534.5 1096.2,1532.7 1095.7,1531.0 1095.2,1529.2 1094.8,1527.4 1094.5,1525.7 1094.2,1523.9 1093.9,1522.2 1093.8,1520.5 1093.6,1518.7 1093.5,1517.0 1093.5,1515.2" fill="none" stroke="#fff" stroke-width="1.6"/>
<line x1="1609.4" y1="1546.1" x2="1606.0" y2="1609.0" stroke="#fff" stroke-width="1.2"/>
<path d="M 2223.7,1521.2 L 2223.7,1522.5 L 2223.7,1523.8 L 2223.6,1525.1 L 2223.5,1526.4 L 2223.4,1527.7 L 2223.2,1529.0 L 2223.0,1530.3 L 2222.8,1531.6 L 2222.5,1532.9 L 2222.3,1534.2 L 2222.0,1535.5 L 2221.6,1536.8 L 2221.2,1538.1 L 2220.8,1539.4 L 2220.4,1540.8 L 2219.9,1542.1 L 2219.5,1543.4 L 2218.9,1544.7 L 2218.4,1546.0 L 2217.8,1547.3 L 2217.2,1548.6 L 2216.5,1549.9 L 2215.8,1551.2 L 2215.1,1552.5 L 2214.4,1553.9 L 2213.6,1555.2 L 2212.8,1556.5 L 2212.0,1557.8 L 2211.1,1559.1 L 2210.2,1560.4 L 2209.3,1561.7 L 2208.3,1562.9 L 2207.3,1564.2 L 2204.0,1626.9 L 2205.0,1625.7 L 2206.0,1624.4 L 2206.9,1623.1 L 2207.8,1621.8 L 2208.6,1620.5 L 2209.5,1619.3 L 2210.3,1618.0 L 2211.0,1616.7 L 2211.8,1615.4 L 2212.5,1614.1 L 2213.1,1612.8 L 2213.8,1611.5 L 2214.4,1610.2 L 2215.0,1608.9 L 2215.5,1607.6 L 2216.0,1606.3 L 2216.5,1605.1 L 2217.0,1603.8 L 2217.4,1602.5 L 2217.8,1601.2 L 2218.2,1599.9 L 2218.5,1598.6 L 2218.8,1597.3 L 2219.1,1596.0 L 2219.3,1594.7 L 2219.5,1593.4 L 2219.7,1592.1 L 2219.9,1590.9 L 2220.0,1589.6 L 2220.1,1588.3 L 2220.2,1587.0 L 2220.2,1585.7 L 2220.2,1584.5 Z" fill="#4f7c60"/>
<path d="M 2207.3,1564.2 L 2206.3,1565.5 L 2205.2,1566.7 L 2204.2,1568.0 L 2203.1,1569.2 L 2202.0,1570.5 L 2200.8,1571.7 L 2199.6,1572.9 L 2198.4,1574.2 L 2197.1,1575.4 L 2195.9,1576.6 L 2194.5,1577.8 L 2193.2,1579.0 L 2191.8,1580.2 L 2190.4,1581.4 L 2189.0,1582.6 L 2187.5,1583.8 L 2186.0,1585.0 L 2184.5,1586.2 L 2183.0,1587.3 L 2181.4,1588.5 L 2179.8,1589.6 L 2178.1,1590.8 L 2176.4,1591.9 L 2174.7,1593.1 L 2173.0,1594.2 L 2171.2,1595.3 L 2169.4,1596.4 L 2167.6,1597.5 L 2165.8,1598.6 L 2163.9,1599.7 L 2162.0,1600.8 L 2160.0,1601.9 L 2158.1,1602.9 L 2156.1,1604.0 L 2154.1,1605.0 L 2152.0,1606.1 L 2149.9,1607.1 L 2147.8,1608.1 L 2145.7,1609.1 L 2143.5,1610.1 L 2141.3,1611.1 L 2139.1,1612.0 L 2136.9,1613.0 L 2134.6,1614.0 L 2132.3,1614.9 L 2130.0,1615.8 L 2127.7,1616.7 L 2125.3,1617.6 L 2122.9,1618.5 L 2120.5,1619.4 L 2118.0,1620.3 L 2115.6,1621.1 L 2113.1,1622.0 L 2110.6,1622.8 L 2108.0,1623.6 L 2105.5,1624.4 L 2102.9,1625.2 L 2100.3,1626.0 L 2097.6,1626.7 L 2095.0,1627.5 L 2092.3,1628.2 L 2089.6,1628.9 L 2086.9,1629.6 L 2084.2,1630.3 L 2081.4,1631.0 L 2078.7,1631.7 L 2075.9,1632.3 L 2073.1,1632.9 L 2070.2,1633.6 L 2067.4,1634.2 L 2064.5,1634.7 L 2061.7,1635.3 L 2058.8,1635.9 L 2055.9,1636.4 L 2052.9,1636.9 L 2050.0,1637.4 L 2047.1,1637.9 L 2044.1,1638.4 L 2041.1,1638.8 L 2038.1,1639.3 L 2035.1,1639.7 L 2032.1,1640.1 L 2029.1,1640.5 L 2026.0,1640.9 L 2023.0,1641.2 L 2019.9,1641.6 L 2016.8,1641.9 L 2013.8,1642.2 L 2010.7,1642.5 L 2007.6,1642.7 L 2004.5,1643.0 L 2001.4,1643.2 L 1998.3,1643.4 L 1995.1,1643.6 L 1992.0,1643.8 L 1988.9,1644.0 L 1985.7,1644.1 L 1982.6,1644.2 L 1979.4,1644.3 L 1976.3,1644.4 L 1973.1,1644.5 L 1970.0,1644.6 L 1966.8,1644.6 L 1963.7,1644.6 L 1960.5,1644.6 L 1957.4,1644.6 L 1954.2,1644.6 L 1951.1,1644.5 L 1947.9,1644.4 L 1944.8,1644.4 L 1941.6,1644.3 L 1938.5,1644.1 L 1935.3,1644.0 L 1932.2,1643.8 L 1929.1,1643.6 L 1925.9,1643.5 L 1922.8,1643.2 L 1919.7,1643.0 L 1916.6,1642.8 L 1913.5,1642.5 L 1910.4,1642.2 L 1907.3,1641.9 L 1904.3,1641.6 L 1901.2,1641.3 L 1898.1,1640.9 L 1895.1,1640.5 L 1892.1,1640.2 L 1889.1,1639.7 L 1886.0,1639.3 L 1883.1,1638.9 L 1880.1,1638.4 L 1877.1,1638.0 L 1874.2,1637.5 L 1871.2,1637.0 L 1868.3,1636.5 L 1865.4,1635.9 L 1862.5,1635.4 L 1859.6,1634.8 L 1856.7,1634.2 L 1853.9,1633.6 L 1851.1,1633.0 L 1848.3,1632.4 L 1845.5,1631.7 L 1842.7,1631.1 L 1840.0,1630.4 L 1837.2,1629.7 L 1834.5,1629.0 L 1831.8,1628.3 L 1829.1,1627.6 L 1826.5,1626.8 L 1823.9,1626.1 L 1821.2,1625.3 L 1818.7,1624.5 L 1816.1,1623.7 L 1813.6,1622.9 L 1811.0,1622.1 L 1808.5,1621.2 L 1806.1,1620.4 L 1803.6,1619.5 L 1801.2,1618.6 L 1798.8,1617.7 L 1796.4,1616.8 L 1794.1,1615.9 L 1791.8,1615.0 L 1789.5,1614.1 L 1787.2,1613.1 L 1784.9,1612.2 L 1782.7,1611.2 L 1780.5,1610.2 L 1778.4,1609.2 L 1776.2,1608.2 L 1774.1,1607.2 L 1772.0,1606.2 L 1770.0,1605.2 L 1768.0,1604.1 L 1766.0,1603.1 L 1764.0,1602.0 L 1762.1,1600.9 L 1760.1,1599.9 L 1758.3,1598.8 L 1756.4,1597.7 L 1754.6,1596.6 L 1752.8,1595.5 L 1751.0,1594.3 L 1749.3,1593.2 L 1747.6,1592.1 L 1745.9,1590.9 L 1744.2,1589.8 L 1742.6,1588.6 L 1741.0,1587.5 L 1739.5,1586.3 L 1737.9,1585.1 L 1736.4,1583.9 L 1735.0,1582.8 L 1733.5,1581.6 L 1732.1,1580.4 L 1730.8,1579.2 L 1729.4,1578.0 L 1728.1,1576.7 L 1726.8,1575.5 L 1725.6,1574.3 L 1724.3,1573.1 L 1723.1,1571.8 L 1722.0,1570.6 L 1720.9,1569.4 L 1719.8,1568.1 L 1718.7,1566.9 L 1717.6,1565.6 L 1716.6,1564.4 L 1715.7,1563.1 L 1714.7,1561.9 L 1713.8,1560.6 L 1712.9,1559.3 L 1712.0,1558.1 L 1711.2,1556.8 L 1710.4,1555.5 L 1709.7,1554.3 L 1708.9,1553.0 L 1708.2,1551.7 L 1707.5,1550.5 L 1706.9,1549.2 L 1706.3,1547.9 L 1705.7,1546.6 L 1705.1,1545.4 L 1704.6,1544.1 L 1704.1,1542.8 L 1703.7,1541.5 L 1703.2,1540.2 L 1702.8,1539.0 L 1702.4,1537.7 L 1702.1,1536.4 L 1701.8,1535.1 L 1701.5,1533.9 L 1701.2,1532.6 L 1701.0,1531.3 L 1700.8,1530.0 L 1700.6,1528.8 L 1700.4,1527.5 L 1700.3,1526.2 L 1700.2,1525.0 L 1700.1,1523.7 L 1700.1,1522.4 L 1700.1,1521.2 L 1703.6,1584.5 L 1703.6,1585.7 L 1703.6,1586.9 L 1703.7,1588.2 L 1703.8,1589.4 L 1703.9,1590.7 L 1704.0,1591.9 L 1704.2,1593.2 L 1704.4,1594.4 L 1704.7,1595.7 L 1704.9,1597.0 L 1705.2,1598.2 L 1705.5,1599.5 L 1705.9,1600.7 L 1706.3,1602.0 L 1706.7,1603.3 L 1707.1,1604.5 L 1707.6,1605.8 L 1708.0,1607.0 L 1708.6,1608.3 L 1709.1,1609.6 L 1709.7,1610.8 L 1710.3,1612.1 L 1710.9,1613.3 L 1711.6,1614.6 L 1712.3,1615.8 L 1713.0,1617.1 L 1713.8,1618.4 L 1714.6,1619.6 L 1715.4,1620.9 L 1716.2,1622.1 L 1717.1,1623.4 L 1718.0,1624.6 L 1718.9,1625.8 L 1719.9,1627.1 L 1720.9,1628.3 L 1721.9,1629.5 L 1723.0,1630.8 L 1724.1,1632.0 L 1725.2,1633.2 L 1726.3,1634.4 L 1727.5,1635.7 L 1728.7,1636.9 L 1729.9,1638.1 L 1731.2,1639.3 L 1732.5,1640.5 L 1733.8,1641.7 L 1735.2,1642.9 L 1736.6,1644.0 L 1738.0,1645.2 L 1739.4,1646.4 L 1740.9,1647.5 L 1742.4,1648.7 L 1744.0,1649.9 L 1745.5,1651.0 L 1747.1,1652.1 L 1748.8,1653.3 L 1750.4,1654.4 L 1752.1,1655.5 L 1753.8,1656.6 L 1755.6,1657.7 L 1757.3,1658.8 L 1759.1,1659.9 L 1761.0,1661.0 L 1762.8,1662.1 L 1764.7,1663.1 L 1766.6,1664.2 L 1768.6,1665.2 L 1770.5,1666.3 L 1772.5,1667.3 L 1774.6,1668.3 L 1776.6,1669.3 L 1778.7,1670.3 L 1780.8,1671.3 L 1783.0,1672.3 L 1785.1,1673.3 L 1787.3,1674.2 L 1789.5,1675.2 L 1791.8,1676.1 L 1794.0,1677.0 L 1796.3,1677.9 L 1798.6,1678.8 L 1801.0,1679.7 L 1803.3,1680.6 L 1805.7,1681.5 L 1808.1,1682.3 L 1810.6,1683.2 L 1813.0,1684.0 L 1815.5,1684.8 L 1818.0,1685.6 L 1820.6,1686.4 L 1823.1,1687.2 L 1825.7,1687.9 L 1828.3,1688.7 L 1830.9,1689.4 L 1833.5,1690.1 L 1836.2,1690.9 L 1838.9,1691.5 L 1841.6,1692.2 L 1844.3,1692.9 L 1847.0,1693.5 L 1849.8,1694.2 L 1852.5,1694.8 L 1855.3,1695.4 L 1858.1,1696.0 L 1861.0,1696.6 L 1863.8,1697.1 L 1866.7,1697.7 L 1869.5,1698.2 L 1872.4,1698.7 L 1875.3,1699.2 L 1878.2,1699.7 L 1881.2,1700.1 L 1884.1,1700.6 L 1887.1,1701.0 L 1890.0,1701.4 L 1893.0,1701.8 L 1896.0,1702.2 L 1899.0,1702.6 L 1902.0,1702.9 L 1905.0,1703.3 L 1908.1,1703.6 L 1911.1,1703.9 L 1914.1,1704.1 L 1917.2,1704.4 L 1920.3,1704.7 L 1923.3,1704.9 L 1926.4,1705.1 L 1929.5,1705.3 L 1932.6,1705.5 L 1935.7,1705.6 L 1938.8,1705.8 L 1941.9,1705.9 L 1945.0,1706.0 L 1948.1,1706.1 L 1951.2,1706.1 L 1954.3,1706.2 L 1957.4,1706.2 L 1960.5,1706.2 L 1963.6,1706.2 L 1966.8,1706.2 L 1969.9,1706.2 L 1973.0,1706.1 L 1976.1,1706.1 L 1979.2,1706.0 L 1982.3,1705.9 L 1985.4,1705.7 L 1988.5,1705.6 L 1991.6,1705.4 L 1994.7,1705.3 L 1997.8,1705.1 L 2000.8,1704.9 L 2003.9,1704.6 L 2007.0,1704.4 L 2010.0,1704.1 L 2013.1,1703.8 L 2016.1,1703.5 L 2019.1,1703.2 L 2022.2,1702.9 L 2025.2,1702.5 L 2028.2,1702.2 L 2031.2,1701.8 L 2034.1,1701.4 L 2037.1,1701.0 L 2040.1,1700.5 L 2043.0,1700.1 L 2045.9,1699.6 L 2048.8,1699.1 L 2051.7,1698.6 L 2054.6,1698.1 L 2057.5,1697.6 L 2060.3,1697.1 L 2063.2,1696.5 L 2066.0,1695.9 L 2068.8,1695.3 L 2071.6,1694.7 L 2074.4,1694.1 L 2077.1,1693.5 L 2079.8,1692.8 L 2082.6,1692.1 L 2085.3,1691.5 L 2087.9,1690.8 L 2090.6,1690.1 L 2093.2,1689.3 L 2095.8,1688.6 L 2098.4,1687.8 L 2101.0,1687.1 L 2103.5,1686.3 L 2106.1,1685.5 L 2108.6,1684.7 L 2111.1,1683.9 L 2113.5,1683.1 L 2116.0,1682.2 L 2118.4,1681.4 L 2120.8,1680.5 L 2123.1,1679.6 L 2125.5,1678.7 L 2127.8,1677.8 L 2130.1,1676.9 L 2132.3,1676.0 L 2134.6,1675.1 L 2136.8,1674.1 L 2139.0,1673.1 L 2141.1,1672.2 L 2143.2,1671.2 L 2145.4,1670.2 L 2147.4,1669.2 L 2149.5,1668.2 L 2151.5,1667.2 L 2153.5,1666.1 L 2155.5,1665.1 L 2157.4,1664.1 L 2159.3,1663.0 L 2161.2,1661.9 L 2163.1,1660.9 L 2164.9,1659.8 L 2166.7,1658.7 L 2168.5,1657.6 L 2170.2,1656.5 L 2171.9,1655.4 L 2173.6,1654.3 L 2175.2,1653.1 L 2176.9,1652.0 L 2178.5,1650.9 L 2180.0,1649.7 L 2181.6,1648.6 L 2183.1,1647.4 L 2184.5,1646.2 L 2186.0,1645.1 L 2187.4,1643.9 L 2188.8,1642.7 L 2190.1,1641.5 L 2191.5,1640.3 L 2192.7,1639.1 L 2194.0,1637.9 L 2195.2,1636.7 L 2196.4,1635.5 L 2197.6,1634.3 L 2198.8,1633.1 L 2199.9,1631.8 L 2201.0,1630.6 L 2202.0,1629.4 L 2203.0,1628.2 L 2204.0,1626.9 Z" fill="url(#sideJ)"/>
<path d="M 1961.9,1498.6 L 1961.9,1397.8 L 1964.1,1397.8 L 1966.3,1397.8 L 1968.4,1397.8 L 1970.6,1397.8 L 1972.8,1397.9 L 1975.0,1397.9 L 1977.2,1398.0 L 1979.3,1398.0 L 1981.5,1398.1 L 1983.7,1398.2 L 1985.9,1398.3 L 1988.0,1398.4 L 1990.2,1398.5 L 1992.4,1398.6 L 1994.5,1398.7 L 1996.7,1398.9 L 1998.9,1399.0 L 2001.0,1399.1 L 2003.2,1399.3 L 2005.3,1399.5 L 2007.5,1399.6 L 2009.7,1399.8 L 2011.8,1400.0 L 2014.0,1400.2 L 2016.1,1400.4 L 2018.2,1400.6 L 2020.4,1400.9 L 2022.5,1401.1 L 2024.6,1401.4 L 2026.8,1401.6 L 2028.9,1401.9 L 2031.0,1402.1 L 2033.1,1402.4 L 2035.3,1402.7 L 2037.4,1403.0 L 2039.5,1403.3 L 2041.6,1403.6 L 2043.7,1403.9 L 2045.8,1404.3 L 2047.8,1404.6 L 2049.9,1404.9 L 2052.0,1405.3 L 2054.1,1405.7 L 2056.1,1406.0 L 2058.2,1406.4 L 2060.3,1406.8 L 2062.3,1407.2 L 2064.4,1407.6 L 2066.4,1408.0 L 2068.4,1408.4 L 2070.5,1408.9 L 2072.5,1409.3 L 2074.5,1409.8 L 2076.5,1410.2 L 2078.5,1410.7 L 2080.5,1411.1 L 2082.5,1411.6 L 2084.5,1412.1 L 2086.4,1412.6 L 2088.4,1413.1 L 2090.4,1413.6 L 2092.3,1414.2 L 2094.3,1414.7 L 2096.2,1415.2 L 2098.1,1415.8 L 2100.0,1416.3 L 2101.9,1416.9 L 2103.8,1417.5 L 2105.7,1418.1 L 2107.6,1418.6 L 2109.5,1419.2 L 2111.4,1419.8 L 2113.2,1420.5 L 2115.1,1421.1 L 2116.9,1421.7 L 2118.7,1422.4 L 2120.6,1423.0 L 2122.4,1423.7 L 2124.2,1424.3 L 2126.0,1425.0 L 2127.7,1425.7 L 2129.5,1426.4 L 2131.3,1427.1 L 2133.0,1427.8 L 2134.7,1428.5 L 2136.5,1429.2 L 2138.2,1429.9 L 2139.9,1430.7 L 2141.6,1431.4 L 2143.2,1432.2 L 2144.9,1432.9 L 2146.6,1433.7 L 2148.2,1434.5 L 2149.8,1435.2 L 2151.4,1436.0 L 2153.0,1436.8 L 2154.6,1437.6 L 2156.2,1438.5 L 2157.8,1439.3 L 2159.3,1440.1 L 2160.8,1440.9 L 2162.4,1441.8 L 2163.9,1442.6 L 2165.4,1443.5 L 2166.9,1444.4 L 2168.3,1445.3 L 2169.8,1446.1 L 2171.2,1447.0 L 2172.6,1447.9 L 2174.0,1448.8 L 2175.4,1449.7 L 2176.8,1450.7 L 2178.1,1451.6 L 2179.5,1452.5 L 2180.8,1453.5 L 2182.1,1454.4 L 2183.4,1455.4 L 2184.7,1456.3 L 2185.9,1457.3 L 2187.2,1458.3 L 2188.4,1459.3 L 2189.6,1460.3 L 2190.8,1461.3 L 2192.0,1462.3 L 2193.1,1463.3 L 2194.3,1464.3 L 2195.4,1465.3 L 2196.5,1466.4 L 2197.6,1467.4 L 2198.6,1468.4 L 2199.7,1469.5 L 2200.7,1470.6 L 2201.7,1471.6 L 2202.7,1472.7 L 2203.6,1473.8 L 2204.6,1474.9 L 2205.5,1475.9 L 2206.4,1477.0 L 2207.3,1478.1 L 2208.1,1479.2 L 2209.0,1480.4 L 2209.8,1481.5 L 2210.6,1482.6 L 2211.4,1483.7 L 2212.1,1484.9 L 2212.9,1486.0 L 2213.6,1487.1 L 2214.3,1488.3 L 2214.9,1489.5 L 2215.6,1490.6 L 2216.2,1491.8 L 2216.8,1493.0 L 2217.4,1494.1 L 2217.9,1495.3 L 2218.4,1496.5 L 2218.9,1497.7 L 2219.4,1498.9 L 2219.9,1500.1 L 2220.3,1501.3 L 2220.7,1502.5 L 2221.1,1503.7 L 2221.4,1504.9 L 2221.8,1506.1 L 2222.1,1507.4 L 2222.4,1508.6 L 2222.6,1509.8 L 2222.8,1511.0 L 2223.0,1512.3 L 2223.2,1513.5 L 2223.4,1514.8 L 2223.5,1516.0 L 2223.6,1517.3 L 2223.7,1518.5 L 2223.7,1519.8 L 2223.7,1521.0 L 2223.7,1522.3 L 2223.7,1523.5 L 2223.6,1524.8 L 2223.5,1526.1 L 2223.4,1527.3 L 2223.2,1528.6 L 2223.1,1529.9 L 2222.9,1531.1 L 2222.6,1532.4 L 2222.4,1533.7 L 2222.1,1535.0 L 2221.8,1536.2 L 2221.4,1537.5 L 2221.0,1538.8 L 2220.6,1540.1 L 2220.2,1541.4 L 2219.7,1542.6 L 2219.2,1543.9 L 2218.7,1545.2 L 2218.2,1546.5 L 2217.6,1547.7 L 2217.0,1549.0 L 2216.3,1550.3 L 2215.7,1551.6 L 2215.0,1552.8 L 2214.2,1554.1 L 2213.5,1555.4 L 2212.7,1556.7 L 2211.9,1557.9 L 2211.0,1559.2 L 2210.1,1560.5 L 2209.2,1561.7 L 2208.3,1563.0 L 2207.3,1564.2 Z" fill="#74c196" stroke="#fff" stroke-width="1.3" stroke-linejoin="round"/>
<path d="M 1961.9,1498.6 L 2207.3,1564.2 L 2206.3,1565.5 L 2205.2,1566.7 L 2204.2,1568.0 L 2203.1,1569.2 L 2202.0,1570.5 L 2200.8,1571.7 L 2199.6,1572.9 L 2198.4,1574.2 L 2197.1,1575.4 L 2195.9,1576.6 L 2194.6,1577.8 L 2193.2,1579.0 L 2191.8,1580.2 L 2190.4,1581.4 L 2189.0,1582.6 L 2187.5,1583.8 L 2186.0,1585.0 L 2184.5,1586.2 L 2183.0,1587.3 L 2181.4,1588.5 L 2179.8,1589.6 L 2178.1,1590.8 L 2176.5,1591.9 L 2174.8,1593.1 L 2173.0,1594.2 L 2171.3,1595.3 L 2169.5,1596.4 L 2167.6,1597.5 L 2165.8,1598.6 L 2163.9,1599.7 L 2162.0,1600.8 L 2160.1,1601.9 L 2158.1,1602.9 L 2156.1,1604.0 L 2154.1,1605.0 L 2152.0,1606.0 L 2150.0,1607.1 L 2147.9,1608.1 L 2145.7,1609.1 L 2143.6,1610.1 L 2141.4,1611.1 L 2139.2,1612.0 L 2136.9,1613.0 L 2134.7,1613.9 L 2132.4,1614.9 L 2130.0,1615.8 L 2127.7,1616.7 L 2125.3,1617.6 L 2122.9,1618.5 L 2120.5,1619.4 L 2118.1,1620.3 L 2115.6,1621.1 L 2113.1,1622.0 L 2110.6,1622.8 L 2108.1,1623.6 L 2105.5,1624.4 L 2102.9,1625.2 L 2100.3,1626.0 L 2097.7,1626.7 L 2095.0,1627.5 L 2092.4,1628.2 L 2089.7,1628.9 L 2087.0,1629.6 L 2084.2,1630.3 L 2081.5,1631.0 L 2078.7,1631.7 L 2075.9,1632.3 L 2073.1,1632.9 L 2070.3,1633.5 L 2067.5,1634.1 L 2064.6,1634.7 L 2061.7,1635.3 L 2058.9,1635.8 L 2055.9,1636.4 L 2053.0,1636.9 L 2050.1,1637.4 L 2047.1,1637.9 L 2044.2,1638.4 L 2041.2,1638.8 L 2038.2,1639.3 L 2035.2,1639.7 L 2032.2,1640.1 L 2029.2,1640.5 L 2026.1,1640.9 L 2023.1,1641.2 L 2020.0,1641.5 L 2016.9,1641.9 L 2013.9,1642.2 L 2010.8,1642.5 L 2007.7,1642.7 L 2004.6,1643.0 L 2001.5,1643.2 L 1998.4,1643.4 L 1995.2,1643.6 L 1992.1,1643.8 L 1989.0,1644.0 L 1985.8,1644.1 L 1982.7,1644.2 L 1979.5,1644.3 L 1976.4,1644.4 L 1973.2,1644.5 L 1970.1,1644.6 L 1966.9,1644.6 L 1963.8,1644.6 L 1960.6,1644.6 L 1957.5,1644.6 L 1954.3,1644.6 L 1951.2,1644.5 L 1948.0,1644.4 L 1944.9,1644.4 L 1941.7,1644.3 L 1938.6,1644.1 L 1935.4,1644.0 L 1932.3,1643.8 L 1929.2,1643.7 L 1926.1,1643.5 L 1922.9,1643.2 L 1919.8,1643.0 L 1916.7,1642.8 L 1913.6,1642.5 L 1910.5,1642.2 L 1907.5,1641.9 L 1904.4,1641.6 L 1901.3,1641.3 L 1898.3,1640.9 L 1895.2,1640.6 L 1892.2,1640.2 L 1889.2,1639.8 L 1886.2,1639.3 L 1883.2,1638.9 L 1880.2,1638.5 L 1877.2,1638.0 L 1874.3,1637.5 L 1871.3,1637.0 L 1868.4,1636.5 L 1865.5,1636.0 L 1862.6,1635.4 L 1859.7,1634.8 L 1856.9,1634.3 L 1854.0,1633.7 L 1851.2,1633.0 L 1848.4,1632.4 L 1845.6,1631.8 L 1842.8,1631.1 L 1840.1,1630.4 L 1837.4,1629.8 L 1834.6,1629.1 L 1832.0,1628.3 L 1829.3,1627.6 L 1826.6,1626.9 L 1824.0,1626.1 L 1821.4,1625.3 L 1818.8,1624.6 L 1816.2,1623.8 L 1813.7,1622.9 L 1811.2,1622.1 L 1808.7,1621.3 L 1806.2,1620.4 L 1803.8,1619.6 L 1801.3,1618.7 L 1798.9,1617.8 L 1796.6,1616.9 L 1794.2,1616.0 L 1791.9,1615.1 L 1789.6,1614.1 L 1787.3,1613.2 L 1785.1,1612.2 L 1782.9,1611.3 L 1780.7,1610.3 L 1778.5,1609.3 L 1776.4,1608.3 L 1774.3,1607.3 L 1772.2,1606.2 L 1770.1,1605.2 L 1768.1,1604.2 L 1766.1,1603.1 L 1764.1,1602.1 L 1762.2,1601.0 L 1760.3,1599.9 L 1758.4,1598.8 L 1756.5,1597.7 L 1754.7,1596.6 L 1752.9,1595.5 L 1751.1,1594.4 L 1749.4,1593.3 L 1747.7,1592.2 L 1746.0,1591.0 L 1744.3,1589.9 L 1742.7,1588.7 L 1741.1,1587.6 L 1739.6,1586.4 L 1738.0,1585.2 L 1736.5,1584.0 L 1735.1,1582.8 L 1733.6,1581.7 L 1732.2,1580.5 L 1730.9,1579.3 L 1729.5,1578.0 L 1728.2,1576.8 L 1726.9,1575.6 L 1725.7,1574.4 L 1724.4,1573.2 L 1723.2,1571.9 L 1722.1,1570.7 L 1720.9,1569.5 L 1719.8,1568.2 L 1718.8,1567.0 L 1717.7,1565.7 L 1716.7,1564.5 L 1715.7,1563.2 L 1714.8,1562.0 L 1713.9,1560.7 L 1713.0,1559.4 L 1712.1,1558.2 L 1711.3,1556.9 L 1710.5,1555.6 L 1709.7,1554.4 L 1709.0,1553.1 L 1708.3,1551.8 L 1707.6,1550.6 L 1707.0,1549.3 L 1706.3,1548.0 L 1705.7,1546.7 L 1705.2,1545.5 L 1704.7,1544.2 L 1704.2,1542.9 L 1703.7,1541.6 L 1703.3,1540.3 L 1702.8,1539.1 L 1702.5,1537.8 L 1702.1,1536.5 L 1701.8,1535.2 L 1701.5,1534.0 L 1701.2,1532.7 L 1701.0,1531.4 L 1700.8,1530.1 L 1700.6,1528.9 L 1700.4,1527.6 L 1700.3,1526.3 L 1700.2,1525.1 L 1700.1,1523.8 L 1700.1,1522.6 L 1700.1,1521.3 L 1700.1,1520.0 L 1700.1,1518.8 L 1700.2,1517.5 L 1700.3,1516.3 L 1700.4,1515.0 L 1700.5,1513.8 L 1700.7,1512.6 L 1700.9,1511.3 L 1701.1,1510.1 L 1701.4,1508.9 L 1701.7,1507.6 L 1702.0,1506.4 L 1702.3,1505.2 L 1702.6,1504.0 L 1703.0,1502.8 L 1703.4,1501.6 L 1703.8,1500.4 L 1704.3,1499.2 L 1704.8,1498.0 L 1705.3,1496.8 L 1705.8,1495.6 L 1706.3,1494.4 L 1706.9,1493.2 L 1707.5,1492.1 L 1708.1,1490.9 L 1708.7,1489.7 L 1709.4,1488.6 L 1710.1,1487.4 L 1710.8,1486.3 L 1711.5,1485.1 L 1712.2,1484.0 L 1713.0,1482.9 L 1713.8,1481.7 L 1714.6,1480.6 L 1715.5,1479.5 L 1716.3,1478.4 L 1717.2,1477.3 L 1718.1,1476.2 L 1719.0,1475.1 L 1719.9,1474.0 L 1720.9,1473.0 L 1721.9,1471.9 L 1722.9,1470.8 L 1723.9,1469.8 L 1724.9,1468.7 L 1726.0,1467.7 L 1727.1,1466.6 L 1728.1,1465.6 L 1729.3,1464.6 L 1730.4,1463.5 L 1731.5,1462.5 L 1732.7,1461.5 L 1733.9,1460.5 L 1735.1,1459.5 L 1736.3,1458.5 L 1737.5,1457.6 L 1738.8,1456.6 L 1740.1,1455.6 L 1741.4,1454.7 L 1742.7,1453.7 L 1744.0,1452.8 L 1745.3,1451.8 L 1746.7,1450.9 L 1748.0,1450.0 L 1749.4,1449.1 L 1750.8,1448.2 L 1752.2,1447.3 L 1753.7,1446.4 L 1755.1,1445.5 L 1756.6,1444.6 L 1758.0,1443.7 L 1759.5,1442.9 L 1761.0,1442.0 L 1762.5,1441.2 L 1764.1,1440.3 L 1765.6,1439.5 L 1767.2,1438.7 L 1768.7,1437.9 L 1770.3,1437.0 L 1771.9,1436.2 L 1773.5,1435.5 L 1775.2,1434.7 L 1776.8,1433.9 L 1778.4,1433.1 L 1780.1,1432.4 L 1781.8,1431.6 L 1783.5,1430.9 L 1785.2,1430.1 L 1786.9,1429.4 L 1788.6,1428.7 L 1790.3,1428.0 L 1792.1,1427.2 L 1793.8,1426.6 L 1795.6,1425.9 L 1797.3,1425.2 L 1799.1,1424.5 L 1800.9,1423.8 L 1802.7,1423.2 L 1804.5,1422.5 L 1806.4,1421.9 L 1808.2,1421.3 L 1810.1,1420.6 L 1811.9,1420.0 L 1813.8,1419.4 L 1815.6,1418.8 L 1817.5,1418.2 L 1819.4,1417.6 L 1821.3,1417.1 L 1823.2,1416.5 L 1825.1,1415.9 L 1827.1,1415.4 L 1829.0,1414.8 L 1830.9,1414.3 L 1832.9,1413.8 L 1834.8,1413.3 L 1836.8,1412.8 L 1838.8,1412.3 L 1840.7,1411.8 L 1842.7,1411.3 L 1844.7,1410.8 L 1846.7,1410.3 L 1848.7,1409.9 L 1850.7,1409.4 Z" fill="#66c8f4" stroke="#fff" stroke-width="1.3" stroke-linejoin="round"/>
<path d="M 1961.9,1498.6 L 1850.7,1409.4 L 1852.8,1409.0 L 1854.8,1408.6 L 1856.8,1408.1 L 1858.9,1407.7 L 1860.9,1407.3 L 1863.0,1406.9 L 1865.1,1406.5 L 1867.1,1406.1 L 1869.2,1405.7 L 1871.3,1405.4 L 1873.4,1405.0 L 1875.5,1404.7 L 1877.6,1404.3 L 1879.7,1404.0 L 1881.8,1403.7 L 1883.9,1403.4 L 1886.0,1403.1 L 1888.1,1402.8 L 1890.3,1402.5 L 1892.4,1402.2 L 1894.5,1401.9 L 1896.7,1401.6 L 1898.8,1401.4 L 1900.9,1401.1 L 1903.1,1400.9 L 1905.2,1400.7 L 1907.4,1400.5 L 1909.6,1400.2 L 1911.7,1400.0 L 1913.9,1399.8 L 1916.0,1399.7 L 1918.2,1399.5 L 1920.4,1399.3 L 1922.5,1399.2 L 1924.7,1399.0 L 1926.9,1398.9 L 1929.1,1398.7 L 1931.3,1398.6 L 1933.4,1398.5 L 1935.6,1398.4 L 1937.8,1398.3 L 1940.0,1398.2 L 1942.2,1398.1 L 1944.4,1398.0 L 1946.6,1398.0 L 1948.7,1397.9 L 1950.9,1397.9 L 1953.1,1397.8 L 1955.3,1397.8 L 1957.5,1397.8 L 1959.7,1397.8 L 1961.9,1397.8 Z" fill="#e18fa6" stroke="#fff" stroke-width="1.3" stroke-linejoin="round"/>
<polyline points="2223.7,1521.2 2223.7,1522.9 2223.6,1524.7 2223.5,1526.4 2223.3,1528.2 2223.1,1529.9 2222.8,1531.7 2222.4,1533.5 2222.0,1535.2 2221.6,1537.0 2221.1,1538.8 2220.5,1540.5 2219.9,1542.3 2219.2,1544.1 2218.4,1545.8 2217.7,1547.6 2216.8,1549.4 2215.9,1551.1 2214.9,1552.9 2213.9,1554.7 2212.8,1556.4 2211.7,1558.2 2210.5,1559.9 2209.2,1561.7 2207.9,1563.4 2206.6,1565.1 2205.1,1566.9 2203.6,1568.6 2202.1,1570.3 2200.5,1572.0 2198.8,1573.7 2197.1,1575.4 2195.3,1577.1 2193.5,1578.8 2191.6,1580.5 2189.6,1582.1 2187.6,1583.8 2185.5,1585.4 2183.4,1587.0 2181.2,1588.6 2178.9,1590.2 2176.6,1591.8 2174.3,1593.4 2171.9,1594.9 2169.4,1596.5 2166.9,1598.0 2164.3,1599.5 2161.6,1601.0 2158.9,1602.5 2156.2,1603.9 2153.4,1605.4 2150.5,1606.8 2147.6,1608.2 2144.6,1609.6 2141.6,1611.0 2138.5,1612.3 2135.4,1613.6 2132.2,1614.9 2129.0,1616.2 2125.8,1617.5 2122.4,1618.7 2119.1,1619.9 2115.7,1621.1 2112.2,1622.3 2108.7,1623.4 2105.2,1624.5 2101.6,1625.6 2098.0,1626.6 2094.3,1627.7 2090.6,1628.7 2086.8,1629.7 2083.0,1630.6 2079.2,1631.5 2075.4,1632.4 2071.5,1633.3 2067.5,1634.1 2063.6,1634.9 2059.6,1635.7 2055.6,1636.5 2051.5,1637.2 2047.4,1637.8 2043.3,1638.5 2039.2,1639.1 2035.0,1639.7 2030.9,1640.3 2026.7,1640.8 2022.4,1641.3 2018.2,1641.7 2013.9,1642.2 2009.6,1642.6 2005.4,1642.9 2001.1,1643.2 1996.7,1643.5 1992.4,1643.8 1988.1,1644.0 1983.7,1644.2 1979.4,1644.3 1975.0,1644.5 1970.6,1644.6 1966.3,1644.6 1961.9,1644.6 1957.5,1644.6 1953.2,1644.6 1948.8,1644.5 1944.4,1644.3 1940.1,1644.2 1935.7,1644.0 1931.4,1643.8 1927.1,1643.5 1922.7,1643.2 1918.4,1642.9 1914.2,1642.6 1909.9,1642.2 1905.6,1641.7 1901.4,1641.3 1897.1,1640.8 1892.9,1640.3 1888.8,1639.7 1884.6,1639.1 1880.5,1638.5 1876.4,1637.8 1872.3,1637.2 1868.2,1636.5 1864.2,1635.7 1860.2,1634.9 1856.3,1634.1 1852.3,1633.3 1848.4,1632.4 1844.6,1631.5 1840.8,1630.6 1837.0,1629.7 1833.2,1628.7 1829.5,1627.7 1825.8,1626.6 1822.2,1625.6 1818.6,1624.5 1815.1,1623.4 1811.6,1622.3 1808.1,1621.1 1804.7,1619.9 1801.4,1618.7 1798.0,1617.5 1794.8,1616.2 1791.6,1614.9 1788.4,1613.6 1785.3,1612.3 1782.2,1611.0 1779.2,1609.6 1776.2,1608.2 1773.3,1606.8 1770.4,1605.4 1767.6,1603.9 1764.9,1602.5 1762.2,1601.0 1759.5,1599.5 1756.9,1598.0 1754.4,1596.5 1751.9,1594.9 1749.5,1593.4 1747.2,1591.8 1744.9,1590.2 1742.6,1588.6 1740.4,1587.0 1738.3,1585.4 1736.2,1583.8 1734.2,1582.1 1732.2,1580.5 1730.3,1578.8 1728.5,1577.1 1726.7,1575.4 1725.0,1573.7 1723.3,1572.0 1721.7,1570.3 1720.2,1568.6 1718.7,1566.9 1717.2,1565.1 1715.9,1563.4 1714.6,1561.7 1713.3,1559.9 1712.1,1558.2 1711.0,1556.4 1709.9,1554.7 1708.9,1552.9 1707.9,1551.1 1707.0,1549.4 1706.1,1547.6 1705.4,1545.8 1704.6,1544.1 1703.9,1542.3 1703.3,1540.5 1702.7,1538.8 1702.2,1537.0 1701.8,1535.2 1701.4,1533.5 1701.0,1531.7 1700.7,1529.9 1700.5,1528.2 1700.3,1526.4 1700.2,1524.7 1700.1,1522.9 1700.1,1521.2" fill="none" stroke="#fff" stroke-width="1.6"/>
<line x1="2207.3" y1="1564.2" x2="2204.0" y2="1626.9" stroke="#fff" stroke-width="1.2"/>
<text x="1477.3" y="1484.5" font-size="31" fill="#fff" text-anchor="middle" textLength="74.0" lengthAdjust="spacingAndGlyphs">31.78</text>
<text x="1278.6" y="1569.5" font-size="31" fill="#fff" text-anchor="middle" textLength="74.0" lengthAdjust="spacingAndGlyphs">61.70</text>
<text x="2108.9" y="1494.0" font-size="31" fill="#fff" text-anchor="middle" textLength="72.0" lengthAdjust="spacingAndGlyphs">33.33</text>
<text x="1911.0" y="1580.5" font-size="31" fill="#fff" text-anchor="middle" textLength="72.0" lengthAdjust="spacingAndGlyphs">58.33</text>
<text x="1182.7" y="1353.5" font-size="31" fill="#3a3a3a" textLength="55.5" lengthAdjust="spacingAndGlyphs">6.44</text>
<text x="1803.8" y="1368.8" font-size="31" fill="#3a3a3a" textLength="54.6" lengthAdjust="spacingAndGlyphs">8.33</text>
<text x="1293.5" y="1340.0" font-size="30" fill="#3a3a3a" font-weight="bold" textLength="81.0" lengthAdjust="spacingAndGlyphs">Wt (%)</text>
<text x="1932.7" y="1341.9" font-size="30" fill="#3a3a3a" font-weight="bold" textLength="76.5" lengthAdjust="spacingAndGlyphs">At (%)</text>
<polyline points="1243.5,1341.2 1248,1341.2 1312.4,1394.6" fill="none" stroke="#9e9e9e" stroke-width="3"/>
<polyline points="1869.2,1357.8 1873.5,1357.8 1905.7,1400" fill="none" stroke="#9e9e9e" stroke-width="3"/>
<rect x="1467" y="1778" width="33.2" height="33.2" fill="#74c196"/>
<text x="1508.4" y="1805.0" font-size="31" fill="#3a3a3a">Ti</text>
<rect x="1612.7" y="1778" width="33.2" height="33.2" fill="#66c8f4"/>
<text x="1663.4" y="1805.0" font-size="31" fill="#3a3a3a">Fe</text>
<rect x="1766" y="1778" width="33.2" height="33.2" fill="#e18fa6"/>
<text x="1814.2" y="1805.0" font-size="31" fill="#3a3a3a">Si</text>
<circle cx="76.5" cy="63" r="24.5" fill="#04a281" stroke="#1d5e4d" stroke-width="1.6"/>
<text x="76.5" y="75.2" font-size="34" fill="#fff" text-anchor="middle" stroke="#fff" stroke-width="0.6">A</text>
<circle cx="529" cy="62.9" r="24.5" fill="#04a281" stroke="#1d5e4d" stroke-width="1.6"/>
<text x="529.0" y="75.1" font-size="34" fill="#fff" text-anchor="middle" stroke="#fff" stroke-width="0.6">B</text>
<circle cx="1267.6" cy="63" r="24.5" fill="#04a281" stroke="#1d5e4d" stroke-width="1.6"/>
<text x="1267.6" y="75.2" font-size="34" fill="#fff" text-anchor="middle" stroke="#fff" stroke-width="0.6">C</text>
<circle cx="58.3" cy="785.5" r="24.5" fill="none" stroke="#fff" stroke-width="1.8"/>
<text transform="translate(58.3,797.9) scale(0.86,1)" font-size="35" font-weight="bold" fill="#fff" text-anchor="middle">D</text>
<circle cx="633.8" cy="785.6" r="24.5" fill="none" stroke="#fff" stroke-width="1.8"/>
<text transform="translate(633.8,798.0) scale(0.86,1)" font-size="35" font-weight="bold" fill="#fff" text-anchor="middle">E</text>
<circle cx="1188.3" cy="785.3" r="24.5" fill="none" stroke="#fff" stroke-width="1.8"/>
<text transform="translate(1188.3,797.6999999999999) scale(0.86,1)" font-size="35" font-weight="bold" fill="#fff" text-anchor="middle">F</text>
<circle cx="1744.3" cy="785.3" r="24.5" fill="none" stroke="#fff" stroke-width="1.8"/>
<text transform="translate(1744.3,797.6999999999999) scale(0.86,1)" font-size="35" font-weight="bold" fill="#fff" text-anchor="middle">G</text>
<circle cx="75.8" cy="1218.5" r="24.5" fill="#04a281" stroke="#1d5e4d" stroke-width="1.6"/>
<text x="75.8" y="1230.7" font-size="34" fill="#fff" text-anchor="middle" stroke="#fff" stroke-width="0.6">H</text>
<circle cx="1112.6" cy="1218.5" r="24.5" fill="#04a281" stroke="#1d5e4d" stroke-width="1.6"/>
<text x="1112.6" y="1230.7" font-size="34" fill="#fff" text-anchor="middle" stroke="#fff" stroke-width="0.6">I</text>
<circle cx="1745.2" cy="1218.8" r="24.5" fill="#04a281" stroke="#1d5e4d" stroke-width="1.6"/>
<text x="1745.2" y="1231.0" font-size="34" fill="#fff" text-anchor="middle" stroke="#fff" stroke-width="0.6">J</text>
</svg>
</body></html>
